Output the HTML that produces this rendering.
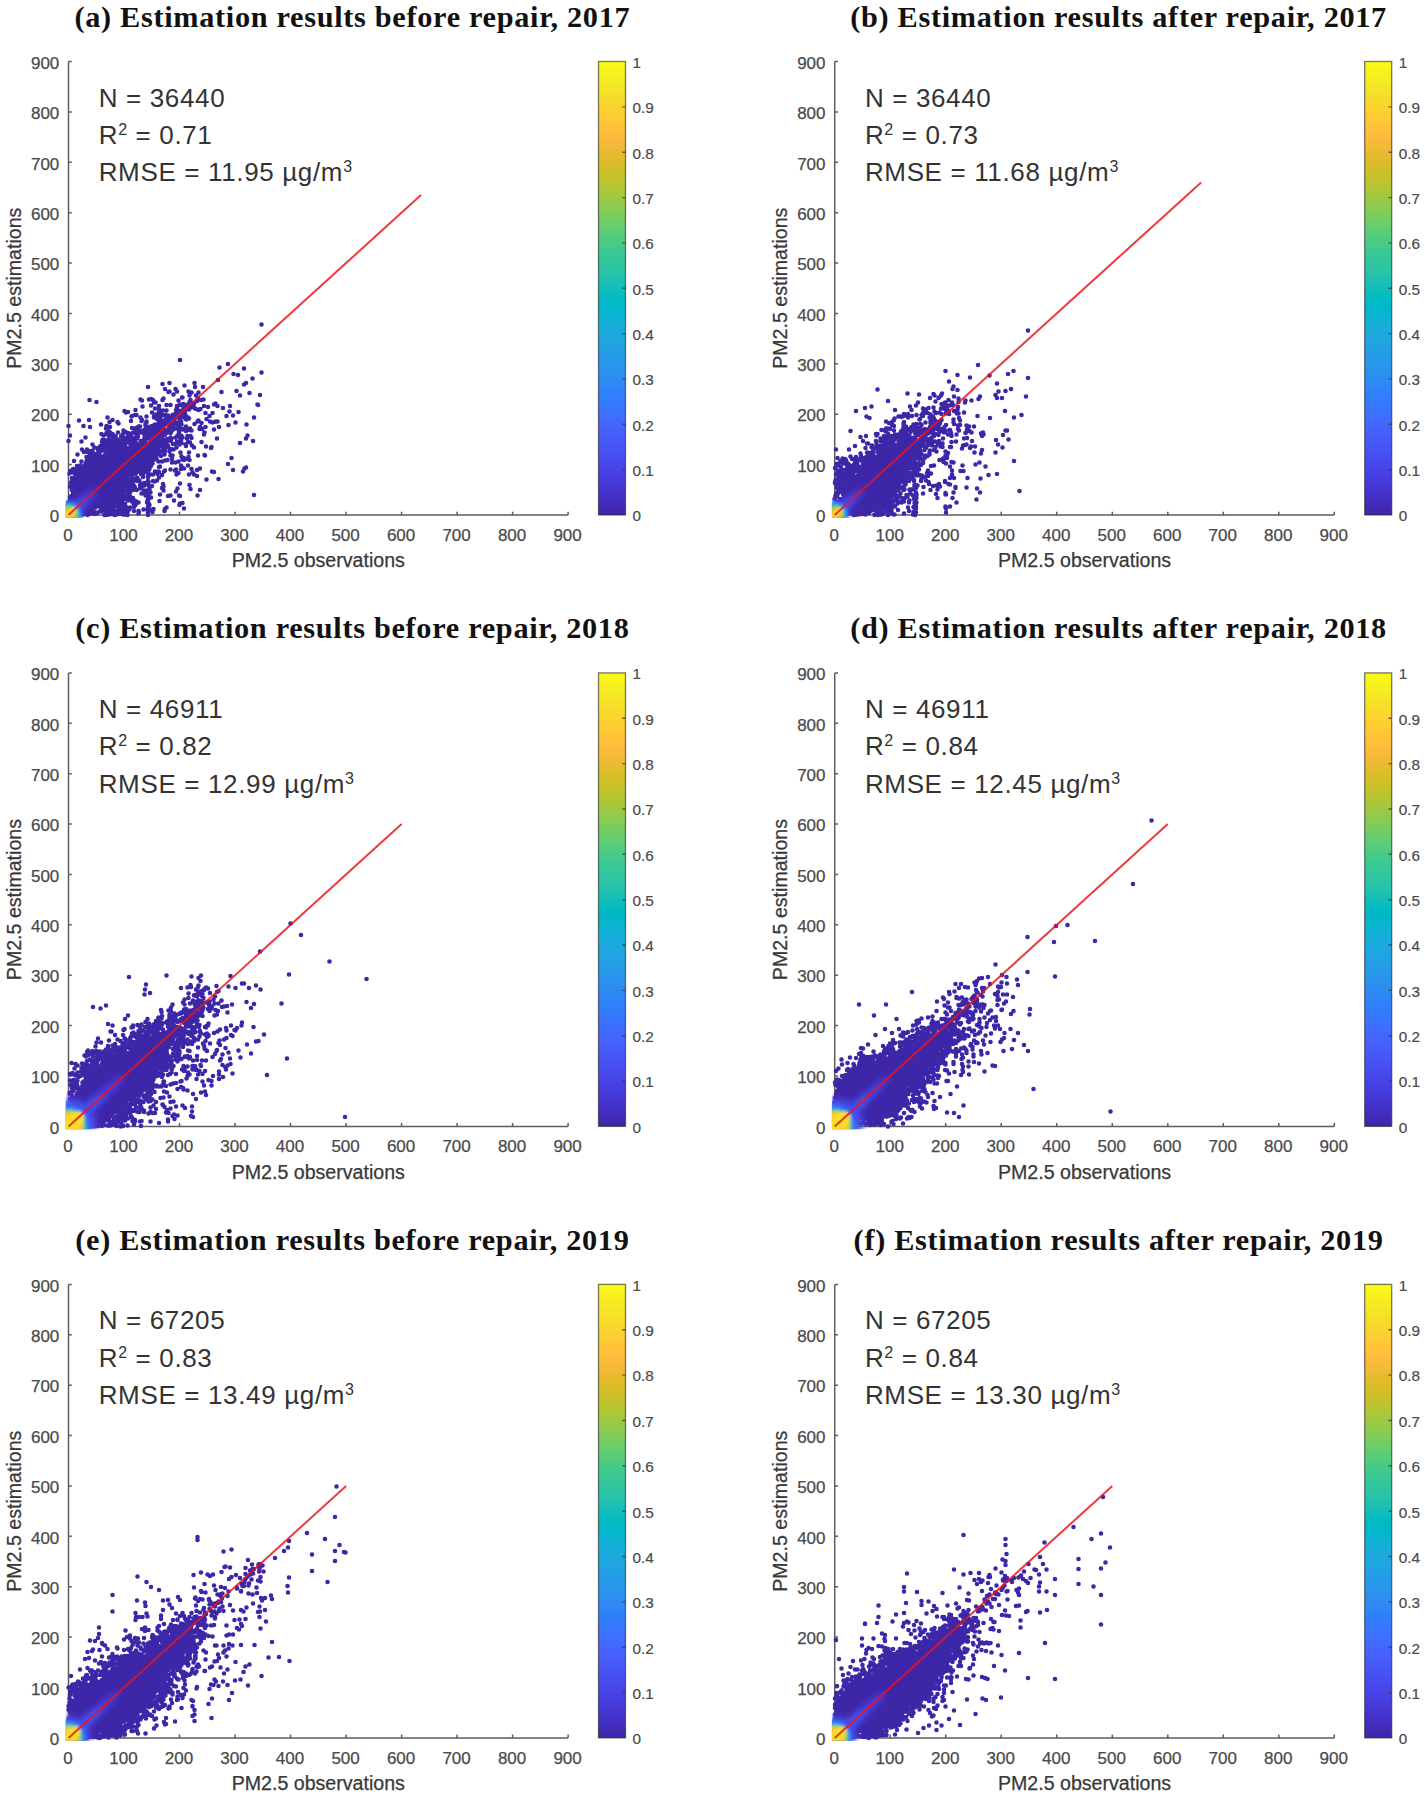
<!DOCTYPE html>
<html lang="en"><head><meta charset="utf-8"><title>PM2.5 estimation results before and after repair</title>
<style>
html,body{margin:0;padding:0;background:#fff}
svg{display:block}
.t{font-family:"Liberation Serif",serif;font-weight:bold;font-size:30.3px;letter-spacing:0.68px;fill:#111}
.tk{font-family:"Liberation Sans",sans-serif;font-size:17px;fill:#4a4a4a;stroke:#4a4a4a;stroke-width:0.25px}
.cb{font-family:"Liberation Sans",sans-serif;font-size:15.3px;fill:#4a4a4a;stroke:#4a4a4a;stroke-width:0.2px}
.lb{font-family:"Liberation Sans",sans-serif;font-size:19.6px;fill:#383838;stroke:#383838;stroke-width:0.25px}
.an{font-family:"Liberation Sans",sans-serif;font-size:26px;letter-spacing:0.65px;fill:#333}
.ax{stroke:#5c5c5c;stroke-width:1.5;fill:none}
.d{stroke:#3e26a8;stroke-width:4.6;stroke-linecap:round;fill:none}
</style></head>
<body>
<svg width="1425" height="1797" viewBox="0 0 1425 1797">
<defs>
<linearGradient id="par" x1="0" y1="1" x2="0" y2="0">
<stop offset="0.0000" stop-color="#3e26a8"/><stop offset="0.0159" stop-color="#402ab4"/><stop offset="0.0317" stop-color="#422ec0"/><stop offset="0.0476" stop-color="#4332cb"/><stop offset="0.0635" stop-color="#4537d5"/><stop offset="0.0794" stop-color="#463cde"/><stop offset="0.0952" stop-color="#4741e5"/><stop offset="0.1111" stop-color="#4747eb"/><stop offset="0.1270" stop-color="#484df0"/><stop offset="0.1429" stop-color="#4852f4"/><stop offset="0.1587" stop-color="#4758f8"/><stop offset="0.1746" stop-color="#465efb"/><stop offset="0.1905" stop-color="#4563fd"/><stop offset="0.2063" stop-color="#4269fe"/><stop offset="0.2222" stop-color="#3e6fff"/><stop offset="0.2381" stop-color="#3875fe"/><stop offset="0.2540" stop-color="#327cfc"/><stop offset="0.2698" stop-color="#2f81fa"/><stop offset="0.2857" stop-color="#2e87f7"/><stop offset="0.3016" stop-color="#2d8cf3"/><stop offset="0.3175" stop-color="#2b91ef"/><stop offset="0.3333" stop-color="#2797eb"/><stop offset="0.3492" stop-color="#259be8"/><stop offset="0.3651" stop-color="#23a0e5"/><stop offset="0.3810" stop-color="#20a5e3"/><stop offset="0.3968" stop-color="#1ca9df"/><stop offset="0.4127" stop-color="#18addb"/><stop offset="0.4286" stop-color="#12b1d6"/><stop offset="0.4444" stop-color="#08b5d0"/><stop offset="0.4603" stop-color="#01b8ca"/><stop offset="0.4762" stop-color="#02bac3"/><stop offset="0.4921" stop-color="#0bbdbd"/><stop offset="0.5079" stop-color="#19bfb6"/><stop offset="0.5238" stop-color="#24c1ae"/><stop offset="0.5397" stop-color="#2cc4a7"/><stop offset="0.5556" stop-color="#31c69f"/><stop offset="0.5714" stop-color="#37c897"/><stop offset="0.5873" stop-color="#3fca8e"/><stop offset="0.6032" stop-color="#4acb84"/><stop offset="0.6190" stop-color="#57cc7a"/><stop offset="0.6349" stop-color="#64cd6f"/><stop offset="0.6508" stop-color="#72cd64"/><stop offset="0.6667" stop-color="#81cc59"/><stop offset="0.6825" stop-color="#8fcb4e"/><stop offset="0.6984" stop-color="#9dc943"/><stop offset="0.7143" stop-color="#abc739"/><stop offset="0.7302" stop-color="#b9c431"/><stop offset="0.7460" stop-color="#c5c22a"/><stop offset="0.7619" stop-color="#d1bf27"/><stop offset="0.7778" stop-color="#dcbd29"/><stop offset="0.7937" stop-color="#e6bb2d"/><stop offset="0.8095" stop-color="#f0ba36"/><stop offset="0.8254" stop-color="#f8ba3d"/><stop offset="0.8413" stop-color="#febe3c"/><stop offset="0.8571" stop-color="#fec338"/><stop offset="0.8730" stop-color="#fec934"/><stop offset="0.8889" stop-color="#fccf30"/><stop offset="0.9048" stop-color="#fad62d"/><stop offset="0.9206" stop-color="#f7dc2a"/><stop offset="0.9365" stop-color="#f5e327"/><stop offset="0.9524" stop-color="#f5e924"/><stop offset="0.9683" stop-color="#f6ef20"/><stop offset="0.9841" stop-color="#f7f51b"/><stop offset="1.0000" stop-color="#f9fb15"/>
</linearGradient>
<filter id="bl" x="-50%" y="-50%" width="200%" height="200%"><feGaussianBlur stdDeviation="1.6"/></filter>
<filter id="bl2" x="-50%" y="-50%" width="200%" height="200%"><feGaussianBlur stdDeviation="3"/></filter>
</defs>
<rect width="1425" height="1797" fill="#fff"/>
<g id="panel-a">
<text class="t" x="352.4" y="27" text-anchor="middle">(a) Estimation results before repair, 2017</text>
<path class="ax" d="M68.5 61.5V515H568.1M124 515v-3.3M68.5 464.6h3.3M179.5 515v-3.3M68.5 414.2h3.3M235 515v-3.3M68.5 363.8h3.3M290.5 515v-3.3M68.5 313.4h3.3M346.1 515v-3.3M68.5 263.1h3.3M401.6 515v-3.3M68.5 212.7h3.3M457.1 515v-3.3M68.5 162.3h3.3M512.6 515v-3.3M68.5 111.9h3.3M568.1 515v-3.3M68.5 61.5h3.3"/>
<polygon points="77.5,506 77.5,478.4 83.7,477.5 84.5,477.4 85.4,477.1 86.2,476.8 86.9,476.4 87.6,475.9 88.3,475.4 88.9,474.8 98.4,464.7 99,464 99.5,463.3 105.8,453.1 113.2,447.4 126.2,447.4 127.2,447.4 145,445.3 145.8,445.2 146.6,445 147.3,444.7 148.1,444.4 148.8,444 157.3,438.7 156.5,445.6 145.7,455.4 145.2,456 144.7,456.5 144.3,457.1 136.7,468.5 125.1,477.7 124.5,478.3 123.9,478.9 123.3,479.5 122.9,480.3 122.5,481 122.2,481.8 121.9,482.6 121.8,483.5 118.5,506" fill="#3e26a8" stroke="#3e26a8" stroke-width="3" stroke-linejoin="round"/>
<path class="d" d="M70 513h0m1-1.5h0m-2-2h0m1.5-1h0m1-0.5h0m0-2.5h0m-1 0h0m-1.5-2.5h0m0 0h0m0.5 0h0m-1-0.5h0m2 0h0m0-2h0m-0.5-3.5h0m0-10.5h0m1-4h0m-1.5-9h0m1-2.5h0m-2-30h0m1.5-5.5h0m-1.5-9.5h0m6 89h0m1-1h0m-2.5 0h0m1 0h0m0-2h0m0-1h0m0.5 0h0m0 0h0m0.5-1h0m-2.5-1h0m2.5 0h0m-1-1h0m1-5h0m-0.5-0.5h0m-1.5-1h0m-1.5 0h0m1 0h0m1.5 0h0m0.5 0h0m0.5-0.5h0m-1.5 0h0m-1-1h0m0.5 0h0m2.5 0h0m-2.5 0h0m4.5-3h0m-1.5 0h0m-4-0.5h0m2.5 0h0m1 0h0m-4-0.5h0m6-0.5h0m-3-0.5h0m2 0h0m0-0.5h0m-1.5-0.5h0m-1.5 0h0m0.5 0h0m-1-1h0m2-0.5h0m1.5-1h0m-2-1.5h0m-2.5 0h0m0-1h0m0.5-1h0m0.5-1h0m-0.5 0h0m2.5-0.5h0m-2 0h0m-1.5-0.5h0m1.5-0.5h0m2-1h0m0 0h0m-1-0.5h0m0-0.5h0m1.5-0.5h0m-2 0h0m-1-0.5h0m2.5-0.5h0m2.5 0h0m0-1h0m-2 0h0m-0.5 0h0m-1 0h0m-2 0h0m3-1h0m-1.5 0h0m1.5-0.5h0m-1 0h0m2-0.5h0m-3 0h0m-1-1h0m0 0h0m3.5-1.5h0m1.5-0.5h0m-0.5-1h0m-2-1.5h0m0-1.5h0m-1 0h0m-1.5 0h0m5.5-1.5h0m-5-1h0m1-0.5h0m3.5-3h0m-3-5h0m3.5 54h0m5.5-0.5h0m-3-1h0m-1.5 0h0m3 0h0m0 0h0m-2-2.5h0m0-1h0m4-0.5h0m-2.5-0.5h0m2-0.5h0m0-0.5h0m-1.5 0h0m0.5-1.5h0m0-0.5h0m-1-1h0m-0.5-0.5h0m1 0h0m-2-2h0m-1-1.5h0m1.5-2.5h0m-2.5-0.5h0m1 0h0m-0.5-0.5h0m0.5-0.5h0m0-0.5h0m0.5-1h0m0-0.5h0m-1-0.5h0m1.5-1.5h0m-2-0.5h0m1 0h0m1-1.5h0m-1-0.5h0m0.5-1.5h0m-1.5-1.5h0m1.5-1.5h0m0-0.5h0m0.5 0h0m0.5-1.5h0m0-1h0m-1.5 0h0m4.5-3.5h0m0-0.5h0m-2.5-0.5h0m2.5-0.5h0m-4.5 0h0m1.5-2.5h0m2-1.5h0m1-1.5h0m0-0.5h0m-1.5 0h0m0 0h0m-4 0h0m4-0.5h0m0 0h0m-1.5 0h0m2-0.5h0m0-1h0m-4-0.5h0m-0.5-1h0m3.5 0h0m0-2h0m-3 0h0m2-1h0m1.5-4h0m-4-7h0m4.5-5h0m-0.5-8h0m2-15.5h0m-4.5-5.5h0m8.5 94.5h0m-3-2h0m3.5 0h0m-2.5-0.5h0m-2-1h0m2-0.5h0m1.5-0.5h0m-0.5-0.5h0m2 0h0m0.5-0.5h0m-2 0h0m-3 0h0m4 0h0m-1-0.5h0m-3.5 0h0m1 0h0m4.5-2h0m0-0.5h0m-4 0h0m2.5-0.5h0m-2-0.5h0m2-0.5h0m-2-1h0m4-0.5h0m-5.5-24h0m1-0.5h0m1.5-1h0m0 0h0m-2-2h0m5-0.5h0m-1.5-0.5h0m-1.5 0h0m-3-1h0m1.5-1h0m1-1h0m-2 0h0m4.5-0.5h0m-1.5-2h0m-3 0h0m-0.5 0h0m4-0.5h0m-0.5-2.5h0m0-0.5h0m0.5 0h0m-3.5 0h0m2.5-0.5h0m-1.5 0h0m0.5-1h0m0.5-1h0m3.5-1h0m-1.5 0h0m-1.5-1h0m2.5-0.5h0m-2-0.5h0m1.5-1.5h0m-1.5 0h0m2-1h0m-2.5-1h0m1-5h0m-3.5 0h0m3-2.5h0m-1.5-12h0m3.5-17.5h0m5.5 94h0m-4-0.5h0m1.5-1.5h0m2.5 0h0m-3.5-1.5h0m-0.5-0.5h0m2-0.5h0m-0.5-0.5h0m-1.5-2h0m-0.5-0.5h0m3-1.5h0m-1.5-1h0m1 0h0m-2-29.5h0m2.5-0.5h0m-1.5 0h0m2-0.5h0m-1-0.5h0m-3-0.5h0m4 0h0m-2-1h0m2.5 0h0m0.5-0.5h0m-1-0.5h0m2 0h0m-3.5-1.5h0m1.5 0h0m-3.5-0.5h0m1-1.5h0m3.5-1.5h0m-4.5-0.5h0m4.5-1.5h0m-1-1h0m-1 0h0m-2-2h0m0.5-1h0m1.5-1h0m2-1h0m-2 0h0m1-1h0m1.5 0h0m-3.5-0.5h0m1.5-0.5h0m-3-1h0m5-0.5h0m-4.5-0.5h0m0.5-2.5h0m1.5 0h0m-0.5 0h0m2.5-3.5h0m-2-3h0m-2.5-17.5h0m-0.5-27h0m7.5 113.5h0m-1-1h0m3.5-1h0m1-0.5h0m0 0h0m0.5-1h0m-5.5-2.5h0m4-1h0m-2-1h0m1.5-1h0m0.5 0h0m-1.5-1h0m-1.5-35h0m1.5-0.5h0m-0.5-1h0m0.5 0h0m2.5-1h0m-1 0h0m-2-1h0m2.5-0.5h0m-3-0.5h0m4.5 0h0m-2-0.5h0m-1.5-1.5h0m0.5 0h0m3-0.5h0m-6-1.5h0m4.5-0.5h0m-1.5-1h0m-0.5-0.5h0m-2-0.5h0m0-1h0m5.5 0h0m-2.5-0.5h0m0-2h0m1.5-2.5h0m-2 0h0m0-1h0m-0.5-0.5h0m0-2h0m3-1.5h0m-0.5-0.5h0m1-12h0m-0.5-9.5h0m-4.5-22.5h0m10 113h0m-2 0h0m1.5-2h0m-4.5-1.5h0m5.5-1h0m-2 0h0m1.5 0h0m-3-2.5h0m-1.5-0.5h0m1-0.5h0m1 0h0m1.5 0h0m-2.5-2.5h0m4 0h0m-0.5-0.5h0m-3-43.5h0m0-0.5h0m0.5 0h0m0.5-2h0m1 0h0m-2-0.5h0m-1 0h0m1.5-0.5h0m0 0h0m1-2h0m2 0h0m0-1h0m0-2h0m-3.5-1.5h0m0-0.5h0m-1 0h0m0-1.5h0m-0.5 0h0m5.5-0.5h0m-1.5-0.5h0m-2-0.5h0m1.5 0h0m0-1h0m-2-0.5h0m2.5 0h0m-0.5-2.5h0m-3.5-1h0m0.5-2h0m2.5 0h0m-1.5-4.5h0m3.5-1.5h0m-0.5-1h0m-0.5-4.5h0m0.5-2.5h0m2.5 88.5h0m2.5-0.5h0m-0.5-0.5h0m-1.5-0.5h0m2-0.5h0m1-2h0m0.5-0.5h0m0-0.5h0m-1.5-0.5h0m-4 0h0m1.5 0h0m1.5-1h0m1.5-1.5h0m-2-0.5h0m1.5-1.5h0m-3.5-0.5h0m0-51h0m1.5-0.5h0m-1 0h0m-0.5 0h0m1.5 0h0m-1-1h0m0-1h0m3 0h0m0-0.5h0m-3-0.5h0m2.5 0h0m1.5 0h0m-1.5-1.5h0m-3.5-0.5h0m4 0h0m-1-0.5h0m-1 0h0m0.5 0h0m1.5-0.5h0m-3-0.5h0m3-0.5h0m-0.5-0.5h0m2.5-0.5h0m-2 0h0m-1 0h0m0-2h0m-1.5-0.5h0m-0.5 0h0m1-0.5h0m-1.5 0h0m0-0.5h0m5-0.5h0m-4-1h0m4 0h0m0-0.5h0m-0.5-2.5h0m-4-1h0m4-1.5h0m-2.5-0.5h0m0-1h0m-1-1h0m-0.5-4.5h0m1.5 0h0m-0.5-5h0m3-2h0m-5-2.5h0m7 97.5h0m2-0.5h0m1-1h0m0.5 0h0m-1.5-0.5h0m2 0h0m-0.5-1h0m-4.5-0.5h0m1-0.5h0m3.5 0h0m0.5-1h0m-0.5-2.5h0m-4.5 0h0m4-1.5h0m-4-1.5h0m4.5 0h0m0.5-0.5h0m0-1h0m-1.5-1.5h0m2 0h0m-1.5-2h0m1-1h0m0-4.5h0m-0.5-1.5h0m0.5-2.5h0m1-6h0m-2-35h0m-2 0h0m-1-1h0m1.5 0h0m0-0.5h0m-1 0h0m1 0h0m3-1h0m-4.5-0.5h0m3 0h0m1.5-0.5h0m-2.5 0h0m0.5 0h0m0.5-0.5h0m2-1.5h0m-3-0.5h0m-1-0.5h0m-0.5-0.5h0m2.5-0.5h0m0 0h0m-2-1h0m2-1h0m-2.5-1h0m0.5-2.5h0m2.5-3.5h0m0.5-9h0m-1-1.5h0m5.5 92.5h0m-2.5-1h0m2.5-1.5h0m-3.5-0.5h0m4-0.5h0m-1 0h0m-0.5-0.5h0m2.5 0h0m-2-0.5h0m-1.5 0h0m1.5-1h0m-3 0h0m4.5 0h0m-3-2h0m1 0h0m-1.5-0.5h0m3 0h0m-2.5-0.5h0m3-0.5h0m-1 0h0m2-1.5h0m-5-0.5h0m1.5 0h0m-1.5 0h0m-0.5-1.5h0m2.5-1h0m-1.5-0.5h0m2.5-1h0m0.5 0h0m-3-1h0m2 0h0m-1.5-0.5h0m-1 0h0m2-1h0m-1-0.5h0m-0.5-0.5h0m0 0h0m0 0h0m4-0.5h0m-5-0.5h0m3.5-0.5h0m0.5-0.5h0m-1-0.5h0m-2.5-1.5h0m3.5 0h0m-1-1h0m1-1.5h0m1.5 0h0m-4.5-0.5h0m2.5-1.5h0m-0.5-0.5h0m0-0.5h0m-1.5 0h0m-0.5-0.5h0m4.5 0h0m-1.5-0.5h0m1 0h0m-1-0.5h0m-0.5 0h0m-2-0.5h0m-0.5 0h0m3-2h0m-2.5-0.5h0m-1-0.5h0m1-0.5h0m1 0h0m1-0.5h0m1.5-1h0m-0.5-1h0m1-0.5h0m-1 0h0m-1.5-0.5h0m-3-28h0m6 0h0m-0.5-0.5h0m-2-1h0m2-0.5h0m-2 0h0m-1 0h0m3-1.5h0m-1-0.5h0m-4-0.5h0m1 0h0m3.5-1h0m-3.5-0.5h0m-0.5-0.5h0m3-1h0m-2.5-1.5h0m3 0h0m0-3h0m-3-1h0m1.5-2h0m3-2.5h0m-2-1.5h0m1-19.5h0m3 104h0m-1.5-0.5h0m1.5-2h0m-0.5-0.5h0m-1-0.5h0m1-0.5h0m1.5-1h0m-0.5 0h0m1.5-1h0m0-1h0m0.5-0.5h0m-4-0.5h0m2-6.5h0m-0.5-0.5h0m2.5-0.5h0m-2.5-0.5h0m-1.5-0.5h0m2 0h0m-2-0.5h0m4.5-1h0m-3-1.5h0m0.5 0h0m1-1h0m-1-0.5h0m0.5-1h0m1.5-0.5h0m-1-0.5h0m0.5-1h0m-3-0.5h0m0.5-1.5h0m2-1h0m2.5 0h0m-1.5-1h0m1-0.5h0m-3 0h0m0.5 0h0m0 0h0m-2-2.5h0m0-1h0m3 0h0m0-0.5h0m2 0h0m-5.5-1h0m2.5-0.5h0m1.5 0h0m-1.5 0h0m1.5-1h0m-3-1.5h0m4-2.5h0m0 0h0m-0.5-0.5h0m0 0h0m1-0.5h0m-3 0h0m3 0h0m-2.5-0.5h0m1-1.5h0m0.5-1h0m1-1h0m-3.5-22h0m0-0.5h0m2.5-0.5h0m0.5-3h0m0.5-0.5h0m-1.5-1h0m-4.5-0.5h0m0 0h0m5 0h0m-2.5-0.5h0m1.5-1h0m-3.5-2.5h0m2 0h0m0.5-0.5h0m-1-0.5h0m3.5-2.5h0m-3-1h0m1.5-0.5h0m-1.5-1h0m3-12h0m0.5-4.5h0m-5.5-4h0m2-0.5h0m6 99h0m0-4h0m1.5-2h0m-2-1.5h0m1.5-1h0m0.5-1h0m-3.5 0h0m2-0.5h0m1.5 0h0m-2.5-3h0m3.5-8h0m-4 0h0m2-0.5h0m0.5-2h0m-1-1.5h0m-1-2h0m-1.5-2h0m0 0h0m5.5-1h0m-2.5-1h0m-2 0h0m0-1h0m1.5 0h0m1.5-0.5h0m-3 0h0m3 0h0m2-0.5h0m-6-0.5h0m0.5 0h0m-0.5-3h0m4-0.5h0m-3-0.5h0m0.5 0h0m3.5-1h0m-1.5 0h0m-1 0h0m0-1h0m0-0.5h0m0-1.5h0m0.5-1h0m-1.5 0h0m3.5-1h0m1-3h0m-4-15.5h0m-2-1.5h0m5 0h0m-3.5-0.5h0m-0.5-0.5h0m2.5-1h0m0 0h0m-1-1.5h0m2 0h0m-3-0.5h0m0.5 0h0m3 0h0m-1-0.5h0m-1.5-2h0m1-0.5h0m0.5-0.5h0m-2.5 0h0m2.5-1h0m-1.5 0h0m-1.5-0.5h0m4.5-0.5h0m-2.5 0h0m1.5-0.5h0m-4.5 0h0m5-3h0m-4-1.5h0m3.5-0.5h0m-1.5-3.5h0m-2.5-1h0m4 0h0m-4-12h0m3-1h0m1.5 0h0m-1-5h0m3 103.5h0m0.5-1.5h0m-0.5-1h0m0-8.5h0m3-9h0m-1.5-5h0m1.5-1.5h0m-1.5-1.5h0m0.5-1h0m0-0.5h0m-1-3.5h0m3.5-3.5h0m0-0.5h0m0-1.5h0m-1-0.5h0m-1-0.5h0m1 0h0m1-0.5h0m0.5-0.5h0m-2.5 0h0m2 0h0m-0.5-2h0m-4-0.5h0m4-1.5h0m-1 0h0m-3-0.5h0m2.5 0h0m0.5 0h0m-3-1h0m2-0.5h0m-1 0h0m1-1h0m-2 0h0m2-2h0m0.5 0h0m-2-0.5h0m-0.5 0h0m5-0.5h0m-5 0h0m4-0.5h0m-0.5 0h0m-1 0h0m0.5-1h0m1.5-0.5h0m-3.5 0h0m2-2h0m1.5-1.5h0m-0.5 0h0m-0.5-1h0m1.5 0h0m-3.5-8.5h0m-1-0.5h0m-0.5 0h0m0.5-0.5h0m0-2h0m1.5 0h0m1-1.5h0m1.5-2h0m-2.5-0.5h0m-2.5-4.5h0m5.5-3.5h0m-3.5-0.5h0m2 0h0m1-1.5h0m0-0.5h0m-4 0h0m1-4h0m-1.5 0h0m1 0h0m2-5.5h0m0.5-1h0m-1.5-2.5h0m2-11h0m-0.5-6h0m-1.5-1h0m7.5 115.5h0m0-1.5h0m0-1h0m0-1h0m-4.5-2h0m4 0h0m1-1.5h0m-0.5-0.5h0m0 0h0m0-1h0m1.5-1.5h0m-0.5-0.5h0m0-0.5h0m-2-1.5h0m1 0h0m-0.5-1.5h0m0-0.5h0m0.5 0h0m0-0.5h0m1.5-3h0m-2-0.5h0m-2-1h0m2.5-1.5h0m0.5-2h0m-4-0.5h0m4 0h0m-0.5-0.5h0m-4-0.5h0m2.5 0h0m3-1h0m-0.5-3.5h0m-4.5-0.5h0m3-2h0m-3.5-0.5h0m4-0.5h0m0.5 0h0m-1-0.5h0m1 0h0m-0.5-1h0m0-3.5h0m0-1h0m0-3h0m0.5-0.5h0m-1-0.5h0m0.5-1h0m0.5-1h0m-3-0.5h0m2-0.5h0m1-0.5h0m-4.5-0.5h0m4-0.5h0m0 0h0m-4.5 0h0m1 0h0m1.5-1h0m0.5 0h0m-1.5-1.5h0m0.5 0h0m2.5-1h0m-1 0h0m-3.5-0.5h0m2 0h0m-1-1.5h0m3-1h0m-3 0h0m0-0.5h0m3.5 0h0m-4 0h0m0.5-0.5h0m2-0.5h0m-3 0h0m3-0.5h0m-1.5 0h0m-1 0h0m4.5-1h0m0 0h0m-2.5-2h0m2.5-0.5h0m-4 0h0m0-0.5h0m1-0.5h0m2 0h0m-1.5-2h0m2.5 0h0m1-1.5h0m-2.5-0.5h0m1.5-1.5h0m-5-2.5h0m2.5 0h0m-1-2h0m1.5-1.5h0m-0.5 0h0m-0.5-1.5h0m-2 0h0m1 0h0m-1-1h0m0.5-1.5h0m2-0.5h0m-1.5-1h0m4 0h0m0.5-0.5h0m-4-0.5h0m3.5-0.5h0m-4-1.5h0m4.5-0.5h0m-1-0.5h0m-3.5-1h0m0 0h0m0.5 0h0m-1.5-1h0m5 0h0m-2.5-0.5h0m3 0h0m-3.5-0.5h0m-0.5-1.5h0m2-2.5h0m-1-1h0m-0.5-0.5h0m0-1.5h0m1-1.5h0m0-1h0m0-5h0m2.5-17h0m-1-12.5h0m4.5 125h0m-2.5-2.5h0m3.5-0.5h0m-2.5-11.5h0m-0.5-5h0m1.5-6.5h0m2.5-4.5h0m-1.5-0.5h0m-2.5-6.5h0m2.5 0h0m2-3h0m-5.5-2.5h0m1.5-3h0m1.5-2.5h0m-0.5-0.5h0m-1-2.5h0m3.5-1h0m-1-0.5h0m0.5-1.5h0m-3.5 0h0m1.5 0h0m2.5-1.5h0m-2.5-0.5h0m2-0.5h0m1-0.5h0m-3 0h0m3-1.5h0m-1.5-0.5h0m-0.5-1h0m0.5 0h0m-0.5-0.5h0m0.5 0h0m0.5-0.5h0m1-0.5h0m-3 0h0m0.5-1.5h0m1.5-3.5h0m-4 0h0m5-0.5h0m-4.5-3h0m0-0.5h0m2.5-1h0m1.5-1.5h0m-3-0.5h0m0-0.5h0m1.5-0.5h0m-0.5-0.5h0m-2.5-1h0m1.5-0.5h0m3-0.5h0m0.5-0.5h0m-0.5-0.5h0m-3.5-1h0m4-0.5h0m-2.5 0h0m-1 0h0m0.5-0.5h0m-2-1.5h0m-0.5 0h0m2-1h0m-2 0h0m3.5-1h0m-2.5-1.5h0m2-0.5h0m2-1h0m0.5-0.5h0m-1-7h0m0-1h0m-2-4h0m3-4h0m-4-3h0m3-3h0m-1-2.5h0m-2-1h0m8.5 102h0m0.5-6.5h0m-3-14h0m2-3h0m-1.5-3.5h0m1.5-2h0m-1-0.5h0m1-4.5h0m0.5 0h0m0.5-0.5h0m-1.5-5h0m-2-3h0m4.5-2.5h0m-4.5-1.5h0m3 0h0m-2.5-1.5h0m4-1.5h0m-0.5 0h0m-0.5-0.5h0m-2-2h0m1.5-3h0m-2 0h0m2-1h0m0.5-0.5h0m0.5 0h0m-1 0h0m-1.5 0h0m1-0.5h0m-1.5-0.5h0m3-1h0m-2.5-0.5h0m-2-2h0m2-1h0m1.5-2h0m-2.5 0h0m2.5-0.5h0m-1-0.5h0m0.5 0h0m2.5-1.5h0m-5.5-0.5h0m5-0.5h0m0 0h0m-4 0h0m3-0.5h0m-4.5-1.5h0m2 0h0m-0.5-1h0m4.5 0h0m-5.5 0h0m2.5 0h0m-3 0h0m3-0.5h0m1-1.5h0m-3-0.5h0m2-0.5h0m2.5 0h0m-3-3.5h0m2-1.5h0m-1-1h0m2.5-1h0m-3-1.5h0m-1.5 0h0m1.5-0.5h0m2-1.5h0m-1.5-0.5h0m-2-1h0m-1-1h0m3-2.5h0m1 0h0m-1 0h0m0-3h0m0-3h0m-3.5-3.5h0m9 108.5h0m0.5-2h0m1.5-1.5h0m-3-17h0m-0.5-1.5h0m-1-1h0m1.5-1.5h0m-0.5-2.5h0m-1-9h0m2-3.5h0m1-1h0m-3-9h0m3-1h0m2.5-0.5h0m-3-5.5h0m0-0.5h0m0.5-3h0m-2-0.5h0m-0.5-1h0m3-2h0m1.5-0.5h0m-2-0.5h0m-3-1h0m2.5-0.5h0m0.5-1h0m1.5 0h0m0 0h0m-3-1h0m0-0.5h0m-1.5-1.5h0m1-0.5h0m2.5-0.5h0m0.5 0h0m-3.5-0.5h0m5-0.5h0m-4-3.5h0m1.5-0.5h0m-1-1.5h0m3.5-3h0m-1 0h0m-4.5-1h0m-0.5-0.5h0m2.5 0h0m-2-1.5h0m2.5-3h0m-3-0.5h0m0.5 0h0m3.5-1.5h0m-3-1h0m0.5-0.5h0m3.5-0.5h0m0-1h0m-1-0.5h0m1-0.5h0m0.5-1h0m-4-2.5h0m2.5 0h0m-4-0.5h0m5-4h0m-3.5 0h0m3.5-5.5h0m-4-5h0m1-1.5h0m1.5-9.5h0m-2.5-5h0m5.5 112h0m2.5-0.5h0m0-26h0m1.5-7h0m0-3.5h0m0.5-3.5h0m-2 0h0m-1-4h0m4-2h0m-2.5-0.5h0m-1.5-0.5h0m-1.5-3h0m5-1.5h0m-2-3h0m-2-0.5h0m2.5-2h0m-1-1h0m0 0h0m0-4.5h0m-3-0.5h0m3.5 0h0m-0.5-0.5h0m2-2h0m-3-0.5h0m2-0.5h0m-1.5-0.5h0m-1 0h0m3.5 0h0m0.5-1.5h0m-3.5-1.5h0m-1-1h0m3.5-1h0m0.5-0.5h0m-3-0.5h0m4-0.5h0m-4.5-2.5h0m4-1h0m-4.5 0h0m4-1h0m-4.5-0.5h0m0.5 0h0m3-0.5h0m-3.5-1h0m4.5-0.5h0m0 0h0m-2-10h0m-2-13h0m1-0.5h0m0-8.5h0m4.5 117.5h0m5-5h0m-3-4h0m1.5-3h0m-1-14h0m2-1.5h0m-3.5-2.5h0m1-1h0m-0.5-7h0m3-1h0m-2-14h0m3-3h0m-4.5-0.5h0m2-2h0m0-0.5h0m-1.5-4h0m3.5-1h0m-1.5-1h0m1.5-3h0m0-1.5h0m0-1.5h0m0.5-0.5h0m-4-0.5h0m3.5-0.5h0m0-3h0m-1.5-0.5h0m-3.5-0.5h0m4-1.5h0m-4-0.5h0m0.5-0.5h0m-1-1.5h0m0-0.5h0m3-2h0m-2-0.5h0m4-0.5h0m-0.5 0h0m-1.5-0.5h0m-1.5 0h0m2-0.5h0m-3-1h0m2.5-2h0m3-1.5h0m-1-0.5h0m-2.5-0.5h0m1-2.5h0m0-1.5h0m1.5-5.5h0m-5-6h0m3.5-3h0m-1.5-2.5h0m8.5 119.5h0m-4.5-3.5h0m0.5-1.5h0m2.5-0.5h0m-2.5-7h0m0-12.5h0m1-14.5h0m3-0.5h0m-2.5-2h0m-0.5-1h0m3-5.5h0m-1.5-0.5h0m1-1.5h0m-2-1.5h0m-1-4h0m1-9.5h0m-0.5 0h0m0-2.5h0m-0.5-1.5h0m2-1.5h0m-1-1.5h0m-0.5-0.5h0m1.5-6h0m-1.5-0.5h0m2.5 0h0m-2-4.5h0m-0.5-3h0m-1-2.5h0m5.5 0h0m-2.5-2h0m-2-0.5h0m0 0h0m1-0.5h0m-1-0.5h0m4.5-0.5h0m-5-2h0m3.5-1h0m-3.5-0.5h0m4.5 0h0m-5-0.5h0m2 0h0m-0.5 0h0m-0.5 0h0m1.5-0.5h0m2 0h0m0-0.5h0m-1-2h0m-3.5-3h0m4.5 0h0m-4.5-0.5h0m3.5-0.5h0m-1-6.5h0m-0.5 0h0m2.5-12h0m-4.5-25.5h0m10.5 129h0m-1-4h0m-0.5-10.5h0m-1-9h0m1.5-5.5h0m-4-1h0m3-2h0m0.5-4.5h0m0 0h0m-3-6.5h0m-0.5-1.5h0m4.5-2h0m-2-0.5h0m-1-3.5h0m4.5-0.5h0m-4-2h0m3 0h0m-4.5-5h0m3.5-1h0m-3-0.5h0m1.5-0.5h0m0 0h0m2-0.5h0m-4-2h0m0.5-7h0m2.5-1h0m-3-1h0m2 0h0m1-8h0m2-2h0m0 0h0m-4.5-0.5h0m0.5-1h0m4.5-0.5h0m-4 0h0m1.5 0h0m-3-0.5h0m2.5 0h0m0.5-1h0m1.5-0.5h0m0.5-0.5h0m-1.5-1h0m1-2h0m-1-4.5h0m2-3h0m-3-1h0m9 104h0m-0.5-19.5h0m-3-1.5h0m-1.5-2h0m4.5-2.5h0m-5.5-1h0m2.5-21.5h0m-2-2h0m-0.5-15h0m3-6.5h0m1.5-15h0m-1-0.5h0m-1.5-2.5h0m0.5-2.5h0m3-2.5h0m-1-5.5h0m-1-8.5h0m-0.5-4h0m5.5 107h0m0-21.5h0m-2-13h0m3.5-13.5h0m-2-13h0m2 0h0m0.5 0h0m-2-0.5h0m1.5 0h0m-1.5-1.5h0m1.5-4h0m-4-1.5h0m1-1h0m0-10.5h0m2-1h0m0.5-9h0m-3-2h0m0.5-5.5h0m4.5-5.5h0m3.5 92.5h0m-1.5-24h0m-0.5-0.5h0m1.5-8.5h0m-2-12h0m0.5-2h0m1-5.5h0m1-8h0m-1-6h0m2.5-6h0m-4-1h0m-0.5-6.5h0m10.5 72.5h0m-2-0.5h0m-1-23.5h0m0.5-1h0m2.5-17.5h0m-1.5-7h0m1.5-0.5h0m-4-0.5h0m-0.5-5.5h0m3-3h0m1.5-8.5h0m1.5-1h0m3 75.5h0m-1.5-40.5h0m2-11.5h0m-1.5-5.5h0m-1.5 0h0m1.5-15.5h0m4-14h0m-3.5-12h0m1.5-12.5h0m7 48.5h0m-3.5-8h0m10 62h0m-5-6h0m3.5-6h0m-3-33h0m4.5-9.5h0m-3.5-4h0m0.5-5.5h0m-2-42h0m7.5 58.5h0m3-10.5h0m-2-21h0m1.5-16h0m-4.5-1h0m9.5 97.5h0m1.5-3h0m-4.5-25.5h0m0-47.5h0m4-11h0m0-16h0m2 99h0m0-29h0m1.5-3h0m-1-11h0m3-31.5h0m-3.5-10h0m8 112h0m-1-54h0m1-23.5h0m3.5-13h0m-5-26h0m5.5 26.5h0m2-10h0m1.5-22.5h0m0-48h0"/>
<clipPath id="clip-a"><rect x="65.7" y="315" width="200" height="202.8"/></clipPath>
<g clip-path="url(#clip-a)"><g filter="url(#bl2)"><ellipse cx="82.4" cy="502.4" rx="18.8" ry="5" fill="#473fe3" opacity="1" transform="rotate(-42.2 82.4 502.4)"/><ellipse cx="76.8" cy="507.4" rx="12" ry="5.5" fill="#4755f6" opacity="0.95" transform="rotate(-42.2 76.8 507.4)"/><circle cx="68.5" cy="515" r="13" fill="#484aee" opacity="0.85"/><circle cx="68.5" cy="515" r="10.9" fill="#475cfa" opacity="0.9"/></g><g filter="url(#bl)"><circle cx="68.5" cy="515" r="13.5" fill="#3876fe" opacity="1"/><circle cx="68.5" cy="515" r="11.3" fill="#15afd9" opacity="1"/><circle cx="68.5" cy="515" r="9.7" fill="#48cb86" opacity="1"/><circle cx="68.5" cy="515" r="8.3" fill="#c1c32d" opacity="1"/><circle cx="68.5" cy="515" r="4.5" fill="#fec437" opacity="1"/><ellipse cx="71.6" cy="512.2" rx="6" ry="3.4" fill="#f6e028" opacity="1" transform="rotate(-42.2 71.6 512.2)"/></g></g>
<line x1="68.5" y1="515" x2="421" y2="195" stroke="#e8141c" stroke-opacity="0.84" stroke-width="2"/>
<text class="tk" x="68" y="540.9" text-anchor="middle">0</text><text class="tk" x="59.3" y="522.2" text-anchor="end">0</text>
<text class="tk" x="123.5" y="540.9" text-anchor="middle">100</text><text class="tk" x="59.3" y="471.8" text-anchor="end">100</text>
<text class="tk" x="179" y="540.9" text-anchor="middle">200</text><text class="tk" x="59.3" y="421.4" text-anchor="end">200</text>
<text class="tk" x="234.5" y="540.9" text-anchor="middle">300</text><text class="tk" x="59.3" y="371" text-anchor="end">300</text>
<text class="tk" x="290" y="540.9" text-anchor="middle">400</text><text class="tk" x="59.3" y="320.6" text-anchor="end">400</text>
<text class="tk" x="345.6" y="540.9" text-anchor="middle">500</text><text class="tk" x="59.3" y="270.3" text-anchor="end">500</text>
<text class="tk" x="401.1" y="540.9" text-anchor="middle">600</text><text class="tk" x="59.3" y="219.9" text-anchor="end">600</text>
<text class="tk" x="456.6" y="540.9" text-anchor="middle">700</text><text class="tk" x="59.3" y="169.5" text-anchor="end">700</text>
<text class="tk" x="512.1" y="540.9" text-anchor="middle">800</text><text class="tk" x="59.3" y="119.1" text-anchor="end">800</text>
<text class="tk" x="567.6" y="540.9" text-anchor="middle">900</text><text class="tk" x="59.3" y="68.7" text-anchor="end">900</text>
<text class="lb" x="318.3" y="567.2" text-anchor="middle">PM2.5 observations</text>
<text class="lb" transform="translate(20.8 288.2) rotate(-90)" text-anchor="middle">PM2.5 estimations</text>
<text class="an" x="98.7" y="106.5">N = 36440</text>
<text class="an" x="98.7" y="143.8">R<tspan dy="-9" font-size="16">2</tspan><tspan dy="9"> = 0.71</tspan></text>
<text class="an" x="98.7" y="181.1">RMSE = 11.95 µg/m<tspan dy="-9" font-size="16">3</tspan></text>
<rect x="598.5" y="61.5" width="27" height="453.5" fill="url(#par)" stroke="#222" stroke-opacity="0.6" stroke-width="1.3"/>
<path d="M625.5 469.6h-3.3M625.5 424.3h-3.3M625.5 378.9h-3.3M625.5 333.6h-3.3M625.5 288.2h-3.3M625.5 242.9h-3.3M625.5 197.6h-3.3M625.5 152.2h-3.3M625.5 106.9h-3.3" stroke="#333" stroke-opacity="0.7" stroke-width="1.4" fill="none"/>
<text class="cb" x="632.5" y="521.3">0</text><text class="cb" x="632.5" y="475.9">0.1</text><text class="cb" x="632.5" y="430.6">0.2</text><text class="cb" x="632.5" y="385.2">0.3</text><text class="cb" x="632.5" y="339.9">0.4</text><text class="cb" x="632.5" y="294.6">0.5</text><text class="cb" x="632.5" y="249.2">0.6</text><text class="cb" x="632.5" y="203.9">0.7</text><text class="cb" x="632.5" y="158.5">0.8</text><text class="cb" x="632.5" y="113.2">0.9</text><text class="cb" x="632.5" y="67.8">1</text>
</g>
<g id="panel-b">
<text class="t" x="1118.6" y="27" text-anchor="middle">(b) Estimation results after repair, 2017</text>
<path class="ax" d="M834.7 61.5V515H1334.3M890.2 515v-3.3M834.7 464.6h3.3M945.7 515v-3.3M834.7 414.2h3.3M1001.2 515v-3.3M834.7 363.8h3.3M1056.7 515v-3.3M834.7 313.4h3.3M1112.3 515v-3.3M834.7 263.1h3.3M1167.8 515v-3.3M834.7 212.7h3.3M1223.3 515v-3.3M834.7 162.3h3.3M1278.8 515v-3.3M834.7 111.9h3.3M1334.3 515v-3.3M834.7 61.5h3.3"/>
<polygon points="843.7,506 843.7,479.5 853.2,477.4 854,477.2 854.8,477 855.5,476.6 856.2,476.2 856.9,475.7 857.5,475.2 858.1,474.6 868.2,463.1 882.5,454.7 882.9,454.5 897.9,444.7 908,441.8 909.7,443.2 912,455.4 908.2,466.4 890.7,478.3 890,478.9 889.3,479.5 888.8,480.1 888.2,480.8 887.8,481.6 887.4,482.4 887.1,483.2 886.9,484.1 882.8,506" fill="#3e26a8" stroke="#3e26a8" stroke-width="3" stroke-linejoin="round"/>
<path class="d" d="M835 514.5h0m-0.5-7h0m2.5-0.5h0m0-1.5h0m-0.5-3.5h0m0-0.5h0m-2-2.5h0m2-2.5h0m0.5-0.5h0m-1.5 0h0m1-2h0m0-1h0m0.5-5h0m0-1.5h0m0-2h0m-2-1.5h0m0-0.5h0m0.5-2h0m0.5-1h0m1.5-5h0m-1.5 0h0m0-0.5h0m1.5-3.5h0m-2.5-2.5h0m1.5-4h0m1-6h0m-1.5-8.5h0m3 64.5h0m4.5 0h0m-1.5-0.5h0m-1.5-0.5h0m1.5-0.5h0m-3-0.5h0m3 0h0m-4-2h0m1.5-1.5h0m-1.5-0.5h0m4-3.5h0m-3.5-1.5h0m0-0.5h0m-0.5 0h0m5.5-0.5h0m-5.5-0.5h0m1-0.5h0m1.5 0h0m0.5 0h0m2-1.5h0m-3-0.5h0m3-5h0m-5-0.5h0m4-1.5h0m-4-0.5h0m3-0.5h0m0-1h0m0.5-0.5h0m-3.5-0.5h0m4.5 0h0m-1-2h0m-2.5-0.5h0m4.5-0.5h0m-6-1h0m2.5-1.5h0m-0.5-1h0m1.5-1.5h0m-0.5 0h0m2.5-1h0m-3.5-0.5h0m1-0.5h0m-1-1h0m2.5 0h0m-3-0.5h0m4-0.5h0m-1-2h0m-2.5-1h0m0.5-1h0m2-0.5h0m-1-2.5h0m0-3h0m-2.5-1.5h0m0-2h0m4-0.5h0m-0.5-1h0m1.5-0.5h0m-3-0.5h0m3-1h0m-1-1.5h0m2 56h0m3-1h0m-1.5 0h0m3 0h0m-3-0.5h0m-2-2h0m1 0h0m4 0h0m-5 0h0m0-0.5h0m5.5-1.5h0m-1 0h0m-3-0.5h0m3-0.5h0m-2.5-0.5h0m0 0h0m1.5-1h0m0-0.5h0m-1 0h0m-1.5-2h0m2.5 0h0m-2.5-2h0m0.5-1h0m0-1.5h0m0.5-1h0m0-1.5h0m-2 0h0m1.5-0.5h0m0-1.5h0m-0.5-3h0m0-0.5h0m-1-5h0m1.5-0.5h0m0.5-2h0m-0.5-2h0m2.5-1h0m-3-1h0m1-0.5h0m2.5 0h0m1 0h0m-4-0.5h0m-2-1h0m6 0h0m-1-0.5h0m-4 0h0m2-0.5h0m-2.5-1h0m1-1h0m1.5-0.5h0m1-1h0m-1.5 0h0m1.5-1h0m-1-0.5h0m-1.5-0.5h0m0.5-0.5h0m-1-1h0m3 0h0m-0.5-1.5h0m1-2.5h0m1-1h0m-1.5 0h0m-2-1h0m2.5-0.5h0m0 0h0m-1.5-1.5h0m-0.5-2h0m-1-1h0m4-9.5h0m4.5 65.5h0m1 0h0m-0.5-0.5h0m-3-2h0m4.5 0h0m-1.5-0.5h0m-1.5-0.5h0m0-0.5h0m1-1h0m-0.5-0.5h0m2-0.5h0m-1-1h0m-3.5 0h0m4.5 0h0m-4.5-1.5h0m3-0.5h0m1-1.5h0m-2.5-24.5h0m1-0.5h0m0-2h0m2.5-0.5h0m-2.5-0.5h0m-3-0.5h0m3-1h0m-3.5-1h0m2-1.5h0m2.5-0.5h0m0.5-0.5h0m-4-1.5h0m3.5-0.5h0m-2.5-0.5h0m0.5 0h0m-1-1h0m-0.5 0h0m1-0.5h0m-0.5-0.5h0m3-0.5h0m1.5-0.5h0m-5.5-0.5h0m4-0.5h0m0-0.5h0m1-1.5h0m-1-3.5h0m-2-0.5h0m-1.5-2.5h0m4.5-10.5h0m-4.5-15h0m7.5 83.5h0m-1.5-0.5h0m4 0h0m1-0.5h0m-4.5-1.5h0m1-0.5h0m0.5-2.5h0m1 0h0m-3.5-0.5h0m0-2.5h0m2.5-0.5h0m-2.5-0.5h0m0 0h0m5-0.5h0m-0.5 0h0m-4-28h0m2 0h0m-0.5-1h0m2-3.5h0m-0.5-0.5h0m-1.5 0h0m2-0.5h0m-3-0.5h0m1 0h0m3.5-0.5h0m-1.5-2.5h0m-4 0h0m3.5-0.5h0m-3-0.5h0m0.5-1h0m0.5-1h0m0-3.5h0m4-0.5h0m-4-0.5h0m2.5-1h0m-4-2h0m5-1.5h0m-0.5-2h0m0-16.5h0m-4.5-26h0m9.5 103.5h0m-3.5-0.5h0m4 0h0m0 0h0m-1.5-0.5h0m-0.5-0.5h0m2-1h0m-3-0.5h0m3-1h0m0-0.5h0m-4 0h0m4-1.5h0m-1 0h0m1-0.5h0m1.5-1h0m-1.5-1h0m-4-0.5h0m1.5-0.5h0m1.5-1h0m0-0.5h0m-2.5-32h0m1.5 0h0m1-1.5h0m-2.5-1.5h0m2.5 0h0m2.5-1h0m-4-1h0m0-0.5h0m0.5 0h0m3-1h0m-4-0.5h0m4.5-0.5h0m-4.5-0.5h0m3.5 0h0m-4-2h0m1.5 0h0m3.5-1h0m-4-2h0m3.5-0.5h0m-4.5 0h0m2 0h0m0.5 0h0m1.5-1h0m0.5-4.5h0m-1.5-4.5h0m1.5-4.5h0m-4-2.5h0m3-5h0m0.5-19.5h0m-1.5-8.5h0m4 105h0m1-1.5h0m-2-1.5h0m5 0h0m-5 0h0m4 0h0m-0.5 0h0m-2.5-2.5h0m2.5-0.5h0m2-0.5h0m-1.5 0h0m-1-1h0m0 0h0m-3-0.5h0m5-0.5h0m0-0.5h0m-3.5 0h0m2.5 0h0m-3 0h0m-1-37h0m3.5-3.5h0m-2-1.5h0m-0.5 0h0m0 0h0m4.5-2h0m-1 0h0m-4.5 0h0m2-1h0m3.5-1.5h0m-5 0h0m0.5-1h0m-1 0h0m0 0h0m5 0h0m-3 0h0m-2-1h0m2-1h0m2.5-1h0m-0.5 0h0m-2 0h0m3.5-1h0m-5.5 0h0m4 0h0m1-2.5h0m-1.5-3h0m0.5-1h0m0-0.5h0m-4-2h0m1.5-25.5h0m2-11.5h0m6.5 108.5h0m-3.5 0h0m0-0.5h0m4.5 0h0m-2-3.5h0m1-0.5h0m1.5-0.5h0m-5-0.5h0m-0.5-0.5h0m4.5 0h0m-1-0.5h0m1.5-0.5h0m-2-1.5h0m-1 0h0m-2-0.5h0m3 0h0m-1-0.5h0m1.5 0h0m0-0.5h0m-2.5-0.5h0m-1.5 0h0m4-1h0m1-44h0m-2.5-0.5h0m1 0h0m2.5-2h0m-0.5-0.5h0m-4 0h0m3.5-1h0m1-2h0m-1.5-1.5h0m0.5-0.5h0m1-0.5h0m-0.5-1.5h0m-5-0.5h0m3.5-0.5h0m-3-0.5h0m4-1.5h0m1-0.5h0m-2-0.5h0m-1-1.5h0m-0.5-3h0m0.5-5.5h0m-0.5-1.5h0m1.5 0h0m0-44.5h0m4 125h0m2-1h0m-2.5-0.5h0m1-1h0m-0.5-2h0m0.5-0.5h0m1 0h0m-0.5-0.5h0m1.5 0h0m-2.5-3.5h0m2.5 0h0m-1.5-0.5h0m-0.5 0h0m3-0.5h0m-2 0h0m-0.5 0h0m1.5-1.5h0m0.5-3.5h0m-0.5-0.5h0m0.5 0h0m-1-0.5h0m0.5-4h0m0.5-0.5h0m-0.5-1h0m0-0.5h0m1-1.5h0m-1-0.5h0m1-1.5h0m-1-32.5h0m0-0.5h0m-2.5-3h0m-1.5-2h0m4.5-1h0m-3.5 0h0m2.5-0.5h0m-2 0h0m2-1.5h0m2-0.5h0m-3.5-0.5h0m0.5-0.5h0m2.5-0.5h0m-3.5-0.5h0m4-1h0m-1.5-0.5h0m1.5 0h0m-1.5-2h0m0-1h0m-3.5 0h0m0.5-1.5h0m-0.5-1h0m4.5 0h0m-0.5-1.5h0m-0.5-1h0m0.5-5.5h0m-3-0.5h0m6.5 85h0m1-2h0m2.5-0.5h0m-3-1h0m-1.5 0h0m4.5-0.5h0m-0.5-0.5h0m-4-0.5h0m0 0h0m4.5-0.5h0m-4.5 0h0m-0.5 0h0m1 0h0m2-0.5h0m-3.5 0h0m0.5 0h0m1-1h0m2-0.5h0m-1.5 0h0m-0.5-0.5h0m0-1h0m3-2h0m-1-0.5h0m-2 0h0m2.5-1h0m-3.5-0.5h0m2.5-0.5h0m-0.5-1h0m-1-1h0m2.5 0h0m0.5-1h0m1-2h0m-3 0h0m0.5-0.5h0m-2.5 0h0m4.5-1h0m-1.5-0.5h0m-2.5-0.5h0m1.5 0h0m0.5-1.5h0m-1-0.5h0m3-1h0m-3 0h0m-0.5-1h0m2.5 0h0m1-0.5h0m-5-0.5h0m2.5-0.5h0m0.5 0h0m2.5-1h0m-1-0.5h0m0.5 0h0m-3-1.5h0m2.5-0.5h0m-4.5-0.5h0m1-1.5h0m4.5 0h0m-4-1.5h0m4-0.5h0m-5.5-1h0m4-0.5h0m1.5-0.5h0m-3-0.5h0m0-0.5h0m2.5-1h0m-4-22h0m1-1h0m-1-0.5h0m-1-1.5h0m3 0h0m-1.5-0.5h0m3.5-0.5h0m-1 0h0m1.5-1.5h0m-2.5-0.5h0m-1-2h0m3.5-1.5h0m-4.5 0h0m1-0.5h0m2-0.5h0m1.5-0.5h0m-4-0.5h0m-0.5 0h0m4 0h0m-4.5-0.5h0m-0.5-0.5h0m0-1h0m3.5-2h0m-3-0.5h0m4.5-0.5h0m-5.5-0.5h0m3-0.5h0m-0.5 0h0m-1.5-1h0m5-0.5h0m-3.5-2.5h0m-2-2h0m4-2.5h0m-4-0.5h0m2 0h0m1-5.5h0m-3-1.5h0m2-20.5h0m6.5 113.5h0m-1 0h0m-1-0.5h0m2.5-7.5h0m-2.5-0.5h0m-0.5-0.5h0m0.5-1h0m-1-0.5h0m6-0.5h0m-5-1.5h0m0.5 0h0m4.5-0.5h0m-3.5-1h0m2-0.5h0m1 0h0m0-1.5h0m-1-0.5h0m-3.5-2.5h0m2.5-1h0m0 0h0m0-1h0m-1.5-1h0m0-0.5h0m1 0h0m-2-0.5h0m4.5-1h0m-4-2h0m4-0.5h0m-1.5-1.5h0m-1-0.5h0m-1-0.5h0m4-0.5h0m-2.5-0.5h0m0.5-2h0m1.5 0h0m0.5-2h0m-1-0.5h0m-0.5-0.5h0m0.5 0h0m-4.5-1h0m4.5 0h0m-1.5 0h0m-3-0.5h0m1.5-2h0m1-1h0m0.5 0h0m2.5-1.5h0m-2.5-1h0m1 0h0m1-1h0m-4.5-21.5h0m2-0.5h0m-1.5-1h0m0.5 0h0m2-0.5h0m-1.5 0h0m2-0.5h0m0.5-1h0m-2 0h0m0.5-1h0m-1.5-2h0m-1-2.5h0m-0.5-0.5h0m2-0.5h0m-1 0h0m1.5-0.5h0m-0.5-1.5h0m-1-0.5h0m3 0h0m-0.5-1.5h0m-0.5-1.5h0m-1-4h0m0-4.5h0m-2-1h0m0.5-3.5h0m1.5-1.5h0m0.5-1.5h0m0.5-8.5h0m3 100h0m3.5-7.5h0m-0.5-0.5h0m0.5-4h0m-2.5-2.5h0m1.5-2h0m-2-3.5h0m5 0h0m-5.5-1h0m0 0h0m0-0.5h0m2.5-1h0m-1.5-0.5h0m0-1.5h0m-0.5-2h0m1.5-1h0m2.5-1h0m0.5 0h0m-5 0h0m2.5-0.5h0m-1 0h0m-1-0.5h0m3 0h0m-2-1.5h0m-1.5-0.5h0m4-0.5h0m-3 0h0m3.5-1h0m-3.5-2h0m-0.5 0h0m3 0h0m-2.5-0.5h0m0 0h0m4-2.5h0m-1.5-0.5h0m1.5-1h0m0.5-0.5h0m-2-1h0m-0.5-0.5h0m1.5-24.5h0m-1.5-0.5h0m-2.5-0.5h0m0-0.5h0m4.5-1.5h0m-3-1h0m-1.5-0.5h0m1 0h0m3-0.5h0m-2.5-1h0m3.5-1.5h0m-4.5 0h0m1-1h0m1-0.5h0m2 0h0m-0.5-0.5h0m-2.5 0h0m1.5 0h0m-3 0h0m2-0.5h0m2 0h0m1-0.5h0m-1.5 0h0m1.5-0.5h0m-2.5-1h0m0-0.5h0m1.5-1.5h0m1-3h0m0-3h0m-2-7h0m-1-0.5h0m-2 0h0m5-0.5h0m0.5 97.5h0m5-2.5h0m-1-3.5h0m1-5h0m-5-1h0m5.5-1h0m-4.5-2.5h0m2.5-1.5h0m-1-1.5h0m3-5.5h0m-5 0h0m-0.5-3.5h0m1.5-1.5h0m0-0.5h0m-0.5 0h0m-1-2h0m5-1h0m-2.5-1h0m0 0h0m-2 0h0m3.5-2h0m0-1h0m-2.5-0.5h0m1.5 0h0m-3 0h0m0.5-0.5h0m2.5-1h0m-2-0.5h0m2.5-0.5h0m-1-2h0m-2-0.5h0m0.5-1h0m1.5-0.5h0m-1-0.5h0m0-1h0m4-0.5h0m-3.5-1.5h0m0.5 0h0m-2 0h0m5-0.5h0m-3 0h0m3-1h0m-0.5-5.5h0m-0.5-0.5h0m0-8.5h0m-3-5.5h0m3-3h0m-0.5-0.5h0m-0.5 0h0m-0.5-1h0m-3 0h0m3.5 0h0m1.5-0.5h0m-2-1h0m-2-0.5h0m2.5-1h0m2-1.5h0m-3.5-1h0m-1-0.5h0m1-1h0m-2 0h0m2.5-2.5h0m2-1h0m-1-1h0m-3.5-0.5h0m2-2h0m-2-1.5h0m0-3h0m4-4.5h0m-2-2h0m2-1.5h0m-4 0h0m3.5-20.5h0m7.5 121.5h0m-2-0.5h0m0.5 0h0m1-0.5h0m-1-2h0m2-2.5h0m0-1h0m-1-0.5h0m-0.5-0.5h0m0-0.5h0m-0.5 0h0m0 0h0m1.5-2h0m-0.5-2h0m1-2.5h0m-1-1h0m-0.5-0.5h0m1-1h0m0.5-0.5h0m-0.5-1h0m-2-1h0m-2.5-2h0m-0.5-2.5h0m4-1.5h0m-2.5 0h0m3-1.5h0m0-1.5h0m0.5-1h0m-0.5-0.5h0m-0.5-4h0m0-1h0m-4-1h0m1.5-0.5h0m-1.5 0h0m3-2.5h0m-1-1h0m1.5-1h0m2-1h0m-3.5 0h0m2 0h0m-4-0.5h0m4.5 0h0m0.5-0.5h0m-0.5-1.5h0m-1.5-2h0m1.5-0.5h0m0.5-0.5h0m-1-0.5h0m-3-0.5h0m3 0h0m-3-0.5h0m4-0.5h0m-3-1.5h0m3 0h0m-3.5-0.5h0m1-0.5h0m-1 0h0m3.5-0.5h0m-0.5-0.5h0m-1-1h0m-2.5-1.5h0m3.5 0h0m-2.5-3h0m-2 0h0m5.5 0h0m-0.5-1h0m0-2h0m-1-1h0m-1-1.5h0m-3 0h0m2-0.5h0m1.5-0.5h0m2 0h0m-3-0.5h0m-2-1h0m1-1h0m-2-0.5h0m2.5-0.5h0m2 0h0m-3.5-0.5h0m4.5-0.5h0m-3.5 0h0m3.5-0.5h0m-4-0.5h0m1-2h0m-1-0.5h0m-1-0.5h0m4 0h0m-0.5-0.5h0m0-0.5h0m2-1.5h0m-3-0.5h0m2.5-1h0m-1 0h0m-4.5-2h0m5.5-2.5h0m-4.5-1h0m5-1.5h0m-5 0h0m0.5-0.5h0m1 0h0m-2-1h0m3-0.5h0m1.5-1h0m-3-0.5h0m2-2.5h0m-1.5-8.5h0m-0.5-6h0m-1.5-3.5h0m6 106h0m-0.5-3h0m0.5-1h0m0-2.5h0m0.5-3.5h0m0-4.5h0m-0.5-2.5h0m0-0.5h0m0.5-0.5h0m-0.5-2h0m0-4.5h0m1.5-2.5h0m-1.5-0.5h0m5-4h0m0.5-2h0m-0.5-3h0m-4-0.5h0m2.5-0.5h0m0 0h0m-1 0h0m-1.5-0.5h0m0-2h0m2-3h0m-2.5-0.5h0m1.5-1.5h0m-2-0.5h0m0.5-1h0m4.5-1h0m-1.5-1h0m-1-0.5h0m1-4h0m0 0h0m-1.5-1h0m-2-0.5h0m4.5-1.5h0m-2 0h0m-2-1.5h0m3-0.5h0m2-0.5h0m-2 0h0m-1.5-1h0m-0.5 0h0m0.5-0.5h0m0.5 0h0m2-0.5h0m-2.5-1h0m1 0h0m1-0.5h0m-1-1.5h0m-1.5-0.5h0m2.5-1h0m-3 0h0m-0.5-2h0m2.5-0.5h0m2.5-1h0m-5 0h0m3 0h0m-3.5-0.5h0m-0.5 0h0m3.5-0.5h0m-0.5-0.5h0m-2 0h0m0-1.5h0m3.5 0h0m0.5-1h0m-4.5 0h0m5.5-2h0m-3.5-3h0m-1-1.5h0m3.5 0h0m-2-0.5h0m2.5 0h0m-2-1.5h0m2.5-2h0m-2.5-0.5h0m0-1h0m-1.5 0h0m4-3h0m-1-1h0m-4 0h0m3-4.5h0m0.5-0.5h0m1.5-4h0m-5 0h0m-0.5-9.5h0m2-3h0m1-8h0m4 99h0m0.5-6.5h0m2.5-6.5h0m-1-3.5h0m-3-1.5h0m5-2.5h0m-4-10h0m0-2.5h0m0.5-1h0m1.5-2h0m2.5-1.5h0m-2-0.5h0m0 0h0m-1-5.5h0m1.5-2h0m-2-2h0m-2-0.5h0m5.5 0h0m-5-1h0m1-2h0m2.5-3h0m1.5-0.5h0m-5 0h0m4-0.5h0m-2.5-1.5h0m2.5-3h0m-0.5-0.5h0m-2.5 0h0m1.5-1h0m2.5-0.5h0m-5 0h0m2.5-1h0m0-2h0m0.5-6.5h0m-2.5-6.5h0m0.5-2h0m-0.5-1h0m4.5 0h0m-2-0.5h0m-1.5-3h0m2 0h0m-3-1h0m7.5 81.5h0m2.5-4h0m-4-2h0m-0.5-2h0m-0.5-6h0m3-2.5h0m-3-3h0m3-4.5h0m-1.5-11.5h0m0-2h0m0.5-2h0m2-5h0m-0.5-0.5h0m0.5-1.5h0m-4-0.5h0m0-1.5h0m2.5-0.5h0m-2-0.5h0m3.5 0h0m-0.5-3h0m-3.5-4h0m4.5-0.5h0m-1-0.5h0m-2.5-1.5h0m4 0h0m-4.5 0h0m0.5-2h0m1-1.5h0m2 0h0m-2 0h0m0-0.5h0m0.5-4h0m1.5 0h0m0 0h0m1-0.5h0m-1-0.5h0m-1.5-1h0m2-0.5h0m-3-3h0m3.5-1h0m-2.5-2h0m-2-6.5h0m5-0.5h0m-3.5-9.5h0m3.5-4h0m4 104h0m-1.5-4h0m1.5-4.5h0m-1-4h0m2.5-1.5h0m-5-18.5h0m5.5-5.5h0m-3-8.5h0m-2.5-1.5h0m1.5-3h0m2.5-3h0m-3-2.5h0m4-0.5h0m-5-5h0m4.5-1h0m-3-1h0m4-2h0m-2.5-3h0m-1.5-1.5h0m1.5-2h0m-1 0h0m2.5 0h0m-4.5-0.5h0m4.5-3h0m-4-0.5h0m1.5 0h0m-0.5-0.5h0m-1.5-2.5h0m2-5.5h0m3.5-0.5h0m-5-1h0m1-10h0m3-3.5h0m0.5-0.5h0m-4.5-2h0m11 112h0m0-13h0m0-1.5h0m-5.5-6.5h0m5-4.5h0m0-1h0m-1.5-19h0m0-2h0m-0.5-1.5h0m2.5-3h0m0-4h0m-3-4.5h0m-2-0.5h0m0.5-2.5h0m1.5-0.5h0m0.5-5h0m1-6h0m1.5-1.5h0m-2.5 0h0m1 0h0m-0.5-1h0m-3-1h0m1 0h0m3-2h0m-4.5-3.5h0m1.5-3.5h0m0-6h0m3.5-5h0m-3-0.5h0m-1 0h0m2.5-2.5h0m-2-2h0m4 0h0m-0.5-1.5h0m-4-7h0m1-2h0m4 119h0m0-4h0m-0.5-2h0m4.5 0h0m-4-12h0m4-10h0m-1.5-0.5h0m1.5-6h0m0-11.5h0m-4-3h0m5.5-1.5h0m-4.5-4h0m0-2.5h0m1-2.5h0m2-6h0m1 0h0m0.5-5h0m0-6h0m-3.5-1.5h0m3-1.5h0m0-0.5h0m-1-2.5h0m-0.5 0h0m-3.5-5h0m3-11h0m-3-0.5h0m0-0.5h0m2 0h0m-1-0.5h0m2-1.5h0m-2-3h0m2.5-2.5h0m-3.5 0h0m-0.5-2.5h0m3-3h0m0.5-18.5h0m-3.5-10.5h0m11 131.5h0m-4-4.5h0m1-5.5h0m2-4.5h0m0-1h0m-1.5-9h0m-2-3.5h0m0-4h0m1.5-8h0m2.5-21h0m0.5-7h0m-2.5-10.5h0m-0.5-1.5h0m0-3h0m3.5-6h0m0-1.5h0m-3-1h0m3.5-1.5h0m-4.5-4.5h0m-1-2.5h0m2-6h0m3.5-6.5h0m-5-1h0m1-2.5h0m4-11.5h0m3 96h0m3 0h0m-1-5.5h0m-0.5-17h0m1-3h0m-4-15h0m-1-1.5h0m0-3.5h0m2-0.5h0m0-4.5h0m-1-2.5h0m-0.5-4.5h0m-0.5-6.5h0m0.5-5h0m0-3.5h0m8 89h0m1-9.5h0m-2.5-33h0m1.5-0.5h0m-2.5-6h0m3-0.5h0m-1.5-5h0m0.5-0.5h0m3.5-1.5h0m-2.5-1.5h0m2-3h0m-2.5-1h0m-2.5-13h0m1-10h0m0.5-2h0m10 64h0m-1-12h0m-4.5-4.5h0m1-1.5h0m4 0h0m-3-5.5h0m-0.5-8.5h0m2.5-6h0m-2.5-26h0m-1.5-23h0m6.5 122h0m3.5-7h0m-3-4h0m3.5-10h0m-1-16h0m1.5-9h0m0-20h0m-3.5-17.5h0m1-17h0m1.5-2.5h0m-2-31.5h0m7.5 101.5h0m-3.5-16.5h0m0-14h0m1.5-1.5h0m-0.5-2h0m5.5 42.5h0m1.5-57h0m-0.5-42.5h0m7.5 98.5h0m-1.5-21.5h0m2.5-8h0m-2-4.5h0m1-42h0m-1.5-3h0m3-3.5h0m-1.5-8h0m5.5 64h0m0.5-12.5h0m2.5-4.5h0m-0.5-19.5h0m-3-13h0m3.5-7h0m3 48.5h0m-1.5-9h0m4-41.5h0m-3-15h0m6 87h0m0-43.5h0m-0.5-46.5h0m6 120h0m2-76h0m4.5-18.5h0m2-18.5h0m0-47.5h0"/>
<clipPath id="clip-b"><rect x="831.9" y="315" width="200" height="202.8"/></clipPath>
<g clip-path="url(#clip-b)"><g filter="url(#bl2)"><ellipse cx="848.6" cy="502.4" rx="18.8" ry="5" fill="#473fe3" opacity="1" transform="rotate(-42.2 848.6 502.4)"/><ellipse cx="843" cy="507.4" rx="12" ry="5.5" fill="#4755f6" opacity="0.95" transform="rotate(-42.2 843 507.4)"/><circle cx="834.7" cy="515" r="13" fill="#484aee" opacity="0.85"/><circle cx="834.7" cy="515" r="10.9" fill="#475cfa" opacity="0.9"/></g><g filter="url(#bl)"><circle cx="834.7" cy="515" r="13.5" fill="#3876fe" opacity="1"/><circle cx="834.7" cy="515" r="11.3" fill="#15afd9" opacity="1"/><circle cx="834.7" cy="515" r="9.7" fill="#48cb86" opacity="1"/><circle cx="834.7" cy="515" r="8.3" fill="#c1c32d" opacity="1"/><circle cx="834.7" cy="515" r="4.5" fill="#fec437" opacity="1"/><ellipse cx="837.8" cy="512.2" rx="6" ry="3.4" fill="#f6e028" opacity="1" transform="rotate(-42.2 837.8 512.2)"/></g></g>
<line x1="834.7" y1="515" x2="1201.1" y2="182.4" stroke="#e8141c" stroke-opacity="0.84" stroke-width="2"/>
<text class="tk" x="834.2" y="540.9" text-anchor="middle">0</text><text class="tk" x="825.5" y="522.2" text-anchor="end">0</text>
<text class="tk" x="889.7" y="540.9" text-anchor="middle">100</text><text class="tk" x="825.5" y="471.8" text-anchor="end">100</text>
<text class="tk" x="945.2" y="540.9" text-anchor="middle">200</text><text class="tk" x="825.5" y="421.4" text-anchor="end">200</text>
<text class="tk" x="1000.7" y="540.9" text-anchor="middle">300</text><text class="tk" x="825.5" y="371" text-anchor="end">300</text>
<text class="tk" x="1056.2" y="540.9" text-anchor="middle">400</text><text class="tk" x="825.5" y="320.6" text-anchor="end">400</text>
<text class="tk" x="1111.8" y="540.9" text-anchor="middle">500</text><text class="tk" x="825.5" y="270.3" text-anchor="end">500</text>
<text class="tk" x="1167.3" y="540.9" text-anchor="middle">600</text><text class="tk" x="825.5" y="219.9" text-anchor="end">600</text>
<text class="tk" x="1222.8" y="540.9" text-anchor="middle">700</text><text class="tk" x="825.5" y="169.5" text-anchor="end">700</text>
<text class="tk" x="1278.3" y="540.9" text-anchor="middle">800</text><text class="tk" x="825.5" y="119.1" text-anchor="end">800</text>
<text class="tk" x="1333.8" y="540.9" text-anchor="middle">900</text><text class="tk" x="825.5" y="68.7" text-anchor="end">900</text>
<text class="lb" x="1084.5" y="567.2" text-anchor="middle">PM2.5 observations</text>
<text class="lb" transform="translate(787 288.2) rotate(-90)" text-anchor="middle">PM2.5 estimations</text>
<text class="an" x="864.9" y="106.5">N = 36440</text>
<text class="an" x="864.9" y="143.8">R<tspan dy="-9" font-size="16">2</tspan><tspan dy="9"> = 0.73</tspan></text>
<text class="an" x="864.9" y="181.1">RMSE = 11.68 µg/m<tspan dy="-9" font-size="16">3</tspan></text>
<rect x="1364.7" y="61.5" width="27" height="453.5" fill="url(#par)" stroke="#222" stroke-opacity="0.6" stroke-width="1.3"/>
<path d="M1391.7 469.6h-3.3M1391.7 424.3h-3.3M1391.7 378.9h-3.3M1391.7 333.6h-3.3M1391.7 288.2h-3.3M1391.7 242.9h-3.3M1391.7 197.6h-3.3M1391.7 152.2h-3.3M1391.7 106.9h-3.3" stroke="#333" stroke-opacity="0.7" stroke-width="1.4" fill="none"/>
<text class="cb" x="1398.7" y="521.3">0</text><text class="cb" x="1398.7" y="475.9">0.1</text><text class="cb" x="1398.7" y="430.6">0.2</text><text class="cb" x="1398.7" y="385.2">0.3</text><text class="cb" x="1398.7" y="339.9">0.4</text><text class="cb" x="1398.7" y="294.6">0.5</text><text class="cb" x="1398.7" y="249.2">0.6</text><text class="cb" x="1398.7" y="203.9">0.7</text><text class="cb" x="1398.7" y="158.5">0.8</text><text class="cb" x="1398.7" y="113.2">0.9</text><text class="cb" x="1398.7" y="67.8">1</text>
</g>
<g id="panel-c">
<text class="t" x="352.4" y="638.4" text-anchor="middle">(c) Estimation results before repair, 2018</text>
<path class="ax" d="M68.5 672.9V1126.4H568.1M124 1126.4v-3.3M68.5 1076h3.3M179.5 1126.4v-3.3M68.5 1025.6h3.3M235 1126.4v-3.3M68.5 975.2h3.3M290.5 1126.4v-3.3M68.5 924.8h3.3M346.1 1126.4v-3.3M68.5 874.5h3.3M401.6 1126.4v-3.3M68.5 824.1h3.3M457.1 1126.4v-3.3M68.5 773.7h3.3M512.6 1126.4v-3.3M68.5 723.3h3.3M568.1 1126.4v-3.3M68.5 672.9h3.3"/>
<polygon points="77.5,1117.4 77.5,1093.7 87.2,1077.7 100.7,1065 122.3,1059.5 123.2,1059.3 124,1058.9 124.8,1058.5 125.6,1058 126.3,1057.4 141.4,1043.2 159.6,1034 174.4,1029.2 178.6,1028 172.7,1041.4 160.1,1059.5 148.1,1074.4 147.4,1075.3 137,1092.4 122,1106 108.5,1117.4" fill="#3e26a8" stroke="#3e26a8" stroke-width="3" stroke-linejoin="round"/>
<path class="d" d="M70.5 1125h0m0-0.5h0m-2-0.5h0m1.5-2h0m0 0h0m0-1.5h0m0-2h0m0 0h0m-1-0.5h0m0 0h0m2-2.5h0m-0.5-2h0m0.5-1h0m-0.5-2h0m0.5-0.5h0m-1.5-0.5h0m0.5-1.5h0m0-0.5h0m1-0.5h0m-2-1h0m2.5-5h0m-1-2h0m-1-5.5h0m1-1h0m0-7.5h0m-0.5-4.5h0m0-6.5h0m1.5-11h0m5 63h0m-1.5-0.5h0m-1.5-2.5h0m1 0h0m0.5-1.5h0m1.5-0.5h0m-3-0.5h0m-1.5-1h0m0-0.5h0m5.5 0h0m-3.5-0.5h0m3 0h0m-1.5 0h0m1-0.5h0m-3-0.5h0m3-1h0m-5 0h0m3.5-1.5h0m-3.5-0.5h0m2.5-0.5h0m1.5-1h0m-0.5 0h0m-0.5-0.5h0m1-0.5h0m0.5-2h0m-2 0h0m1.5-0.5h0m-1-1.5h0m-2-0.5h0m4.5 0h0m-5-0.5h0m4 0h0m-2-1h0m-0.5-2.5h0m1.5-1h0m1.5 0h0m-2.5-0.5h0m0.5-1.5h0m-3-0.5h0m2 0h0m2-2h0m-3.5-2h0m5 0h0m0-0.5h0m-0.5-1h0m1-1.5h0m-6 0h0m0-1h0m1.5-1h0m0.5-0.5h0m-1-1h0m0.5-0.5h0m-1-1h0m3.5 0h0m-2-0.5h0m4-1h0m-1.5 0h0m1-0.5h0m-0.5-1h0m-3.5-0.5h0m1-0.5h0m3 0h0m-4-0.5h0m2.5-1.5h0m-2-2h0m1 0h0m1.5-4.5h0m-2.5-1h0m3.5-1h0m-4.5-0.5h0m5-0.5h0m-3-4h0m3-3h0m-2-1.5h0m4 61.5h0m2.5-1h0m-3.5 0h0m4.5-3.5h0m-4 0h0m3-1.5h0m-1-0.5h0m-3 0h0m0-1h0m1.5-0.5h0m3.5-0.5h0m-2.5-1.5h0m-0.5-2h0m-2-0.5h0m1 0h0m1-2h0m-0.5-1h0m-0.5-2.5h0m-1.5-0.5h0m0.5-3.5h0m0.5-0.5h0m-0.5 0h0m1-0.5h0m-1-1.5h0m0.5-0.5h0m1.5-1h0m-1-1.5h0m2-6h0m-2.5-0.5h0m1-0.5h0m2-0.5h0m-1.5-0.5h0m0-0.5h0m0-1h0m-1.5 0h0m0.5-0.5h0m-1.5-1.5h0m5-1h0m0.5-1h0m-0.5-2h0m1-1h0m-6-1h0m1-3.5h0m2-1h0m2-1.5h0m-1.5-3h0m0.5-3.5h0m1-3h0m1 0h0m-1.5-1.5h0m7 60h0m-4-1h0m-1.5-1h0m3.5 0h0m-0.5-0.5h0m-1.5 0h0m0.5 0h0m0.5-1h0m-2.5-2.5h0m3.5-0.5h0m1 0h0m1-1.5h0m-4.5-31h0m0-0.5h0m3.5-3h0m-3 0h0m1.5 0h0m1.5-1h0m-0.5-2h0m-2-1h0m3.5-0.5h0m-2.5-0.5h0m1.5 0h0m0.5-0.5h0m0 0h0m0 0h0m-4-0.5h0m0 0h0m3-1.5h0m0-1h0m-1.5 0h0m-0.5-0.5h0m4-0.5h0m-0.5 0h0m-5 0h0m2.5-0.5h0m-0.5 0h0m0-1h0m-0.5-0.5h0m0.5 0h0m-1 0h0m-1-0.5h0m0-0.5h0m5.5-0.5h0m-3 0h0m1-1h0m-1-0.5h0m2-1h0m-1.5 0h0m-1-2h0m1-2.5h0m-1-4.5h0m-1.5-1h0m4-0.5h0m1-2.5h0m-2.5-0.5h0m1-1.5h0m5.5 75.5h0m2 0h0m-2.5-0.5h0m-2.5-0.5h0m3-0.5h0m-4-1h0m5 0h0m-3.5-1.5h0m1 0h0m-1.5 0h0m2.5-0.5h0m-2-1.5h0m0-3.5h0m1.5-1h0m-1-39h0m-1-1h0m0 0h0m0-0.5h0m0.5 0h0m-0.5-0.5h0m2.5 0h0m-3.5 0h0m0-1h0m0-1h0m4.5 0h0m0-1h0m-0.5-1.5h0m2-0.5h0m-3-0.5h0m0.5-1h0m-3-0.5h0m0-0.5h0m0.5 0h0m-1-1.5h0m3-1.5h0m2-1h0m-0.5-2h0m-2.5 0h0m3-0.5h0m-4.5-1h0m3-3h0m-1-2.5h0m-1-0.5h0m1.5-2.5h0m3-4.5h0m-2.5-39.5h0m4.5 119h0m2.5-0.5h0m-0.5-0.5h0m-2-0.5h0m3-1h0m-2.5-1h0m-1 0h0m0 0h0m3-0.5h0m-2.5-1h0m2 0h0m-4-0.5h0m2-0.5h0m-1.5-1h0m5-0.5h0m-3-1h0m-1.5 0h0m3-0.5h0m-1-0.5h0m-1.5-1.5h0m-1-45h0m3-0.5h0m-2 0h0m0-1h0m3.5-1.5h0m1 0h0m-5 0h0m0-1h0m0-1.5h0m0-1h0m0.5 0h0m-1-1.5h0m1.5-0.5h0m-2 0h0m2-1h0m0.5-1h0m3.5-0.5h0m-1.5-1.5h0m-3 0h0m0 0h0m2.5-3.5h0m-3.5-0.5h0m4-2h0m-3.5-0.5h0m4.5-8.5h0m-4.5 0h0m1.5-4h0m2.5-30h0m1.5 117.5h0m1-0.5h0m4.5 0h0m-4-1.5h0m-1.5 0h0m1-2h0m-1.5 0h0m4-1.5h0m-1.5-0.5h0m-0.5-0.5h0m-1-1.5h0m3.5-0.5h0m-1-1.5h0m0-0.5h0m-3-49h0m5-2h0m-5-0.5h0m0-0.5h0m0 0h0m5-0.5h0m-0.5-0.5h0m-3.5-0.5h0m2-1.5h0m1-0.5h0m-2.5-0.5h0m-2-0.5h0m4.5 0h0m-1.5 0h0m-1.5 0h0m1.5-0.5h0m0-1h0m-2.5-1h0m2-0.5h0m-1.5-0.5h0m1.5-0.5h0m3.5 0h0m-3.5-2h0m0-0.5h0m3 0h0m-2.5-1.5h0m1.5-1.5h0m0-44h0m4.5 120h0m2.5-1h0m-2-1h0m0.5 0h0m-2 0h0m1-0.5h0m2-0.5h0m0-0.5h0m0.5-0.5h0m-3.5-0.5h0m-0.5-2.5h0m2-2.5h0m1-1.5h0m-2-1.5h0m1.5-1.5h0m2-47.5h0m-5-0.5h0m3-0.5h0m-2-0.5h0m4-0.5h0m-2-0.5h0m0-1.5h0m-3-0.5h0m3.5-2h0m-1.5-0.5h0m2 0h0m1 0h0m-0.5-1h0m-2-0.5h0m-2 0h0m3.5 0h0m-1.5-1h0m-1-1.5h0m-0.5-0.5h0m0.5-0.5h0m2.5-1h0m0-1h0m-4-1.5h0m-0.5-2.5h0m4.5-0.5h0m-3.5-5h0m2.5-9h0m-1 0h0m2-6h0m-4.5-1.5h0m8.5 102h0m-2.5-1.5h0m0-0.5h0m0.5-0.5h0m2 0h0m-2-2h0m3-0.5h0m-2.5 0h0m3-0.5h0m-2-0.5h0m3.5-1h0m-5.5-0.5h0m2.5-1h0m-0.5-1h0m2-0.5h0m0.5-3h0m0.5 0h0m-4.5-1h0m4 0h0m0-1h0m-3 0h0m0.5-0.5h0m2.5-1.5h0m-5-46h0m2-2.5h0m1.5-0.5h0m-2-1.5h0m2-0.5h0m-3-0.5h0m4.5 0h0m0-0.5h0m-1-2.5h0m-2-0.5h0m2.5-0.5h0m1.5-0.5h0m0 0h0m-4-0.5h0m1-0.5h0m-1.5-1h0m4-1h0m-5-1h0m5-1h0m-5.5-0.5h0m4 0h0m-2.5-3.5h0m2.5-4.5h0m-2.5-4.5h0m5.5 91.5h0m2.5-0.5h0m-2-2.5h0m4-3h0m-2.5 0h0m-2-3h0m2 0h0m-2-0.5h0m5-0.5h0m-3.5-0.5h0m-2-0.5h0m-0.5-0.5h0m2.5-1h0m2 0h0m-4.5 0h0m4.5 0h0m-4-0.5h0m0.5 0h0m-0.5-2h0m1 0h0m-0.5-1h0m3 0h0m-3-0.5h0m-0.5-1h0m3.5-0.5h0m0-1h0m-0.5-2h0m-3-0.5h0m0.5 0h0m5-2h0m-2.5 0h0m1.5-1.5h0m-3-40h0m2 0h0m1-0.5h0m-4.5-0.5h0m4-0.5h0m-4-1h0m3.5 0h0m-4-3h0m3-0.5h0m-1-1h0m2 0h0m-2 0h0m2.5-1h0m-1.5-1.5h0m2.5-0.5h0m-4 0h0m1.5 0h0m-2-2h0m2.5-1h0m1-0.5h0m1.5 0h0m-5.5-0.5h0m0.5 0h0m5-2h0m-3-1h0m3-1h0m-1.5-0.5h0m-3.5-2h0m4-2.5h0m0.5 0h0m-2-3.5h0m0.5-5h0m1-1h0m0.5-10h0m2.5 106.5h0m0.5-7h0m-2.5 0h0m5.5-2.5h0m-4.5-2h0m0-0.5h0m-0.5-0.5h0m4 0h0m-1-0.5h0m-2-1h0m4.5-1h0m-3.5-1h0m-0.5-1.5h0m0-1.5h0m1.5 0h0m1 0h0m0.5-1.5h0m-2 0h0m1 0h0m0-0.5h0m1-1h0m-1.5-4.5h0m1.5-0.5h0m0-0.5h0m0-2h0m-3-38h0m0 0h0m1.5 0h0m-3-0.5h0m1.5-0.5h0m1.5-0.5h0m-2.5-0.5h0m4-0.5h0m-2-2.5h0m2.5-1h0m0.5-1h0m-1.5-2.5h0m-0.5-0.5h0m-1.5-0.5h0m-1-3h0m0 0h0m2-0.5h0m-2.5 0h0m4-2h0m-0.5 0h0m-4-2h0m4-1h0m0.5-1.5h0m-2.5-22h0m1-38.5h0m5 147.5h0m1-3h0m-2.5-0.5h0m0.5-0.5h0m2-0.5h0m-1-0.5h0m-2-2h0m5-6h0m-4-0.5h0m1.5-0.5h0m-2-0.5h0m3.5-3h0m-3-3h0m2 0h0m-1-1h0m-1-0.5h0m-1.5-0.5h0m5.5 0h0m0-1h0m-3.5-0.5h0m3.5-0.5h0m-2.5-1.5h0m0 0h0m0-1.5h0m0-0.5h0m0 0h0m-0.5 0h0m-0.5-1.5h0m1-0.5h0m2-3h0m0-1h0m0-1.5h0m0-0.5h0m1 0h0m-1.5-37h0m-4.5 0h0m1-1.5h0m2-1.5h0m-0.5 0h0m-0.5-0.5h0m0.5 0h0m3-1h0m0.5-1h0m-3 0h0m0.5 0h0m2.5-0.5h0m-2-0.5h0m1.5 0h0m-4.5-0.5h0m1.5-1h0m-1 0h0m3.5-0.5h0m-1.5-0.5h0m-2-0.5h0m-1-0.5h0m5.5-1h0m-1-3h0m-1.5-1h0m-3.5-0.5h0m4.5 0h0m-2.5-0.5h0m1.5 0h0m0-1.5h0m-3-0.5h0m1.5-1h0m-2-5h0m1.5-0.5h0m0-1.5h0m8 100.5h0m-1-4.5h0m1.5-0.5h0m-2-9h0m-1 0h0m2.5-3h0m0.5-1h0m-2.5-0.5h0m1.5-2h0m-0.5-2h0m0-1.5h0m-0.5-1.5h0m0.5 0h0m-1-4.5h0m-0.5-0.5h0m0.5 0h0m0-0.5h0m0-0.5h0m2.5-1.5h0m-3.5-0.5h0m3.5-0.5h0m-3.5-0.5h0m3-1h0m-0.5-0.5h0m3 0h0m-0.5-0.5h0m-4 0h0m3 0h0m1 0h0m-5-1h0m5-1.5h0m-2-1h0m1-0.5h0m0.5-0.5h0m-1-3h0m0.5-2h0m0-0.5h0m-4-31.5h0m-0.5-1h0m3.5-0.5h0m-3.5-0.5h0m3-0.5h0m1-0.5h0m-2 0h0m-0.5-2h0m-0.5-0.5h0m-1 0h0m1 0h0m-0.5 0h0m4-2h0m-0.5-1h0m0.5 0h0m0.5-1.5h0m-4 0h0m0.5-1h0m2.5-1.5h0m-2-2h0m0.5-0.5h0m-1.5-2h0m0 0h0m4.5-0.5h0m-2-0.5h0m-1.5-3.5h0m1-0.5h0m-3-1h0m4-0.5h0m7 89h0m-4.5-1.5h0m0-1.5h0m-0.5-8.5h0m5-0.5h0m-2.5-2.5h0m0 0h0m-2-1.5h0m1.5 0h0m2.5 0h0m0-0.5h0m-2.5 0h0m-1.5-1h0m3 0h0m-3.5 0h0m3-1.5h0m1.5-1h0m-0.5-2.5h0m0-1h0m-0.5-1.5h0m2 0h0m-4.5-0.5h0m4-1h0m-5-1h0m1.5-1h0m1.5-0.5h0m2.5-0.5h0m-1.5-1h0m-1-1h0m-2.5-0.5h0m5 0h0m-5-1h0m2.5 0h0m-1.5-1.5h0m1.5 0h0m-1.5-0.5h0m4.5 0h0m-1.5-0.5h0m0 0h0m-4-1h0m1.5-1h0m3.5 0h0m-1 0h0m0-0.5h0m1.5-3.5h0m-4.5-28.5h0m1-0.5h0m-2-3.5h0m4-0.5h0m-4-1.5h0m0.5-0.5h0m-0.5 0h0m3-0.5h0m-0.5-0.5h0m0 0h0m2-0.5h0m-3 0h0m0 0h0m1.5-1.5h0m1.5-1h0m-3.5-1h0m3.5-2h0m-0.5-0.5h0m1.5-2.5h0m-4.5 0h0m1.5-0.5h0m2.5-3h0m-3.5-1.5h0m2-3h0m-3-24.5h0m0.5-5h0m1-5h0m4.5 137h0m4.5-8.5h0m-2.5 0h0m-2-1h0m0-4.5h0m3-2h0m-3-4.5h0m2-1.5h0m-2.5-1.5h0m1-4h0m3.5-2h0m-5-0.5h0m0.5-0.5h0m2.5-2h0m-2-1.5h0m0-0.5h0m5-1h0m-2-0.5h0m-0.5-1h0m-1-2h0m0.5-0.5h0m-2-0.5h0m1 0h0m-0.5-1.5h0m2.5-0.5h0m-3-0.5h0m1.5 0h0m-2-1h0m4 0h0m-4.5 0h0m3.5-0.5h0m0.5-1.5h0m-0.5-0.5h0m-1 0h0m-2-2h0m2.5-0.5h0m2.5 0h0m-2-1h0m-2-1h0m-1-0.5h0m3-0.5h0m2-1.5h0m-3.5-0.5h0m1-0.5h0m0 0h0m0.5-2h0m-0.5-0.5h0m-2-26h0m1.5-0.5h0m1-0.5h0m1.5-0.5h0m-1.5-1h0m1-0.5h0m-1-3.5h0m-1 0h0m-1-0.5h0m1-0.5h0m3 0h0m-1.5-2h0m-2.5-2h0m4-0.5h0m-2.5-0.5h0m1-2h0m2-1h0m-5.5-30.5h0m9 130h0m-3-14h0m0-7h0m4.5-4h0m-4-11.5h0m2.5 0h0m2.5 0h0m-5-1h0m0.5-9.5h0m3.5-0.5h0m-0.5 0h0m0-1.5h0m-3-2h0m0-1h0m-1.5 0h0m0.5-1.5h0m3 0h0m-2.5 0h0m0.5 0h0m0-1.5h0m-0.5 0h0m3.5-0.5h0m-3.5-0.5h0m1.5-1h0m3-0.5h0m-3.5-1h0m1-0.5h0m-2-1h0m2 0h0m-0.5-1h0m0.5 0h0m-0.5-0.5h0m1 0h0m-1 0h0m0.5-1.5h0m-3-23.5h0m2.5 0h0m0-0.5h0m-2.5-0.5h0m2-3.5h0m0-1h0m0-2.5h0m3.5 0h0m-3.5 0h0m-1.5-1h0m3-0.5h0m0.5-0.5h0m0-0.5h0m0.5 0h0m-2 0h0m2.5-1.5h0m-4-0.5h0m0.5-2h0m-1-1h0m2.5 0h0m-0.5-1.5h0m3.5-1h0m-3-1h0m3-5.5h0m-0.5-2h0m5 102.5h0m1-2.5h0m-2.5-3h0m-1.5-2h0m-0.5-0.5h0m1-7h0m3.5-5h0m-3-1h0m2-5.5h0m-3.5-1h0m1-1h0m0-2.5h0m0.5 0h0m-2-4.5h0m1-2.5h0m-1-4h0m1-0.5h0m3.5 0h0m-1-1.5h0m-2-0.5h0m0 0h0m2-0.5h0m-2.5-0.5h0m3-3.5h0m-3.5-0.5h0m2.5-1.5h0m-3.5-0.5h0m2.5 0h0m3.5-0.5h0m-4.5-0.5h0m-1 0h0m1 0h0m3.5-1h0m-2-1h0m-2.5 0h0m5.5-0.5h0m-2.5 0h0m-1.5-1.5h0m-1.5-0.5h0m3.5-0.5h0m-0.5 0h0m-3-0.5h0m5-1h0m-4-0.5h0m1-2h0m2.5 0h0m-2-0.5h0m1.5-2.5h0m1-1h0m-2-12.5h0m-2.5-1h0m2-0.5h0m-1.5-3.5h0m0 0h0m-1.5-4.5h0m0.5-0.5h0m0-1.5h0m4-0.5h0m1-1h0m-5-5.5h0m4.5-40.5h0m1.5 146h0m0-2h0m4.5-3.5h0m-4-3h0m2-4.5h0m0-6.5h0m3-0.5h0m-4-5h0m1-12h0m2.5-1h0m-5-8.5h0m2-1h0m1.5-1.5h0m0.5-3.5h0m-0.5 0h0m-4-2h0m6-1h0m-5.5-1h0m2.5 0h0m1-2.5h0m-0.5 0h0m0.5 0h0m0-2h0m-3 0h0m1.5-1h0m0.5-0.5h0m0-1.5h0m-2-0.5h0m1-0.5h0m3.5-3h0m0.5-4.5h0m-0.5 0h0m-4-2h0m4.5-2.5h0m-4.5-0.5h0m2-1.5h0m1.5-3.5h0m-0.5-0.5h0m0.5-2.5h0m-1.5-3.5h0m-2-2h0m1-0.5h0m1.5-0.5h0m-0.5 0h0m0.5-1.5h0m-3-1h0m-0.5-0.5h0m3 0h0m0 0h0m2-1h0m-2-0.5h0m-2-0.5h0m4.5 0h0m-5.5-0.5h0m3.5-1.5h0m-3 0h0m1.5-1h0m-1.5-1h0m4-1.5h0m-1.5 0h0m-1.5-1.5h0m3-1h0m-1-0.5h0m-2 0h0m0-1h0m1.5-3.5h0m-2.5-1h0m2.5-3h0m1.5-3h0m2 114.5h0m3-3.5h0m-3.5-1h0m2-8h0m1.5-17.5h0m-1.5-6h0m0-9h0m1.5-12.5h0m1.5-2h0m-1 0h0m-2.5 0h0m2-1.5h0m-1-1.5h0m-2.5-0.5h0m5-1h0m-2.5 0h0m1-0.5h0m2-1.5h0m-3-1h0m2.5 0h0m0.5-1h0m-4.5-1.5h0m0-1h0m-0.5-0.5h0m4 0h0m-1 0h0m-0.5 0h0m1.5-0.5h0m0-2h0m-2.5-1h0m-2-1h0m0.5-0.5h0m4.5-0.5h0m-1.5-1.5h0m0.5-1.5h0m-4-3h0m3.5-1h0m1-1h0m-1 0h0m1-1.5h0m-0.5-1h0m-0.5-0.5h0m-2-1h0m2.5 0h0m-2-2h0m1.5-1.5h0m-3-1h0m3-4h0m1.5-0.5h0m-4.5-0.5h0m2-1h0m-1.5-0.5h0m-1.5 0h0m0.5 0h0m1-1.5h0m1.5-3h0m2.5-1h0m-4.5-0.5h0m10.5 94.5h0m-2.5-2.5h0m1-16h0m-0.5-1.5h0m-2-1h0m-0.5-5.5h0m1-0.5h0m2.5-10h0m-2-1.5h0m2.5 0h0m-1-3.5h0m-2-7h0m-1.5-0.5h0m4.5-1.5h0m0.5-0.5h0m-2-9.5h0m0.5-2.5h0m-1-0.5h0m-2.5-0.5h0m1-1h0m3-0.5h0m0.5 0h0m-1-1h0m-1-0.5h0m-0.5-0.5h0m1 0h0m0.5 0h0m-0.5 0h0m-1.5-0.5h0m0.5 0h0m-1-1h0m0-1.5h0m2.5-0.5h0m-2 0h0m-0.5-1h0m-0.5 0h0m0.5-1h0m3.5-0.5h0m-3.5-0.5h0m2-0.5h0m-3.5-1h0m3 0h0m-3-1h0m3.5-0.5h0m-2 0h0m3-1.5h0m-2-0.5h0m-1.5-0.5h0m4-5h0m-1.5-1.5h0m0.5-1.5h0m0 0h0m-1-0.5h0m-1 0h0m2.5-0.5h0m-3 0h0m2-1h0m-2.5-4.5h0m0.5 0h0m-0.5-0.5h0m0.5 0h0m0.5-0.5h0m2.5 0h0m0-3h0m0.5-5h0m-1.5-2h0m1.5-3h0m-3.5-11.5h0m10 128h0m-3.5-25.5h0m-1-12h0m1-2.5h0m2-1.5h0m-1.5-2h0m-0.5-6h0m1.5-8h0m1-1.5h0m-3 0h0m0.5-1h0m2-5h0m-1.5-0.5h0m0-6.5h0m3-2h0m0-0.5h0m-5.5-0.5h0m2-1.5h0m4-3.5h0m-2.5-2h0m0-1.5h0m0.5 0h0m0.5-0.5h0m-3.5-0.5h0m1-5h0m3 0h0m-4.5-0.5h0m0.5-1h0m2-0.5h0m-1-0.5h0m0-0.5h0m0 0h0m3-0.5h0m0.5 0h0m-2.5 0h0m-1-2.5h0m1.5-0.5h0m2-0.5h0m-5 0h0m2.5 0h0m0.5 0h0m1-2h0m0.5-0.5h0m-1.5-1h0m-3-0.5h0m5-1h0m-2.5-0.5h0m1.5-1h0m1 0h0m-2.5-1h0m-1.5-0.5h0m1.5 0h0m-0.5-1h0m1.5 0h0m-3.5-1.5h0m4-5.5h0m-1.5-5.5h0m0-4.5h0m-1-6h0m3.5-0.5h0m-0.5-2h0m2.5 132h0m-1-5.5h0m0-5h0m4-7.5h0m-3-5h0m3.5-15h0m-0.5-9h0m-3.5-0.5h0m4 0h0m-4-0.5h0m2 0h0m0.5-3h0m-2.5 0h0m0.5-5.5h0m4-0.5h0m0-4h0m-5-12h0m2-3h0m0.5-2h0m-0.5-1h0m-1.5-3.5h0m3-2.5h0m-4-0.5h0m3-1h0m-2.5-2.5h0m1-0.5h0m-0.5-0.5h0m4-0.5h0m0-0.5h0m0.5-1h0m-0.5-2.5h0m-4.5-0.5h0m1.5-2h0m0.5-0.5h0m1-0.5h0m1.5-1h0m-3.5-1.5h0m4.5 0h0m-1.5-1h0m-4.5 0h0m0.5-1h0m0-0.5h0m0.5-0.5h0m3.5-0.5h0m1-1.5h0m-3.5-1h0m2-0.5h0m-2.5 0h0m2.5-3h0m-1-3h0m-0.5-1.5h0m2.5-1h0m-3.5-1h0m4-4h0m-3-1h0m0.5-0.5h0m1.5-5.5h0m-4.5-13h0m9.5 116h0m1.5-11h0m-4.5-7h0m4.5-0.5h0m-3-3h0m1.5-5h0m-0.5-1h0m1.5-4.5h0m-4-13h0m5-4h0m-5-4h0m1.5-3h0m1.5-3h0m-0.5-0.5h0m-0.5-1h0m0-1h0m-1-4h0m-1-2h0m1.5 0h0m-2-4.5h0m5-4.5h0m-3.5-0.5h0m3-0.5h0m-3.5-2h0m2.5-0.5h0m0.5-1.5h0m0.5 0h0m0.5-0.5h0m-1.5-1.5h0m0.5 0h0m2-1.5h0m-6 0h0m0-1h0m4 0h0m-3.5-1h0m4.5-1h0m-1-2h0m-0.5 0h0m-3.5 0h0m1.5-0.5h0m3-1h0m-1.5 0h0m-1.5-0.5h0m3-4.5h0m-1.5-1.5h0m2-0.5h0m-4-0.5h0m-0.5-1h0m1-1h0m3-0.5h0m-4-4h0m0.5-1.5h0m2-4.5h0m-2-3h0m2.5-2.5h0m5 119.5h0m-1-3.5h0m-1-6h0m4.5-5.5h0m-3.5-9h0m1-10.5h0m1-9.5h0m-1.5-1.5h0m-1-1h0m-0.5-3h0m1.5-4.5h0m1.5-4h0m1.5-1h0m0-1h0m-3.5-0.5h0m1.5 0h0m0.5-1h0m-1-6h0m-1-0.5h0m1.5-1h0m1.5-0.5h0m0.5-2h0m-0.5-14.5h0m1.5-1h0m-0.5-3h0m-3-2.5h0m3.5-1h0m-1 0h0m-5-3.5h0m0.5-8h0m0.5-1h0m3.5-0.5h0m-2-1h0m5.5 98h0m0-4.5h0m1.5-5h0m-0.5-19h0m2.5-3h0m-5-10.5h0m4-10.5h0m0.5-17.5h0m-5-4.5h0m6-1h0m-4-1.5h0m0.5-2h0m-0.5 0h0m-2-1.5h0m5-1.5h0m-1-4h0m1.5-3h0m-5-3.5h0m9 86h0m0-4.5h0m0-3h0m1-11h0m1-1.5h0m-4.5-8h0m0.5-1h0m3-5h0m-1.5-2h0m1-2.5h0m-2-9h0m2.5-2h0m-3-15h0m1-3.5h0m0.5-7.5h0m-1.5-11.5h0m1.5-1h0m-2-5h0m6.5 91h0m3-7.5h0m-0.5-2h0m2-2h0m-5-0.5h0m0-10.5h0m3-6.5h0m-1.5-8.5h0m2.5-1.5h0m0-7.5h0m-0.5-2.5h0m1.5-15.5h0m-5.5-5.5h0m2-0.5h0m3-0.5h0m-5.5-5.5h0m11 73h0m-2-9.5h0m-0.5-5.5h0m-1.5-6h0m4-16.5h0m-1.5-1h0m0-9.5h0m1-21h0m-3.5-18h0m2-10.5h0m8 74.5h0m-3-20h0m-1-0.5h0m2.5-2h0m-1.5-40h0m5 69.5h0m1-32h0m0.5-3h0m2-39h0m-2 0h0m9 70h0m-4-9h0m4-36.5h0m-4.5-6h0m2.5-14h0m7 53.5h0m-2.5-14.5h0m0.5-23h0m2-18.5h0m2.5 55.5h0m2-51.5h0m-0.5-38h0m7 123.5h0m-3-40.5h0m23 24h0m-5.5-55h0m7.5-29h0m1.5-51h0m10.5 11.5h0m28.5 26.5h0m15.5 155.5h0m21.5-138h0"/>
<clipPath id="clip-c"><rect x="65.7" y="926.4" width="200" height="202.8"/></clipPath>
<g clip-path="url(#clip-c)"><g filter="url(#bl2)"><ellipse cx="96.3" cy="1101.2" rx="37.5" ry="5" fill="#473fe3" opacity="1" transform="rotate(-42.2 96.3 1101.2)"/><ellipse cx="85.2" cy="1111.3" rx="24" ry="5.5" fill="#4755f6" opacity="0.95" transform="rotate(-42.2 85.2 1111.3)"/><circle cx="68.5" cy="1126.4" r="28.5" fill="#484aee" opacity="0.85"/><circle cx="68.5" cy="1126.4" r="23.2" fill="#475cfa" opacity="0.9"/></g><g filter="url(#bl)"><circle cx="68.5" cy="1126.4" r="20.5" fill="#3876fe" opacity="1"/><circle cx="68.5" cy="1126.4" r="18.3" fill="#15afd9" opacity="1"/><circle cx="68.5" cy="1126.4" r="16.7" fill="#48cb86" opacity="1"/><circle cx="68.5" cy="1126.4" r="15.3" fill="#c1c32d" opacity="1"/><circle cx="68.5" cy="1126.4" r="14.5" fill="#fec437" opacity="1"/><ellipse cx="74.4" cy="1121" rx="11.6" ry="7.6" fill="#f6e028" opacity="1" transform="rotate(-42.2 74.4 1121)"/></g></g>
<line x1="68.5" y1="1126.4" x2="401.6" y2="824.1" stroke="#e8141c" stroke-opacity="0.84" stroke-width="2"/>
<text class="tk" x="68" y="1152.3" text-anchor="middle">0</text><text class="tk" x="59.3" y="1133.6" text-anchor="end">0</text>
<text class="tk" x="123.5" y="1152.3" text-anchor="middle">100</text><text class="tk" x="59.3" y="1083.2" text-anchor="end">100</text>
<text class="tk" x="179" y="1152.3" text-anchor="middle">200</text><text class="tk" x="59.3" y="1032.8" text-anchor="end">200</text>
<text class="tk" x="234.5" y="1152.3" text-anchor="middle">300</text><text class="tk" x="59.3" y="982.4" text-anchor="end">300</text>
<text class="tk" x="290" y="1152.3" text-anchor="middle">400</text><text class="tk" x="59.3" y="932" text-anchor="end">400</text>
<text class="tk" x="345.6" y="1152.3" text-anchor="middle">500</text><text class="tk" x="59.3" y="881.7" text-anchor="end">500</text>
<text class="tk" x="401.1" y="1152.3" text-anchor="middle">600</text><text class="tk" x="59.3" y="831.3" text-anchor="end">600</text>
<text class="tk" x="456.6" y="1152.3" text-anchor="middle">700</text><text class="tk" x="59.3" y="780.9" text-anchor="end">700</text>
<text class="tk" x="512.1" y="1152.3" text-anchor="middle">800</text><text class="tk" x="59.3" y="730.5" text-anchor="end">800</text>
<text class="tk" x="567.6" y="1152.3" text-anchor="middle">900</text><text class="tk" x="59.3" y="680.1" text-anchor="end">900</text>
<text class="lb" x="318.3" y="1178.6" text-anchor="middle">PM2.5 observations</text>
<text class="lb" transform="translate(20.8 899.6) rotate(-90)" text-anchor="middle">PM2.5 estimations</text>
<text class="an" x="98.7" y="717.9">N = 46911</text>
<text class="an" x="98.7" y="755.2">R<tspan dy="-9" font-size="16">2</tspan><tspan dy="9"> = 0.82</tspan></text>
<text class="an" x="98.7" y="792.5">RMSE = 12.99 µg/m<tspan dy="-9" font-size="16">3</tspan></text>
<rect x="598.5" y="672.9" width="27" height="453.5" fill="url(#par)" stroke="#222" stroke-opacity="0.6" stroke-width="1.3"/>
<path d="M625.5 1081.1h-3.3M625.5 1035.7h-3.3M625.5 990.4h-3.3M625.5 945h-3.3M625.5 899.7h-3.3M625.5 854.3h-3.3M625.5 809h-3.3M625.5 763.6h-3.3M625.5 718.3h-3.3" stroke="#333" stroke-opacity="0.7" stroke-width="1.4" fill="none"/>
<text class="cb" x="632.5" y="1132.7">0</text><text class="cb" x="632.5" y="1087.4">0.1</text><text class="cb" x="632.5" y="1042">0.2</text><text class="cb" x="632.5" y="996.7">0.3</text><text class="cb" x="632.5" y="951.3">0.4</text><text class="cb" x="632.5" y="906">0.5</text><text class="cb" x="632.5" y="860.6">0.6</text><text class="cb" x="632.5" y="815.2">0.7</text><text class="cb" x="632.5" y="769.9">0.8</text><text class="cb" x="632.5" y="724.6">0.9</text><text class="cb" x="632.5" y="679.2">1</text>
</g>
<g id="panel-d">
<text class="t" x="1118.6" y="638.4" text-anchor="middle">(d) Estimation results after repair, 2018</text>
<path class="ax" d="M834.7 672.9V1126.4H1334.3M890.2 1126.4v-3.3M834.7 1076h3.3M945.7 1126.4v-3.3M834.7 1025.6h3.3M1001.2 1126.4v-3.3M834.7 975.2h3.3M1056.7 1126.4v-3.3M834.7 924.8h3.3M1112.3 1126.4v-3.3M834.7 874.5h3.3M1167.8 1126.4v-3.3M834.7 824.1h3.3M1223.3 1126.4v-3.3M834.7 773.7h3.3M1278.8 1126.4v-3.3M834.7 723.3h3.3M1334.3 1126.4v-3.3M834.7 672.9h3.3"/>
<polygon points="842.7,1118.4 842.7,1087.2 854.9,1078.5 855.8,1077.8 866.5,1067.5 881.1,1060.2 908.4,1050.8 909,1050.6 909.6,1050.3 910.2,1049.9 910.8,1049.5 923.4,1039.4 937.3,1037.8 945,1039.9 945.2,1042.1 933.1,1055.6 932.6,1056.2 932.2,1056.8 931.8,1057.5 923.9,1074.6 907.5,1085.5 906.8,1085.9 906.2,1086.5 905.7,1087.1 905.2,1087.7 895.8,1101.9 880.6,1114.7 880.1,1115.2 876.9,1118.4" fill="#3e26a8" stroke="#3e26a8" stroke-width="3" stroke-linejoin="round"/>
<path class="d" d="M837 1126h0m0-3h0m0-2h0m-0.5-5h0m-2-2.5h0m0.5-1.5h0m0.5-3h0m2-2h0m-1-4h0m-2-0.5h0m1.5-0.5h0m0-0.5h0m-0.5-1.5h0m-0.5-2.5h0m1.5-0.5h0m-0.5-2.5h0m1.5-2.5h0m-0.5-1h0m-1.5-6h0m-0.5-2.5h0m2-3h0m-1-8.5h0m6 55h0m0.5-1h0m-4-0.5h0m4-1.5h0m-3.5-0.5h0m0 0h0m0.5-1.5h0m2-0.5h0m1.5-1h0m-4 0h0m3.5-1h0m0.5-0.5h0m-3.5-2h0m1.5-1.5h0m-3 0h0m3-1h0m-1.5-0.5h0m4-1h0m-5.5-1.5h0m1-0.5h0m2.5-1.5h0m-0.5-0.5h0m1.5-1.5h0m-4-1h0m1.5-0.5h0m-0.5-1h0m1.5 0h0m2.5-0.5h0m-2.5 0h0m2-2h0m0-1h0m-3.5-0.5h0m0.5-0.5h0m3.5 0h0m-1-0.5h0m-1-1h0m-3.5-0.5h0m4.5-0.5h0m-0.5-1h0m-1-1h0m-2.5-1h0m2.5-0.5h0m0.5-0.5h0m-1-0.5h0m2-1h0m-3.5-1.5h0m-0.5 0h0m2.5-2.5h0m0.5-0.5h0m0 0h0m-3.5-0.5h0m0.5-0.5h0m5 0h0m0-0.5h0m-3-0.5h0m2.5-0.5h0m0-0.5h0m-1-1h0m-3.5-0.5h0m-0.5-0.5h0m2.5-1h0m1.5 0h0m-3-1h0m3-4h0m-3.5-7.5h0m3.5-4h0m-0.5-5h0m3 66.5h0m3.5 0h0m-0.5 0h0m1.5-0.5h0m-3-0.5h0m-1.5-2h0m0 0h0m4-0.5h0m-1.5 0h0m0.5-2h0m-1-0.5h0m1.5-1h0m0-1h0m-1 0h0m-2-2.5h0m-0.5-2h0m0-0.5h0m-0.5-5.5h0m1-6h0m-1.5-1.5h0m1.5-3h0m0-2.5h0m0-2.5h0m-1-0.5h0m0.5-4h0m1.5-1h0m1-0.5h0m-1.5-0.5h0m-1 0h0m-1-0.5h0m3.5 0h0m-2.5 0h0m1-0.5h0m3-0.5h0m-2-2.5h0m-1 0h0m1.5-1h0m-3 0h0m1.5-1.5h0m0-0.5h0m0-0.5h0m-1.5-0.5h0m4.5 0h0m-3.5-0.5h0m3.5 0h0m-4.5-0.5h0m0.5-0.5h0m3.5-0.5h0m-2.5-0.5h0m3-0.5h0m0.5-1h0m0.5-1h0m-2.5-2.5h0m1-1h0m-0.5-6h0m4.5 62.5h0m3.5-2h0m-1.5-1.5h0m1 0h0m-2.5-1h0m1-1h0m-1.5-1h0m0-0.5h0m2.5-0.5h0m-1 0h0m1.5-1h0m-2 0h0m0-0.5h0m2.5 0h0m-3.5-0.5h0m-2-33h0m0.5 0h0m-0.5-0.5h0m0 0h0m2-1h0m2-1h0m-2 0h0m2-0.5h0m0.5 0h0m-5-1h0m2.5-1h0m2.5-0.5h0m0.5-0.5h0m-3.5-1h0m-0.5-1h0m-0.5 0h0m2 0h0m1.5-0.5h0m-1-1.5h0m1.5 0h0m-2.5-1.5h0m-0.5 0h0m2-1.5h0m0-0.5h0m0 0h0m-1-0.5h0m2.5 0h0m0.5 0h0m-1.5-1h0m0.5-1h0m-0.5-2h0m-0.5-1h0m-3.5-6.5h0m11 66.5h0m-1-0.5h0m1-1h0m-3.5-2.5h0m-2-1.5h0m1-1.5h0m2.5-0.5h0m-0.5-38h0m-2.5-0.5h0m4.5-1.5h0m-1.5 0h0m-2-0.5h0m0-0.5h0m1.5-1h0m3-1.5h0m-5.5-0.5h0m4-1.5h0m-4-1h0m0.5-0.5h0m0.5 0h0m3.5-2h0m-1-1.5h0m-0.5 0h0m0-0.5h0m1.5-0.5h0m0.5-1h0m-1.5-1h0m0.5-1h0m0.5-2.5h0m-4.5-1.5h0m5.5-1h0m-2.5-3h0m2-1h0m0-5h0m-2-43.5h0m6.5 119.5h0m-1.5-1h0m-0.5-3.5h0m3-0.5h0m-3.5-0.5h0m2.5-2h0m-0.5-44.5h0m0-1h0m-1.5-1h0m0.5-0.5h0m-1-0.5h0m1.5-0.5h0m0 0h0m-0.5-0.5h0m-1-0.5h0m0.5-2.5h0m3 0h0m0.5 0h0m-3-1h0m-1.5-0.5h0m3.5-0.5h0m1.5 0h0m-1-1h0m-3.5-1h0m1 0h0m2.5-2.5h0m-3-1h0m0.5-0.5h0m3.5 0h0m0 0h0m-4-1h0m-0.5-7.5h0m7 76.5h0m-0.5-0.5h0m0-0.5h0m1 0h0m3 0h0m-4.5-1.5h0m1 0h0m-1.5 0h0m-0.5-2.5h0m5-0.5h0m-1.5 0h0m-1 0h0m-1.5-0.5h0m4.5 0h0m-5-1h0m1-0.5h0m2-50.5h0m1.5 0h0m0 0h0m-3 0h0m3-1.5h0m-4-0.5h0m1.5-1.5h0m0.5 0h0m0.5 0h0m0.5-1h0m0.5 0h0m-3.5-0.5h0m-0.5-1.5h0m4.5 0h0m-0.5 0h0m-2.5-1h0m-1-0.5h0m1.5-1h0m2.5-0.5h0m-3-0.5h0m2.5-0.5h0m1-5h0m-5.5-7h0m6.5 80h0m0.5-1h0m1 0h0m1.5 0h0m1.5-0.5h0m-0.5 0h0m1-0.5h0m-5-1.5h0m1.5-0.5h0m3-0.5h0m-4-1h0m3.5 0h0m-4.5 0h0m0.5-0.5h0m1-0.5h0m-0.5-0.5h0m1.5-0.5h0m0.5-1.5h0m-1.5-51h0m-0.5 0h0m1.5-0.5h0m-2.5-0.5h0m4.5-0.5h0m-4.5-1h0m5.5-0.5h0m-1-1h0m-1-2h0m2 0h0m-4.5-2.5h0m4 0h0m-4-0.5h0m0.5-20.5h0m-1.5-19.5h0m6.5 109.5h0m3.5-1h0m-1.5-0.5h0m-1-1h0m0-0.5h0m0.5 0h0m-1.5-2.5h0m1.5-1h0m3-2.5h0m-3.5-1h0m-1 0h0m2-0.5h0m-1 0h0m0-0.5h0m0-1.5h0m0.5-1h0m1.5-0.5h0m0-1h0m1.5 0h0m0-0.5h0m0.5-1h0m-4.5-46h0m0.5 0h0m-1-0.5h0m3.5-1h0m0.5-0.5h0m-1.5-0.5h0m0-0.5h0m-1-0.5h0m1-1h0m0.5 0h0m0.5 0h0m0-0.5h0m0.5-0.5h0m-4.5-1h0m4-0.5h0m-0.5-0.5h0m-3-0.5h0m3.5-3h0m0.5-1h0m0.5-2h0m-2-2.5h0m2-17h0m3 97.5h0m3.5-5h0m-4.5-5h0m-1 0h0m3-0.5h0m2.5-1h0m-3 0h0m-2-1.5h0m3.5-0.5h0m-0.5 0h0m2-0.5h0m-2.5 0h0m1-1.5h0m0.5-0.5h0m-1 0h0m-2.5-2h0m4.5-2.5h0m-1.5-2.5h0m1.5-0.5h0m-3-44h0m3-2.5h0m-1.5-2h0m-4-1h0m3-1.5h0m-0.5-1h0m-1-1.5h0m1.5-3h0m-0.5-0.5h0m1.5-2.5h0m-4-39h0m7.5 119.5h0m-1-3h0m3.5-2h0m0-2.5h0m-2.5-1h0m3-0.5h0m-2.5-2.5h0m3.5-1.5h0m-1-0.5h0m-4-0.5h0m0.5-0.5h0m-0.5-1h0m5 0h0m-5-1h0m2 0h0m-0.5-0.5h0m-0.5-0.5h0m3-0.5h0m-1.5 0h0m0 0h0m-3-0.5h0m4.5 0h0m-1-0.5h0m-0.5-3h0m-2.5 0h0m4-1.5h0m0-2.5h0m0.5-2h0m-2.5-38h0m2.5-1.5h0m-3.5-1h0m-1-0.5h0m0 0h0m2 0h0m1-0.5h0m-3.5-1h0m5-0.5h0m-4.5 0h0m2.5-0.5h0m-2-3.5h0m-1 0h0m0-1.5h0m1.5-4h0m1.5-0.5h0m-2-3h0m-1-7h0m4.5-14h0m6.5 104.5h0m-3-5h0m0.5-1h0m0.5 0h0m-2.5-7.5h0m0 0h0m0-1.5h0m2-0.5h0m0-0.5h0m0-1h0m0.5-0.5h0m-0.5-0.5h0m1.5-1h0m-4-0.5h0m5.5-0.5h0m-3.5-1.5h0m0.5-0.5h0m1.5-1h0m-2-1.5h0m-2.5 0h0m5.5-0.5h0m0 0h0m-4 0h0m0-0.5h0m3-1h0m1.5 0h0m-4.5-1h0m2 0h0m2.5 0h0m-2-0.5h0m2-1h0m-4 0h0m3-0.5h0m0-0.5h0m-2-0.5h0m1-1h0m-2 0h0m2-0.5h0m0 0h0m0.5-2h0m-3-33.5h0m0.5 0h0m0.5-1h0m3.5-0.5h0m-3-0.5h0m0-1h0m2-1.5h0m-3-0.5h0m3-0.5h0m-1-1h0m-1.5-3h0m1-1h0m2.5-0.5h0m-1-0.5h0m0.5-0.5h0m-1-1h0m-0.5-0.5h0m-2 0h0m3.5-6h0m-2.5-1h0m2.5-3h0m-4-3.5h0m8 89.5h0m1.5-1.5h0m-4.5-4h0m4-5h0m-3.5-2.5h0m1.5-1h0m-1-1h0m4 0h0m-2.5-1h0m-0.5-0.5h0m-0.5-0.5h0m1.5-1h0m-0.5-0.5h0m-1-1.5h0m-0.5 0h0m0.5-1h0m0.5-3h0m-1.5-0.5h0m4 0h0m-2.5-1.5h0m-2 0h0m4.5-0.5h0m-3 0h0m4-1.5h0m-5 0h0m1-0.5h0m-1 0h0m1.5-0.5h0m0-3.5h0m-1-1h0m0-0.5h0m1-0.5h0m-0.5-30h0m-1.5-0.5h0m3-0.5h0m1.5-1.5h0m-3.5-2.5h0m2.5-1.5h0m-1.5 0h0m2.5 0h0m-0.5-0.5h0m-0.5 0h0m0.5-2.5h0m1 0h0m-4 0h0m3-0.5h0m0 0h0m-0.5-0.5h0m0-1h0m-2.5-1h0m4.5-1.5h0m-1.5 0h0m-1.5-0.5h0m-1.5-6.5h0m1.5 0h0m1.5-1h0m1.5 86h0m2-1h0m3-5h0m-3-1h0m-1-1h0m2 0h0m-0.5 0h0m2-8h0m-2-2h0m2-1h0m-1-3.5h0m2.5-2h0m-3-2.5h0m-2.5-0.5h0m3.5-0.5h0m-3.5-1.5h0m5-0.5h0m-1-1h0m1-1h0m-2-1h0m-2 0h0m4.5 0h0m-1-2.5h0m0-0.5h0m1-0.5h0m0 0h0m-5-0.5h0m3-1h0m-1-1h0m3-1h0m0-0.5h0m-1-28h0m-3.5-0.5h0m-1.5-2h0m3 0h0m0.5 0h0m-2-0.5h0m3.5-0.5h0m-3.5-1.5h0m2-2h0m1 0h0m0.5 0h0m-3.5-1h0m3.5-0.5h0m0-0.5h0m0-2h0m0.5-1h0m-1 0h0m-4-0.5h0m3 0h0m-0.5-1h0m2.5-0.5h0m-2.5-5h0m0.5-5h0m-1-33.5h0m8 114.5h0m-0.5-3.5h0m2-0.5h0m-3.5-1h0m-1-2.5h0m4-0.5h0m-1-0.5h0m-1.5-4h0m-0.5-2h0m-1-1h0m-1-1.5h0m3.5-2.5h0m2 0h0m-2-0.5h0m-1-0.5h0m3 0h0m-2 0h0m-3.5-0.5h0m4-1h0m0-0.5h0m-1.5-1h0m-1 0h0m3-0.5h0m-4.5 0h0m3.5-0.5h0m1.5-0.5h0m-1.5 0h0m-1-3h0m0-0.5h0m1 0h0m0.5-1h0m-3 0h0m2-1.5h0m-2-30.5h0m1 0h0m2-0.5h0m-3-2.5h0m0.5-2h0m3-2h0m-4 0h0m3.5-0.5h0m-3.5-0.5h0m0.5 0h0m0-3h0m1-0.5h0m1-0.5h0m-0.5-1h0m-0.5-0.5h0m-1-2.5h0m-0.5-4.5h0m2.5-2h0m-0.5-0.5h0m-2-1h0m2-0.5h0m3-2h0m0.5 90h0m4.5-6h0m-2.5-1h0m3.5-6.5h0m-2-3h0m0 0h0m-3.5-1h0m2-0.5h0m0.5-1.5h0m-1-2.5h0m0.5-1.5h0m-1.5 0h0m0.5-1h0m2.5-1.5h0m-0.5-1h0m1 0h0m1.5 0h0m-4.5-3.5h0m0 0h0m4.5-2h0m-0.5-1.5h0m-3-0.5h0m3.5-0.5h0m-2.5-1.5h0m2-0.5h0m-1-0.5h0m1-0.5h0m-2-3h0m2.5-5h0m-4.5-20h0m0-2h0m3.5-0.5h0m-0.5-1h0m-0.5-1h0m-1-1.5h0m2-1h0m-4-1h0m4-0.5h0m-3-0.5h0m-1.5-1.5h0m3.5-2.5h0m1.5-0.5h0m-3-1h0m-2.5-0.5h0m12 78.5h0m-5.5-9h0m4.5-4h0m-2.5-11h0m-2-3.5h0m4.5-0.5h0m-3-1h0m4-3h0m0-0.5h0m-3-1.5h0m-1-0.5h0m2.5-0.5h0m-2.5-1h0m2 0h0m-3 0h0m5-1h0m-2 0h0m-0.5-0.5h0m2-1h0m-3-2.5h0m1.5 0h0m1-1h0m-4.5-2h0m4.5 0h0m0-1h0m-1 0h0m-1.5-0.5h0m0-1h0m2-1.5h0m0-1h0m1.5 0h0m-3.5-0.5h0m0.5-0.5h0m1.5-16.5h0m-4 0h0m2-1h0m0.5 0h0m-2-1.5h0m5-0.5h0m-3-1h0m1.5 0h0m1-1h0m-4.5-0.5h0m0-0.5h0m-0.5-2h0m4.5-1h0m-4.5-1h0m5.5-1h0m-5-0.5h0m1.5 0h0m-1-0.5h0m3-1.5h0m-0.5-2.5h0m2-1.5h0m-1-1h0m-4.5-3.5h0m4.5-1h0m1.5 92.5h0m2-1h0m-1.5-7h0m2.5-17.5h0m-2.5 0h0m-1-4h0m4.5-1.5h0m1-2h0m-1-0.5h0m-3.5-0.5h0m-0.5 0h0m3.5-5h0m-3.5 0h0m0.5-0.5h0m0.5 0h0m3-2h0m-3.5-3h0m4 0h0m-0.5-0.5h0m-2-1h0m0-2.5h0m-1.5 0h0m1 0h0m1-0.5h0m1.5-0.5h0m-2-3.5h0m0-0.5h0m-0.5-0.5h0m1.5 0h0m1-0.5h0m-2.5-2h0m1.5 0h0m-2.5 0h0m3-1h0m-2.5-0.5h0m1-0.5h0m-0.5-0.5h0m2-0.5h0m1.5-1h0m-2-8.5h0m-1-1h0m0 0h0m-0.5-0.5h0m0-0.5h0m2-0.5h0m-3.5 0h0m0.5-1.5h0m3-1h0m2 0h0m-2 0h0m0.5-0.5h0m-4-1.5h0m0-0.5h0m0.5-0.5h0m1-1.5h0m-1.5-0.5h0m0-2h0m0.5 0h0m1 0h0m4-0.5h0m-1.5-0.5h0m-2.5 0h0m2-0.5h0m-2.5-0.5h0m0.5-0.5h0m-1.5 0h0m2.5-1.5h0m-0.5-0.5h0m2-1h0m0 0h0m-1.5-11.5h0m0.5-9.5h0m3 95.5h0m5-27h0m0.5-5.5h0m-0.5-0.5h0m-4-1h0m4.5 0h0m-5-1.5h0m2-0.5h0m0.5-0.5h0m-2.5-1.5h0m0.5-1h0m2.5-0.5h0m-1-1h0m-2-0.5h0m3.5 0h0m-3-0.5h0m0.5 0h0m0.5-0.5h0m0-0.5h0m-1.5 0h0m1-0.5h0m4-0.5h0m-2.5-2h0m-1-1h0m-0.5-3.5h0m0.5-0.5h0m0.5 0h0m-2-0.5h0m1.5 0h0m2.5-0.5h0m1-1h0m-0.5-2h0m-2 0h0m0-0.5h0m-2.5-2h0m5-0.5h0m-3.5 0h0m-1.5 0h0m1.5-0.5h0m1.5-1h0m-0.5-0.5h0m-0.5 0h0m2 0h0m-1-2h0m-1 0h0m3 0h0m-2-0.5h0m-2.5 0h0m3.5-0.5h0m0.5 0h0m-3-0.5h0m-2 0h0m3-1h0m-0.5-2h0m0-1.5h0m-2.5 0h0m0.5-0.5h0m1.5-0.5h0m3.5-1h0m-2.5-0.5h0m-3.5-1h0m4.5-0.5h0m-2 0h0m3.5-1.5h0m0-4h0m-1.5-1h0m1.5 0h0m-4 0h0m4-6.5h0m-1-7h0m-0.5-6.5h0m-1-1.5h0m4 115h0m3.5-18.5h0m-2.5-13h0m-1.5 0h0m2.5-7.5h0m-2-3h0m-1-15h0m0-2.5h0m2-0.5h0m0.5-1h0m-2.5-1.5h0m4 0h0m-1.5-1.5h0m-2-0.5h0m3-1h0m-0.5 0h0m-2-0.5h0m2.5-0.5h0m-3-2.5h0m2 0h0m-1.5-0.5h0m4.5-1.5h0m-4.5-0.5h0m4 0h0m0-0.5h0m-1.5 0h0m1-1.5h0m0.5-0.5h0m-3-1h0m0-1.5h0m-0.5-1.5h0m3.5 0h0m-0.5 0h0m-4-0.5h0m3.5-0.5h0m-1 0h0m0.5 0h0m0-0.5h0m-2 0h0m-1.5-0.5h0m4.5-0.5h0m-0.5 0h0m1-1h0m-5 0h0m3.5-3h0m2-1.5h0m-4.5-0.5h0m-1-1.5h0m3 0h0m-0.5-0.5h0m2.5 0h0m-1.5-0.5h0m-2.5 0h0m4-0.5h0m-3-2.5h0m1.5-1h0m-2.5-5h0m4-3.5h0m-1.5-3.5h0m-1.5 0h0m0-5h0m1.5-8.5h0m-0.5-2h0m5 121h0m3-26.5h0m-2.5-14.5h0m-1-8h0m0-2h0m2.5-5.5h0m0-2.5h0m-3.5-2.5h0m3-0.5h0m0 0h0m0.5-2h0m-3-5h0m3-1h0m-1-2h0m-0.5-0.5h0m-2.5 0h0m1-6h0m1.5 0h0m-1-1h0m3.5-0.5h0m-1-1h0m-3.5 0h0m1.5-1.5h0m1.5-1h0m-0.5-1.5h0m-3-0.5h0m2-1h0m-0.5 0h0m1-0.5h0m-2-1h0m1-0.5h0m3.5-2h0m-5-2.5h0m4.5-0.5h0m-1-1h0m-1-0.5h0m3-0.5h0m-4.5-0.5h0m2.5-2.5h0m0-1.5h0m2-0.5h0m-1-14.5h0m0-1h0m-2-5.5h0m1-7.5h0m3.5 133h0m4.5-11.5h0m-2.5-30.5h0m2-3h0m-0.5-2h0m0.5-3.5h0m-1-2.5h0m-0.5-5h0m1.5-1.5h0m-1-3h0m-3-3.5h0m2-2.5h0m2.5-0.5h0m-5-7.5h0m3-2h0m-3-1.5h0m3.5 0h0m-1.5-3h0m-0.5-1h0m-2-1h0m5-0.5h0m-4.5-1h0m1.5-6h0m1-1.5h0m-3-0.5h0m0.5-4.5h0m0-1.5h0m1.5-1h0m-0.5-1.5h0m-2 0h0m4.5-2h0m-1-0.5h0m-0.5-1h0m-1.5-1h0m1.5-4.5h0m1 0h0m-3 0h0m3.5-0.5h0m1.5-0.5h0m-1-1.5h0m0.5-0.5h0m-4-3.5h0m3-1h0m-3-9.5h0m2-4h0m8 90.5h0m-0.5-8h0m0-5h0m-2-8.5h0m0-2.5h0m-1-1.5h0m-1.5-1.5h0m0.5-9h0m4-2.5h0m-1.5-0.5h0m-2-0.5h0m-1-6h0m4.5 0h0m1-0.5h0m-0.5-6.5h0m-1-0.5h0m1.5-2.5h0m-2-2h0m-3.5-1.5h0m1.5-0.5h0m-0.5 0h0m-0.5-0.5h0m-0.5-0.5h0m3-1h0m2.5-0.5h0m-3.5-0.5h0m-1-0.5h0m2-1.5h0m-1 0h0m0.5-2.5h0m3-1h0m-1.5-3h0m-1.5-0.5h0m-1.5-3h0m1.5-0.5h0m1.5-12h0m-3-0.5h0m9 75h0m-0.5-5.5h0m0-2h0m-1-5h0m0-2.5h0m-2-1.5h0m0.5-1.5h0m3-3.5h0m1-5.5h0m-3-3.5h0m2-1h0m-1.5-11h0m1-1h0m-1-2.5h0m0.5-1h0m0-0.5h0m-0.5-1h0m-1.5-1h0m-1-0.5h0m5.5-5.5h0m-2-3.5h0m2-1.5h0m-1-0.5h0m-3-2h0m3.5-1h0m-2-1h0m1.5-0.5h0m0-1h0m1-10.5h0m-1-2.5h0m4.5 81h0m2.5-9h0m-0.5-3.5h0m-5-8h0m1.5 0h0m-1.5-1h0m2.5-8.5h0m1.5-1.5h0m-0.5-5.5h0m-2.5-1.5h0m2.5-2.5h0m0-3.5h0m1.5-7.5h0m-5.5-0.5h0m3.5-3.5h0m0-1h0m-1.5-1.5h0m3.5-0.5h0m-4-3h0m0-2h0m4-4.5h0m-4-2.5h0m0.5 0h0m-1.5-2.5h0m0-6.5h0m1-2.5h0m2-2.5h0m5.5 93h0m3-18.5h0m-3.5-8.5h0m-1-4h0m2.5-5h0m-4-7.5h0m5-1h0m0.5-4h0m-2.5-5.5h0m-1-9.5h0m1-3h0m-1.5-0.5h0m-0.5-8h0m0 0h0m0.5-5h0m0-2.5h0m1-1h0m-2 0h0m0-10h0m10.5 87.5h0m-2-23.5h0m0.5-8.5h0m-1-13.5h0m2.5-2.5h0m-4.5-4h0m2-2.5h0m1-0.5h0m-1-26.5h0m-2-7h0m7 89h0m0-37.5h0m-1-3h0m4 0h0m-2-4.5h0m0-4h0m1.5-12h0m0-5h0m1.5-0.5h0m-1.5-3.5h0m-2.5-2h0m3-2h0m1-4.5h0m-1-1h0m-2.5-22h0m8 86.5h0m-3-9h0m1.5-2.5h0m2-1.5h0m0.5-5h0m-4.5-4h0m1.5-19h0m0.5-0.5h0m2-6h0m-1-9h0m-2-7.5h0m0.5-4.5h0m0.5-7.5h0m8.5 54h0m0.5-15h0m-5-12.5h0m1-7h0m0-11h0m-0.5-6.5h0m5.5 72h0m2-9h0m-0.5-29h0m-0.5-14h0m4-17.5h0m1 53.5h0m0-48h0m10 66h0m-4-6h0m5.5-30.5h0m-2-42.5h0m0-35h0m6 152h0m-3.5-80h0m25-32.5h0m-1-34.5h0m2-16h0m11.5-1h0m27.5 16h0m15.5 170.5h0m22.5-227.5h0m18.5-63.5h0"/>
<clipPath id="clip-d"><rect x="831.9" y="926.4" width="200" height="202.8"/></clipPath>
<g clip-path="url(#clip-d)"><g filter="url(#bl2)"><ellipse cx="862.5" cy="1101.2" rx="37.5" ry="5" fill="#473fe3" opacity="1" transform="rotate(-42.2 862.5 1101.2)"/><ellipse cx="851.4" cy="1111.3" rx="24" ry="5.5" fill="#4755f6" opacity="0.95" transform="rotate(-42.2 851.4 1111.3)"/><circle cx="834.7" cy="1126.4" r="28.5" fill="#484aee" opacity="0.85"/><circle cx="834.7" cy="1126.4" r="23.2" fill="#475cfa" opacity="0.9"/></g><g filter="url(#bl)"><circle cx="834.7" cy="1126.4" r="20.5" fill="#3876fe" opacity="1"/><circle cx="834.7" cy="1126.4" r="18.3" fill="#15afd9" opacity="1"/><circle cx="834.7" cy="1126.4" r="16.7" fill="#48cb86" opacity="1"/><circle cx="834.7" cy="1126.4" r="15.3" fill="#c1c32d" opacity="1"/><circle cx="834.7" cy="1126.4" r="14.5" fill="#fec437" opacity="1"/><ellipse cx="840.6" cy="1121" rx="11.6" ry="7.6" fill="#f6e028" opacity="1" transform="rotate(-42.2 840.6 1121)"/></g></g>
<line x1="834.7" y1="1126.4" x2="1167.8" y2="824.1" stroke="#e8141c" stroke-opacity="0.84" stroke-width="2"/>
<text class="tk" x="834.2" y="1152.3" text-anchor="middle">0</text><text class="tk" x="825.5" y="1133.6" text-anchor="end">0</text>
<text class="tk" x="889.7" y="1152.3" text-anchor="middle">100</text><text class="tk" x="825.5" y="1083.2" text-anchor="end">100</text>
<text class="tk" x="945.2" y="1152.3" text-anchor="middle">200</text><text class="tk" x="825.5" y="1032.8" text-anchor="end">200</text>
<text class="tk" x="1000.7" y="1152.3" text-anchor="middle">300</text><text class="tk" x="825.5" y="982.4" text-anchor="end">300</text>
<text class="tk" x="1056.2" y="1152.3" text-anchor="middle">400</text><text class="tk" x="825.5" y="932" text-anchor="end">400</text>
<text class="tk" x="1111.8" y="1152.3" text-anchor="middle">500</text><text class="tk" x="825.5" y="881.7" text-anchor="end">500</text>
<text class="tk" x="1167.3" y="1152.3" text-anchor="middle">600</text><text class="tk" x="825.5" y="831.3" text-anchor="end">600</text>
<text class="tk" x="1222.8" y="1152.3" text-anchor="middle">700</text><text class="tk" x="825.5" y="780.9" text-anchor="end">700</text>
<text class="tk" x="1278.3" y="1152.3" text-anchor="middle">800</text><text class="tk" x="825.5" y="730.5" text-anchor="end">800</text>
<text class="tk" x="1333.8" y="1152.3" text-anchor="middle">900</text><text class="tk" x="825.5" y="680.1" text-anchor="end">900</text>
<text class="lb" x="1084.5" y="1178.6" text-anchor="middle">PM2.5 observations</text>
<text class="lb" transform="translate(787 899.6) rotate(-90)" text-anchor="middle">PM2.5 estimations</text>
<text class="an" x="864.9" y="717.9">N = 46911</text>
<text class="an" x="864.9" y="755.2">R<tspan dy="-9" font-size="16">2</tspan><tspan dy="9"> = 0.84</tspan></text>
<text class="an" x="864.9" y="792.5">RMSE = 12.45 µg/m<tspan dy="-9" font-size="16">3</tspan></text>
<rect x="1364.7" y="672.9" width="27" height="453.5" fill="url(#par)" stroke="#222" stroke-opacity="0.6" stroke-width="1.3"/>
<path d="M1391.7 1081.1h-3.3M1391.7 1035.7h-3.3M1391.7 990.4h-3.3M1391.7 945h-3.3M1391.7 899.7h-3.3M1391.7 854.3h-3.3M1391.7 809h-3.3M1391.7 763.6h-3.3M1391.7 718.3h-3.3" stroke="#333" stroke-opacity="0.7" stroke-width="1.4" fill="none"/>
<text class="cb" x="1398.7" y="1132.7">0</text><text class="cb" x="1398.7" y="1087.4">0.1</text><text class="cb" x="1398.7" y="1042">0.2</text><text class="cb" x="1398.7" y="996.7">0.3</text><text class="cb" x="1398.7" y="951.3">0.4</text><text class="cb" x="1398.7" y="906">0.5</text><text class="cb" x="1398.7" y="860.6">0.6</text><text class="cb" x="1398.7" y="815.2">0.7</text><text class="cb" x="1398.7" y="769.9">0.8</text><text class="cb" x="1398.7" y="724.6">0.9</text><text class="cb" x="1398.7" y="679.2">1</text>
</g>
<g id="panel-e">
<text class="t" x="352.4" y="1249.9" text-anchor="middle">(e) Estimation results before repair, 2019</text>
<path class="ax" d="M68.5 1284.4V1737.9H568.1M124 1737.9v-3.3M68.5 1687.5h3.3M179.5 1737.9v-3.3M68.5 1637.1h3.3M235 1737.9v-3.3M68.5 1586.7h3.3M290.5 1737.9v-3.3M68.5 1536.3h3.3M346.1 1737.9v-3.3M68.5 1486h3.3M401.6 1737.9v-3.3M68.5 1435.6h3.3M457.1 1737.9v-3.3M68.5 1385.2h3.3M512.6 1737.9v-3.3M68.5 1334.8h3.3M568.1 1737.9v-3.3M68.5 1284.4h3.3"/>
<polygon points="75.5,1730.9 75.5,1691.5 89,1685.4 98.9,1681.4 99.5,1681.1 100,1680.8 100.6,1680.4 115.7,1668.7 129.1,1661.2 150.2,1653.8 150.9,1653.5 151.5,1653.2 152.1,1652.8 168.2,1640.7 182.4,1630 185.5,1630 186.8,1642.5 181.8,1658.6 167.5,1669.3 167,1669.8 166.5,1670.2 166.1,1670.8 165.7,1671.4 165.4,1672 165.1,1672.6 164.9,1673.3 161.6,1687.2 149.4,1697.9 148.9,1698.3 148.5,1698.8 148.1,1699.3 141.2,1710.1 124.2,1720.9 123.6,1721.3 123.1,1721.7 113.4,1730.9" fill="#3e26a8" stroke="#3e26a8" stroke-width="3" stroke-linejoin="round"/>
<path class="d" d="M70.5 1737.5h0m-2-2h0m1-0.5h0m1.5-3h0m-2-1h0m1.5-2h0m0.5-0.5h0m-0.5-1.5h0m-2-0.5h0m2-2.5h0m0 0h0m-1-1.5h0m-0.5 0h0m0.5-1h0m-0.5-2h0m0.5-2h0m1-4.5h0m0-1h0m-1.5-1.5h0m1.5-0.5h0m-1-0.5h0m-1 0h0m2 0h0m-1.5-1h0m1.5-0.5h0m-0.5 0h0m1 0h0m0.5-2h0m-3 0h0m1-0.5h0m0-3h0m1-0.5h0m1-0.5h0m-2-3h0m0.5-3.5h0m0.5-3h0m0-0.5h0m-2-4h0m2.5-11.5h0m4.5 62h0m-3.5 0h0m0.5-1.5h0m0-0.5h0m2-0.5h0m-2.5-1h0m0.5-0.5h0m1-0.5h0m3-1.5h0m-2.5-1h0m2.5 0h0m-3.5-1h0m4.5-1.5h0m-4.5-1.5h0m-1-1.5h0m0.5-0.5h0m4.5 0h0m-2.5-0.5h0m0.5 0h0m0.5-2h0m0.5-0.5h0m-3-0.5h0m1-2.5h0m-2.5-0.5h0m2-0.5h0m0 0h0m-1-1h0m0.5-0.5h0m-0.5-0.5h0m2-0.5h0m-2-0.5h0m2.5-0.5h0m2 0h0m-2 0h0m-3 0h0m3.5-2.5h0m1-1h0m-2.5-0.5h0m0-0.5h0m1-0.5h0m-3.5-1h0m2-0.5h0m3.5-0.5h0m-0.5 0h0m0 0h0m-0.5-0.5h0m0.5 0h0m-4.5-0.5h0m2-1h0m2.5-2.5h0m-4.5-1h0m4.5-1h0m-2 0h0m-2.5-0.5h0m3.5-4h0m-1-1h0m2.5-1h0m0.5-1h0m-3.5-0.5h0m-2.5-1h0m5-1.5h0m-2 0h0m2.5-0.5h0m-4.5-0.5h0m3.5 0h0m-1-0.5h0m1-1h0m-2-1h0m-0.5 0h0m-1 0h0m-1-0.5h0m0 0h0m1-2h0m3-0.5h0m6.5 54h0m-1-0.5h0m-2.5 0h0m4-1h0m-1 0h0m1 0h0m-5-1h0m3.5-0.5h0m0 0h0m1 0h0m-3.5-1h0m4 0h0m-1 0h0m-0.5-0.5h0m-2.5-0.5h0m2.5-0.5h0m0-0.5h0m2.5-0.5h0m-2-1.5h0m1-0.5h0m-1 0h0m-2.5-0.5h0m4 0h0m-4-0.5h0m0.5 0h0m-1.5-14h0m-0.5-6.5h0m0-3.5h0m0-3.5h0m3-10h0m1.5-1h0m-4 0h0m1.5-0.5h0m0.5 0h0m1.5-1.5h0m-1-1h0m1.5-1.5h0m-2.5-1h0m-0.5 0h0m4-1.5h0m-4-1h0m-1-0.5h0m5-3h0m-3-9h0m4.5 68.5h0m1.5 0h0m2-0.5h0m-1-0.5h0m-1.5 0h0m-1.5-0.5h0m-0.5-1.5h0m5 0h0m-3-2.5h0m-1.5-1h0m2.5 0h0m0-1h0m3-0.5h0m-5-0.5h0m4.5 0h0m-1 0h0m0-1h0m-3.5-39.5h0m-1-1h0m1-0.5h0m1-0.5h0m2.5 0h0m0.5-0.5h0m-2.5-1h0m3-0.5h0m-3.5 0h0m-2-0.5h0m2-2h0m0.5-3h0m-2 0h0m5-1h0m-3.5 0h0m0.5-3h0m1-0.5h0m0.5-7h0m-2.5-9h0m4-1h0m-1.5-6h0m6 85h0m0.5 0h0m-1.5-0.5h0m-2 0h0m-0.5-0.5h0m3 0h0m1-0.5h0m-2-2.5h0m-1-0.5h0m4-1h0m-0.5-1.5h0m-4-0.5h0m4.5 0h0m-3 0h0m0-42.5h0m0-1h0m-1-0.5h0m-0.5 0h0m4-1.5h0m-3.5-0.5h0m3-1.5h0m-2-0.5h0m0-0.5h0m3.5-1.5h0m-3-1.5h0m1.5 0h0m-4 0h0m5-1h0m0 0h0m-2.5-2h0m-1-2.5h0m-0.5-1h0m-1-1h0m2 0h0m3-10h0m-3-9.5h0m1-1.5h0m2-8.5h0m-5-0.5h0m10 97.5h0m-2.5-0.5h0m2.5-0.5h0m-3.5-0.5h0m2.5-1h0m-2-0.5h0m0.5-2h0m-1-1.5h0m4-0.5h0m0.5 0h0m-2-1.5h0m-2.5 0h0m1-0.5h0m0-44.5h0m1-1h0m-2-0.5h0m-1-2h0m1 0h0m-1-3.5h0m0.5-2h0m4-0.5h0m1-0.5h0m-5-0.5h0m5-2h0m-5 0h0m2-1.5h0m1-7h0m2-1.5h0m-1.5-12h0m-1.5-12h0m1-4h0m0-6.5h0m4.5 109h0m3-0.5h0m-5 0h0m5.5 0h0m0-3h0m-2.5 0h0m2 0h0m-1.5 0h0m2.5-0.5h0m-4.5 0h0m0.5-1.5h0m-1.5-1.5h0m1.5 0h0m2.5-0.5h0m-4 0h0m0-49h0m1 0h0m3.5-1.5h0m-2-1.5h0m0.5-1h0m-1-0.5h0m-1-0.5h0m3-0.5h0m1 0h0m-4.5 0h0m-0.5-0.5h0m3 0h0m1-0.5h0m1-2h0m-3.5-1h0m0.5-1.5h0m2-1h0m-2-1.5h0m3.5 0h0m-3.5 0h0m-0.5 0h0m-0.5-1.5h0m4 0h0m-2-2h0m-3-6.5h0m5.5-7.5h0m-2.5-3.5h0m-2.5-1.5h0m-0.5-1h0m6.5 94.5h0m-0.5-2h0m2 0h0m2.5 0h0m-2.5-0.5h0m2.5-0.5h0m-4-0.5h0m3.5-1.5h0m-2-1h0m1 0h0m1 0h0m-1.5 0h0m-1.5-2h0m3-0.5h0m1.5 0h0m-4-0.5h0m-1-52.5h0m-0.5-0.5h0m3-0.5h0m-3-0.5h0m1-1.5h0m4.5-0.5h0m-2-2h0m1.5-1.5h0m-0.5-3h0m-4 0h0m0 0h0m0 0h0m0-0.5h0m3.5-2h0m-2.5-1h0m3.5-2.5h0m-0.5-0.5h0m-3.5-2h0m1.5-0.5h0m2-3h0m0-42.5h0m0-16.5h0m4 142.5h0m0.5-0.5h0m-0.5-0.5h0m-1 0h0m-0.5-1h0m1.5 0h0m2.5-1h0m-2 0h0m-1-0.5h0m-1.5 0h0m2-0.5h0m-1.5-1h0m1.5-0.5h0m-0.5-1h0m2.5-0.5h0m-2.5-1.5h0m2-1h0m-4-0.5h0m1-0.5h0m0 0h0m2.5-0.5h0m-3.5-54h0m1-1h0m-0.5-0.5h0m2.5-0.5h0m-2-0.5h0m3.5-0.5h0m-4-1h0m2.5-0.5h0m2 0h0m-3-4h0m-1.5-0.5h0m5-1.5h0m-1-0.5h0m0.5-2h0m-3-0.5h0m2.5-0.5h0m-1 0h0m-3.5-1.5h0m3-0.5h0m0.5-8h0m-0.5-1h0m3.5 88h0m4.5-1h0m-3-2h0m0-0.5h0m-2.5 0h0m5-1.5h0m0-1.5h0m-3 0h0m-0.5-0.5h0m3.5-1h0m-4.5 0h0m5.5 0h0m-3.5-0.5h0m-0.5-0.5h0m-0.5-4.5h0m3-0.5h0m-1.5-54h0m2-2.5h0m-4.5 0h0m3.5-1.5h0m2-2h0m-2.5-1h0m-0.5 0h0m-3-0.5h0m3-0.5h0m-0.5-0.5h0m1-1.5h0m-0.5-0.5h0m-1-0.5h0m3-0.5h0m-0.5-6h0m0-10.5h0m1.5-9h0m0 98.5h0m0-0.5h0m1.5-1h0m3.5-0.5h0m-3-1.5h0m-2 0h0m4.5-1h0m-1-0.5h0m1.5-0.5h0m-2 0h0m1-0.5h0m1-1h0m0-0.5h0m-2-0.5h0m2.5-1h0m0-0.5h0m-4.5 0h0m0.5-0.5h0m3-0.5h0m-3-0.5h0m-0.5 0h0m3.5-1h0m0-0.5h0m1-0.5h0m-1.5-0.5h0m1-1h0m-3-50h0m-0.5-1h0m2-2.5h0m-2.5 0h0m2.5-0.5h0m-1-1.5h0m-1-1h0m2.5-0.5h0m0 0h0m0-0.5h0m-2.5-1h0m2.5 0h0m1-4h0m-1.5-2h0m-1-1h0m3-1h0m-1-9.5h0m-3-1.5h0m3-1.5h0m7 95.5h0m-4 0h0m-1.5 0h0m5-3.5h0m-3.5-1h0m4 0h0m-4-4.5h0m2.5-2.5h0m1.5-0.5h0m-5-0.5h0m1.5-0.5h0m0-0.5h0m1.5-0.5h0m0-0.5h0m0-1.5h0m2.5-0.5h0m-2 0h0m-0.5-0.5h0m-0.5-1.5h0m-2-51h0m0-0.5h0m0-0.5h0m-0.5-0.5h0m5-0.5h0m-2.5-0.5h0m-1.5-0.5h0m0.5-0.5h0m3.5 0h0m-2.5-1h0m-1-0.5h0m-2 0h0m0 0h0m0.5-0.5h0m0-0.5h0m4.5-0.5h0m-5 0h0m2-1.5h0m1.5-1h0m1-2h0m-3.5-5.5h0m0.5-1.5h0m0 0h0m2-1.5h0m-3.5-1h0m3.5-3h0m0.5-18h0m0.5-3h0m-0.5-4h0m1.5-12.5h0m0.5-24h0m0.5 157h0m0.5-8.5h0m-1-2.5h0m0.5-1.5h0m-0.5-1h0m3-0.5h0m0.5-1h0m-1-1h0m3-2h0m-5-3.5h0m2.5-1h0m0-1.5h0m2.5 0h0m-2-1.5h0m1-2.5h0m0.5-1.5h0m-2-44.5h0m-1 0h0m3-0.5h0m-1 0h0m0.5-0.5h0m-3-0.5h0m4 0h0m-5-1.5h0m1.5 0h0m2.5-0.5h0m0 0h0m-1.5-0.5h0m1.5 0h0m-1.5 0h0m-2.5-0.5h0m0.5 0h0m2.5-0.5h0m-2.5-1h0m2.5-4.5h0m-0.5-1.5h0m-3-2h0m6-2h0m-4.5-1h0m-1-4h0m-0.5 0h0m4.5-9.5h0m-3-12h0m3.5 0h0m3 116.5h0m0.5-15h0m-2-2h0m3-1.5h0m-2-3h0m2 0h0m-3 0h0m2.5 0h0m-1-0.5h0m-1.5-0.5h0m1.5-0.5h0m-2 0h0m1-1h0m4.5-2.5h0m0 0h0m-4-0.5h0m4-0.5h0m-0.5-1h0m0 0h0m-0.5-0.5h0m-4-0.5h0m0.5-1h0m1.5 0h0m1.5 0h0m-2 0h0m4-0.5h0m-1.5 0h0m-1.5-1h0m1-1h0m-2-1h0m2.5-2h0m1.5-2.5h0m-1-38.5h0m0.5-0.5h0m-1-0.5h0m-0.5-0.5h0m0.5-0.5h0m0-1h0m0.5-1h0m0.5 0h0m-5-1h0m0-0.5h0m5 0h0m-3 0h0m1-0.5h0m-2.5 0h0m1 0h0m-1-0.5h0m1.5-1h0m3.5-0.5h0m-1.5-0.5h0m-2.5-1.5h0m2.5-3h0m1.5-1h0m-5.5-4.5h0m1-7h0m3.5-1h0m-3.5-2.5h0m2.5-11h0m-1-3h0m-1-7.5h0m-0.5-3.5h0m1.5-20.5h0m7.5 146.5h0m0.5-9h0m-2.5-3.5h0m-2.5-1h0m0.5-0.5h0m4-3h0m-4.5-4.5h0m2-1h0m3-2h0m-0.5-0.5h0m0.5 0h0m-4-0.5h0m-1 0h0m0.5-0.5h0m0-0.5h0m2-2.5h0m0 0h0m-0.5-0.5h0m1-1h0m-0.5-1h0m2.5-0.5h0m-1-2h0m0.5-1.5h0m0.5-40h0m-2-0.5h0m2.5-2h0m0-0.5h0m-4-0.5h0m2-1h0m-3-0.5h0m4 0h0m-3-1h0m4-1h0m-5.5-1h0m3.5-0.5h0m-2-0.5h0m-1.5 0h0m2-1.5h0m-1 0h0m2-0.5h0m0.5-0.5h0m0.5-1.5h0m-0.5-1h0m2-1h0m0.5-0.5h0m-3.5 0h0m1-2h0m-0.5-0.5h0m-1.5-48h0m5.5 138.5h0m-0.5-7h0m3-9.5h0m-3-1.5h0m2-0.5h0m3.5 0h0m-4.5-2h0m-1.5-2.5h0m5-1.5h0m-4 0h0m0-0.5h0m1.5 0h0m3-0.5h0m-1.5-1h0m1.5 0h0m-2-1h0m0-1h0m1.5-0.5h0m-2.5 0h0m1 0h0m2-0.5h0m0-2h0m-0.5-0.5h0m0-1h0m-3-2.5h0m-0.5-1h0m4-1.5h0m-3.5-37h0m0-0.5h0m1 0h0m0.5-0.5h0m-3.5 0h0m3.5 0h0m-1.5-0.5h0m3.5-1.5h0m-1.5-1h0m-0.5-0.5h0m-2.5 0h0m0.5-3.5h0m0-1.5h0m3-1h0m-0.5 0h0m-0.5-2h0m-1-0.5h0m2.5-4h0m-1.5-2h0m-1.5-1h0m0-3h0m1.5-1.5h0m2-7h0m0-3h0m0-0.5h0m-2-25.5h0m6 134.5h0m1-0.5h0m-2-2h0m2-4h0m-2.5-12h0m1.5-1h0m-3.5-2.5h0m0.5-0.5h0m1.5-2.5h0m-1.5-2.5h0m3.5-1.5h0m-2.5-1h0m0-1.5h0m2-0.5h0m2-0.5h0m-4.5-1.5h0m5-2h0m-0.5-0.5h0m-1 0h0m-1.5 0h0m0.5-1h0m-1.5 0h0m3 0h0m-3-2h0m-2 0h0m3 0h0m-1-0.5h0m2.5-0.5h0m-2.5-0.5h0m1.5-0.5h0m0 0h0m-0.5-2.5h0m-1 0h0m-1-1h0m2.5-0.5h0m0.5 0h0m-3.5-4h0m5-0.5h0m-4-0.5h0m1.5-2h0m1.5-1h0m0.5-2.5h0m-5-21h0m2.5-2.5h0m-1 0h0m-1-3h0m4-1.5h0m-2.5-0.5h0m0.5 0h0m-2-2h0m0-0.5h0m2-1.5h0m3-0.5h0m-5.5-0.5h0m3 0h0m2-1.5h0m-4 0h0m4.5-0.5h0m-3-1h0m1-0.5h0m-1-7.5h0m-1-14h0m0-9.5h0m5.5 108h0m1-0.5h0m0-1.5h0m2.5-3.5h0m-1-3.5h0m1.5-5h0m-2-2h0m2 0h0m-3.5-0.5h0m-0.5-2.5h0m-0.5 0h0m2.5 0h0m-2-1h0m-0.5-1.5h0m1-2.5h0m2-0.5h0m0.5-0.5h0m-1-2h0m-1-1h0m2-0.5h0m-2.5-0.5h0m0-0.5h0m-0.5-2h0m-0.5-1.5h0m0-0.5h0m5.5-0.5h0m-1.5-1h0m-1 0h0m2.5-1h0m-0.5-0.5h0m-5-2h0m0.5 0h0m4.5 0h0m-4.5-0.5h0m4.5 0h0m0.5-1h0m0-0.5h0m-0.5-1.5h0m-5 0h0m0.5 0h0m0-0.5h0m3-2h0m2-2h0m-2-21h0m-1.5 0h0m1-1h0m-0.5 0h0m-2.5-0.5h0m3.5-0.5h0m-3.5-1h0m1.5 0h0m2-1h0m0.5-0.5h0m-0.5-1h0m0 0h0m1.5-1h0m-1.5-2.5h0m-3-1h0m4-1h0m-2.5-0.5h0m-0.5 0h0m0.5-0.5h0m-1-0.5h0m0.5-1h0m1.5 0h0m1.5-1h0m-1.5-2h0m2-4.5h0m-1-12h0m-2.5-3.5h0m-1.5-4.5h0m7 121.5h0m2-21.5h0m1-0.5h0m-0.5-3h0m0.5-4.5h0m-2-5.5h0m-2-0.5h0m4-6.5h0m0.5 0h0m-1.5-1h0m-2-2h0m-1-0.5h0m0.5-0.5h0m-0.5-1h0m0-1h0m0.5 0h0m3-3.5h0m-1-2h0m-2.5 0h0m5 0h0m-3.5-0.5h0m0-0.5h0m3-0.5h0m-1-1h0m-0.5-0.5h0m-3.5-1h0m5 0h0m-2-1h0m-1.5 0h0m1.5 0h0m-0.5-0.5h0m1.5-0.5h0m1-1h0m0.5-1h0m-1.5-0.5h0m-3-23h0m0-0.5h0m4-0.5h0m1-1.5h0m-5 0h0m3.5-2.5h0m1-0.5h0m0 0h0m-3-0.5h0m-0.5-0.5h0m0-1.5h0m1.5 0h0m0-2h0m-2-0.5h0m2.5-6h0m0-0.5h0m-1.5-6h0m2-16.5h0m3.5 111h0m1-10h0m-1.5-3h0m3-0.5h0m-0.5-6.5h0m1.5-3.5h0m-0.5-4h0m-1.5-2.5h0m-0.5-3.5h0m-1.5-2.5h0m2.5 0h0m-2.5-0.5h0m-1-3.5h0m1.5-3h0m0.5-1.5h0m1.5-1h0m2 0h0m-0.5-0.5h0m-5-1h0m4-0.5h0m-0.5 0h0m-3-1h0m4.5 0h0m-2.5-0.5h0m2.5-0.5h0m-5-0.5h0m1-0.5h0m2-0.5h0m-1-2h0m1.5-3.5h0m1-0.5h0m0-0.5h0m0.5 0h0m-1-1.5h0m0.5-0.5h0m1-11h0m-1.5-2.5h0m-0.5-0.5h0m1.5-0.5h0m-5.5 0h0m5.5-0.5h0m-1.5-1.5h0m1.5-1.5h0m-4.5-1.5h0m3-0.5h0m0-1h0m-1 0h0m-0.5-0.5h0m-1-0.5h0m4 0h0m-4.5-0.5h0m3-1h0m1 0h0m-1-1h0m-2.5-0.5h0m4-5h0m-1-2.5h0m-4 0h0m2.5-3h0m-2.5-13h0m11.5 100h0m-5.5-9.5h0m0-14.5h0m3-1h0m1.5-1h0m-4.5-0.5h0m2-8h0m0.5-1h0m-2-1h0m-0.5-0.5h0m-0.5-1h0m2 0h0m-2-0.5h0m0 0h0m4.5-3h0m-2 0h0m-0.5-1.5h0m1-0.5h0m1-0.5h0m-2-1.5h0m0 0h0m0-0.5h0m2.5-0.5h0m-0.5-1.5h0m-1.5-1h0m2.5-1.5h0m-4-1.5h0m2.5 0h0m-1.5-2h0m3-0.5h0m-3-0.5h0m0.5-1h0m0 0h0m2.5-1.5h0m-5-0.5h0m4.5-1.5h0m0-0.5h0m0.5-0.5h0m-2-1.5h0m3-0.5h0m-1 0h0m-4.5-0.5h0m3.5 0h0m-3.5-0.5h0m5-1.5h0m-4.5-0.5h0m4.5-1h0m-4.5-0.5h0m3.5-0.5h0m1.5-1h0m-5.5-1.5h0m4 0h0m0.5 0h0m-3-0.5h0m-2-0.5h0m1.5-0.5h0m0-1h0m4 0h0m-2.5-0.5h0m-2.5-1h0m2.5 0h0m-2.5-0.5h0m0.5-1h0m1.5 0h0m2-1h0m0-1.5h0m-0.5 0h0m2 0h0m-4.5-1.5h0m0.5 0h0m-1.5-0.5h0m2 0h0m1.5-3h0m2-4h0m3 108h0m-2-5h0m2-1.5h0m0-4.5h0m-2-3.5h0m0-0.5h0m0.5-5h0m3.5-12.5h0m0.5-1.5h0m-2-13.5h0m-3-1.5h0m4.5-0.5h0m-4-2.5h0m5-2h0m-1-0.5h0m-3-4h0m1-2.5h0m1-1.5h0m-0.5-2h0m0.5-0.5h0m0-2.5h0m0.5-1h0m-3.5-1.5h0m2.5 0h0m-3-0.5h0m0-1.5h0m5-1.5h0m-2.5-0.5h0m0-0.5h0m1-2h0m-1-0.5h0m-2.5-1.5h0m0.5-1h0m-0.5 0h0m1.5-0.5h0m-1 0h0m-1-3h0m3-0.5h0m-1.5-1h0m1.5 0h0m0-4.5h0m-0.5-0.5h0m2.5 0h0m-2.5 0h0m0.5-0.5h0m-2.5-0.5h0m4-0.5h0m1.5 0h0m-0.5-1.5h0m-5-4h0m2-1.5h0m-2 0h0m4-0.5h0m1-0.5h0m-2-2.5h0m-1.5-0.5h0m3.5-0.5h0m-2.5-1.5h0m2-0.5h0m0-5.5h0m-0.5-5.5h0m-1-7h0m0.5-1h0m-1.5-10h0m-0.5-12.5h0m4-38h0m1.5 129.5h0m-1-2h0m5.5-14h0m-4-7h0m1.5-2h0m-0.5-3.5h0m-2.5-1.5h0m4-0.5h0m-3.5 0h0m0-2h0m4.5-1h0m-2.5-1.5h0m-1.5-0.5h0m-1-5.5h0m1-0.5h0m3 0h0m1.5 0h0m-3-0.5h0m-3-2.5h0m2.5-1h0m-1-0.5h0m3.5-1.5h0m-1-0.5h0m-1-0.5h0m-0.5-5.5h0m3.5-3h0m-5.5-8.5h0m4.5-1.5h0m-2.5-0.5h0m1.5-7h0m-0.5-1h0m0-18.5h0m-3.5-32.5h0m11 164h0m-4-33h0m0.5 0h0m0.5-11.5h0m0.5-7h0m-2-14.5h0m4.5-2h0m-3-1.5h0m-0.5-6.5h0m1.5-2.5h0m-2-2h0m-0.5-2h0m1-2h0m-0.5-1.5h0m0-3h0m1.5-1h0m-1 0h0m0-0.5h0m0-1h0m-1-4.5h0m5-8h0m0-1h0m-3.5-6.5h0m-1-8.5h0m3-9.5h0m4 143.5h0m0.5-19.5h0m-2.5-9.5h0m4-4h0m-2.5-0.5h0m3.5-5h0m-4.5-12h0m2-1h0m2.5-5h0m0.5-16h0m-2.5-9h0m-1.5-11h0m3-0.5h0m1-6.5h0m0-1.5h0m-3.5-1.5h0m1-3h0m2-1h0m-3.5-0.5h0m-1.5-2h0m5.5-2.5h0m-1.5-1h0m-4-1h0m4 0h0m1.5-1h0m-4.5-1.5h0m3.5-16.5h0m-4-9.5h0m3-1.5h0m5.5 111.5h0m-2.5-4.5h0m4.5-14h0m-3.5-6.5h0m2-3h0m-1-3.5h0m-1.5-9h0m0-32h0m2.5-2.5h0m0.5-2.5h0m-3-5.5h0m1 0h0m2-1h0m1.5 0h0m-2.5-0.5h0m2-5.5h0m-3-1.5h0m3.5-0.5h0m-5.5-4h0m5.5-3h0m0.5-15h0m6 113h0m-4.5-3.5h0m1-8h0m3.5-4h0m-1-13h0m-3-4h0m1.5-2h0m-1.5-5h0m3-10h0m0-10h0m-3-14.5h0m-1-4.5h0m-0.5-8h0m0.5-5h0m2.5-5.5h0m-0.5-21h0m1-0.5h0m-2-15h0m5.5 148.5h0m3-7h0m-3.5-44.5h0m4-3h0m-3.5-1.5h0m0-9.5h0m4 0h0m0-24h0m-3-5.5h0m-2.5-9h0m1-4.5h0m0.5-12.5h0m2.5-2h0m-1.5-9.5h0m1.5-18h0m3.5 131h0m0.5-18.5h0m3.5-32.5h0m-2-1.5h0m-2.5-8h0m5-0.5h0m-2.5-31h0m0-1h0m-1-12.5h0m4.5 104.5h0m3-7.5h0m2-5.5h0m-4.5-21.5h0m1-19h0m-1-2h0m4.5-5h0m-2-7.5h0m-2.5-1.5h0m0-18.5h0m0-0.5h0m3-5h0m-1.5 0h0m-1-2h0m3-2h0m1-3h0m-5.5-1h0m5.5-4h0m2.5 111.5h0m1.5-21h0m-3-57h0m2-14h0m0-8h0m0.5-2h0m2.5-4h0m-4-3h0m3-2h0m0-3h0m-0.5-1h0m-4.5-2.5h0m2.5-8h0m6.5 85h0m-1.5-41.5h0m-0.5-9h0m4.5-1.5h0m-0.5-5.5h0m-3.5-14h0m-1-2h0m2-2.5h0m-1.5 0h0m-0.5-4.5h0m9.5 111.5h0m-1-47.5h0m-1-11.5h0m-1.5-5h0m2-0.5h0m-0.5-5h0m2.5-6h0m-1-2.5h0m-0.5-16.5h0m-2.5-1h0m2.5-3.5h0m3-5.5h0m-4.5 0h0m0.5-3h0m-1-2h0m4-1h0m-4-1h0m1-0.5h0m9 93.5h0m-2.5-36h0m-1-11.5h0m0-12h0m7 44h0m0-43h0m-1-3.5h0m4-37.5h0m4 99h0m8.5-71h0m-3.5-35h0m5.5 110h0m-1.5-68.5h0m1-15h0m-1-30h0m1-6.5h0m18-8h0m5 38h0m0-16.5h0m15.5 27.5h0m-2.5-43h0m10 22h0m0-10h0m0-34h0m4.5 28h0m-3-58.5h0m9 66h0m-1.5-0.5h0"/>
<clipPath id="clip-e"><rect x="65.7" y="1537.9" width="200" height="202.8"/></clipPath>
<g clip-path="url(#clip-e)"><g filter="url(#bl2)"><ellipse cx="93.5" cy="1715.2" rx="33.8" ry="5" fill="#473fe3" opacity="1" transform="rotate(-42.2 93.5 1715.2)"/><ellipse cx="83.5" cy="1724.3" rx="21.6" ry="5.5" fill="#4755f6" opacity="0.95" transform="rotate(-42.2 83.5 1724.3)"/><circle cx="68.5" cy="1737.9" r="22" fill="#484aee" opacity="0.85"/><circle cx="68.5" cy="1737.9" r="17.8" fill="#475cfa" opacity="0.9"/></g><g filter="url(#bl)"><circle cx="68.5" cy="1737.9" r="17" fill="#3876fe" opacity="1"/><circle cx="68.5" cy="1737.9" r="14.8" fill="#15afd9" opacity="1"/><circle cx="68.5" cy="1737.9" r="13.2" fill="#48cb86" opacity="1"/><circle cx="68.5" cy="1737.9" r="11.8" fill="#c1c32d" opacity="1"/><circle cx="68.5" cy="1737.9" r="10.4" fill="#fec437" opacity="1"/><ellipse cx="73" cy="1733.8" rx="8.8" ry="5.9" fill="#f6e028" opacity="1" transform="rotate(-42.2 73 1733.8)"/></g></g>
<line x1="68.5" y1="1737.9" x2="346.1" y2="1486" stroke="#e8141c" stroke-opacity="0.84" stroke-width="2"/>
<text class="tk" x="68" y="1763.8" text-anchor="middle">0</text><text class="tk" x="59.3" y="1745.1" text-anchor="end">0</text>
<text class="tk" x="123.5" y="1763.8" text-anchor="middle">100</text><text class="tk" x="59.3" y="1694.7" text-anchor="end">100</text>
<text class="tk" x="179" y="1763.8" text-anchor="middle">200</text><text class="tk" x="59.3" y="1644.3" text-anchor="end">200</text>
<text class="tk" x="234.5" y="1763.8" text-anchor="middle">300</text><text class="tk" x="59.3" y="1593.9" text-anchor="end">300</text>
<text class="tk" x="290" y="1763.8" text-anchor="middle">400</text><text class="tk" x="59.3" y="1543.5" text-anchor="end">400</text>
<text class="tk" x="345.6" y="1763.8" text-anchor="middle">500</text><text class="tk" x="59.3" y="1493.2" text-anchor="end">500</text>
<text class="tk" x="401.1" y="1763.8" text-anchor="middle">600</text><text class="tk" x="59.3" y="1442.8" text-anchor="end">600</text>
<text class="tk" x="456.6" y="1763.8" text-anchor="middle">700</text><text class="tk" x="59.3" y="1392.4" text-anchor="end">700</text>
<text class="tk" x="512.1" y="1763.8" text-anchor="middle">800</text><text class="tk" x="59.3" y="1342" text-anchor="end">800</text>
<text class="tk" x="567.6" y="1763.8" text-anchor="middle">900</text><text class="tk" x="59.3" y="1291.6" text-anchor="end">900</text>
<text class="lb" x="318.3" y="1790.1" text-anchor="middle">PM2.5 observations</text>
<text class="lb" transform="translate(20.8 1511.2) rotate(-90)" text-anchor="middle">PM2.5 estimations</text>
<text class="an" x="98.7" y="1329.4">N = 67205</text>
<text class="an" x="98.7" y="1366.7">R<tspan dy="-9" font-size="16">2</tspan><tspan dy="9"> = 0.83</tspan></text>
<text class="an" x="98.7" y="1404">RMSE = 13.49 µg/m<tspan dy="-9" font-size="16">3</tspan></text>
<rect x="598.5" y="1284.4" width="27" height="453.5" fill="url(#par)" stroke="#222" stroke-opacity="0.6" stroke-width="1.3"/>
<path d="M625.5 1692.6h-3.3M625.5 1647.2h-3.3M625.5 1601.9h-3.3M625.5 1556.5h-3.3M625.5 1511.2h-3.3M625.5 1465.8h-3.3M625.5 1420.5h-3.3M625.5 1375.1h-3.3M625.5 1329.8h-3.3" stroke="#333" stroke-opacity="0.7" stroke-width="1.4" fill="none"/>
<text class="cb" x="632.5" y="1744.2">0</text><text class="cb" x="632.5" y="1698.9">0.1</text><text class="cb" x="632.5" y="1653.5">0.2</text><text class="cb" x="632.5" y="1608.2">0.3</text><text class="cb" x="632.5" y="1562.8">0.4</text><text class="cb" x="632.5" y="1517.5">0.5</text><text class="cb" x="632.5" y="1472.1">0.6</text><text class="cb" x="632.5" y="1426.8">0.7</text><text class="cb" x="632.5" y="1381.4">0.8</text><text class="cb" x="632.5" y="1336">0.9</text><text class="cb" x="632.5" y="1290.7">1</text>
</g>
<g id="panel-f">
<text class="t" x="1118.6" y="1249.9" text-anchor="middle">(f) Estimation results after repair, 2019</text>
<path class="ax" d="M834.7 1284.4V1737.9H1334.3M890.2 1737.9v-3.3M834.7 1687.5h3.3M945.7 1737.9v-3.3M834.7 1637.1h3.3M1001.2 1737.9v-3.3M834.7 1586.7h3.3M1056.7 1737.9v-3.3M834.7 1536.3h3.3M1112.3 1737.9v-3.3M834.7 1486h3.3M1167.8 1737.9v-3.3M834.7 1435.6h3.3M1223.3 1737.9v-3.3M834.7 1385.2h3.3M1278.8 1737.9v-3.3M834.7 1334.8h3.3M1334.3 1737.9v-3.3M834.7 1284.4h3.3"/>
<polygon points="841.7,1730.9 841.7,1695.3 853.5,1689.2 854.1,1688.8 854.7,1688.4 855.2,1687.9 864,1679 880.3,1673.5 880.9,1673.2 881.5,1672.9 882.1,1672.6 882.6,1672.1 895.4,1660.9 916.3,1653.8 917.2,1653.5 933.3,1645.4 933.9,1645.1 934.5,1644.7 949.1,1633.3 952.9,1632 954.6,1638.9 949.5,1655.1 940.9,1663.7 929.5,1673.6 929,1674.2 928.5,1674.7 928.1,1675.3 927.7,1675.9 927.5,1676.6 927.3,1677.3 924,1690.8 911.7,1699.4 911.1,1699.9 910.6,1700.4 910.1,1701 900.8,1713.7 887.8,1723.2 887.2,1723.6 879.2,1730.9" fill="#3e26a8" stroke="#3e26a8" stroke-width="3" stroke-linejoin="round"/>
<path class="d" d="M836.5 1736.5h0m0.5 0h0m-0.5-0.5h0m-1.5-2h0m0-1h0m0-2h0m0.5-1h0m1.5-4h0m-0.5 0h0m-1.5-1h0m1.5-3h0m-1.5 0h0m0.5-0.5h0m-0.5-0.5h0m0.5-1h0m0-2.5h0m2 0h0m-0.5-0.5h0m-1-0.5h0m1-2h0m-2 0h0m2-1h0m-0.5-1.5h0m1-2h0m-1-1h0m-1.5-1h0m2.5-0.5h0m-2-1.5h0m-0.5-1h0m0.5-1h0m2-2.5h0m-2.5-3h0m2-3.5h0m-0.5-1h0m0-1h0m0.5-7h0m-1-46h0m3.5 97h0m-0.5-1h0m4.5 0h0m-3-2.5h0m1-2.5h0m1.5-1.5h0m-1-2.5h0m-4-0.5h0m4-2.5h0m-1.5 0h0m-2.5-2.5h0m2.5-2h0m1-0.5h0m-3-0.5h0m1.5-0.5h0m-1.5-3.5h0m4.5-0.5h0m0 0h0m-5 0h0m3.5-0.5h0m-2.5-0.5h0m-0.5-0.5h0m3.5 0h0m-4.5 0h0m2-1h0m-0.5-0.5h0m3.5-1h0m-3-0.5h0m3-0.5h0m-1-1h0m-1.5-1.5h0m0-1h0m0 0h0m0.5-0.5h0m-1-0.5h0m3.5 0h0m-5-1.5h0m3.5-1h0m-2-0.5h0m2-0.5h0m-2 0h0m3.5-0.5h0m-4.5-1.5h0m0.5 0h0m4-1h0m-4.5 0h0m1.5 0h0m-1.5-0.5h0m0 0h0m5-1.5h0m0-1h0m-0.5-0.5h0m-1-1.5h0m-2-0.5h0m1.5 0h0m0-0.5h0m0-1.5h0m2-10h0m-0.5-5.5h0m-1.5-6.5h0m-2.5-9.5h0m8 77.5h0m-2-0.5h0m4.5 0h0m-2-0.5h0m-2-0.5h0m2.5-0.5h0m-3.5-1h0m0-1.5h0m4.5-0.5h0m0.5-0.5h0m-5 0h0m3-0.5h0m-3.5-11h0m0 0h0m0-4h0m0-4.5h0m0-2h0m0-4h0m0-2.5h0m0-3h0m0-5h0m2-2h0m0.5-2h0m0-1h0m1-1.5h0m1-0.5h0m-2-1h0m-3 0h0m0.5-1h0m2.5-0.5h0m1.5-0.5h0m-3.5-1.5h0m2.5 0h0m-3-2.5h0m3.5-1.5h0m1-5.5h0m5 64h0m-3-0.5h0m4.5-0.5h0m-3.5-2.5h0m2-1h0m-2.5-0.5h0m0 0h0m-1-1h0m5.5 0h0m-5.5-0.5h0m5-0.5h0m0-0.5h0m-2-0.5h0m-3-0.5h0m1.5-36.5h0m0-1h0m0.5-2.5h0m1.5-0.5h0m-0.5 0h0m-3-0.5h0m0.5-1h0m2 0h0m-2.5-2h0m2.5-1h0m-1 0h0m3.5 0h0m-2.5-2.5h0m2 0h0m-3.5-1.5h0m1-3h0m3-7.5h0m-4.5-2.5h0m2.5-6h0m8 75.5h0m-1-0.5h0m-1 0h0m-3 0h0m1 0h0m-0.5-0.5h0m0.5-2h0m4.5-2.5h0m-0.5 0h0m0.5-1h0m-1-0.5h0m0.5 0h0m-4-40.5h0m1-3h0m-1 0h0m-0.5-1h0m1 0h0m1.5-1.5h0m-1.5-0.5h0m2.5 0h0m-4-0.5h0m4-0.5h0m-3-1h0m2.5 0h0m1-0.5h0m-1-1h0m-3-0.5h0m1 0h0m-1.5-1h0m2 0h0m2-0.5h0m-2-0.5h0m-2-0.5h0m3-0.5h0m0.5-1.5h0m-2-5h0m3.5-9h0m3 76.5h0m0.5 0h0m1.5-0.5h0m1.5 0h0m-5-1h0m4-0.5h0m-0.5-0.5h0m-2-1h0m0.5-0.5h0m2.5-1.5h0m-3 0h0m2-1h0m1.5-52h0m-0.5-1.5h0m-1-1h0m0-0.5h0m-3.5-1.5h0m3 0h0m2 0h0m-4.5-0.5h0m2.5-0.5h0m-0.5-0.5h0m-3-2h0m1.5-1h0m-0.5-0.5h0m-0.5-4h0m2-6h0m1.5-5.5h0m0.5-3.5h0m-4.5-4.5h0m0-7h0m3-14.5h0m0-0.5h0m3.5 114.5h0m-0.5-0.5h0m1.5 0h0m3-2h0m-4.5-0.5h0m2-1h0m0-1h0m-1.5-0.5h0m0-1h0m4 0h0m-2-0.5h0m-2.5-1h0m0-0.5h0m1.5-50.5h0m2.5-1.5h0m-2.5-1h0m4 0h0m-5-0.5h0m4.5-0.5h0m0.5-0.5h0m-4-0.5h0m-0.5-0.5h0m1.5-3h0m-0.5-0.5h0m0.5 0h0m2 0h0m1-0.5h0m0-0.5h0m-4.5-3h0m1-1h0m3.5-2h0m-3-1h0m2-5h0m-0.5-8.5h0m-3.5-1h0m5-9.5h0m2.5 99h0m-2-1h0m4-0.5h0m-1-0.5h0m-3 0h0m5.5-0.5h0m-2-1.5h0m1-0.5h0m0.5 0h0m-3-0.5h0m3 0h0m-4-1h0m2.5-55.5h0m-2.5-0.5h0m0-1h0m-0.5-0.5h0m2 0h0m-0.5-0.5h0m3 0h0m0 0h0m-3-1.5h0m0.5-1h0m2.5-0.5h0m-2.5-1.5h0m-2 0h0m2-1h0m-1.5-1.5h0m3-1h0m-4 0h0m0-6.5h0m4.5-13h0m-1.5-23h0m1.5-6h0m0-11.5h0m3 130h0m3.5-0.5h0m-5-2h0m0 0h0m2.5-1.5h0m0 0h0m-2-4.5h0m0.5-0.5h0m4.5 0h0m-3.5 0h0m0-1h0m3.5-1h0m-3-50h0m1-1h0m0.5-1h0m-1-1h0m-3 0h0m3-1h0m2.5-0.5h0m-0.5-1h0m-4 0h0m3-0.5h0m-2.5-0.5h0m1-0.5h0m-1.5-0.5h0m-0.5-1h0m-1-1h0m4-0.5h0m0 0h0m1.5-0.5h0m-2 0h0m-0.5-1h0m1 0h0m0 0h0m0.5-1.5h0m-3.5 0h0m2-0.5h0m2-1h0m0.5-2h0m-5-1h0m2.5-1.5h0m3-0.5h0m0-3h0m-1-1.5h0m1-2.5h0m-3.5-1.5h0m3-5.5h0m-0.5-2h0m0.5-4h0m-3-1.5h0m4.5 101.5h0m0-4h0m0-0.5h0m-0.5-1h0m4.5-2h0m0.5-0.5h0m-4-1h0m2.5 0h0m2-1h0m0-1h0m-2.5-1h0m-3 0h0m3-0.5h0m-1.5 0h0m-0.5-0.5h0m3.5 0h0m-2 0h0m-1.5-1h0m3.5-2.5h0m-4.5-49.5h0m1.5-0.5h0m4-1.5h0m-2-0.5h0m-0.5-1.5h0m1-0.5h0m0-1h0m0.5 0h0m1-0.5h0m-1.5 0h0m-1 0h0m2.5-0.5h0m-1 0h0m-2 0h0m3-1h0m-3.5-1h0m-2-0.5h0m3.5-0.5h0m-2-3h0m1-1.5h0m-2-2h0m4-0.5h0m-2-3h0m0-0.5h0m6.5 85.5h0m2-4.5h0m-4.5-3h0m0 0h0m3.5-0.5h0m-1-1h0m-1.5 0h0m2 0h0m0-2h0m-2 0h0m0-0.5h0m-1.5 0h0m0-1h0m1-1h0m4 0h0m-5 0h0m5-0.5h0m-3.5-1h0m0-0.5h0m0.5 0h0m-0.5-0.5h0m0-0.5h0m-0.5-1h0m0.5-0.5h0m1 0h0m2-2h0m-4.5-48h0m2.5-3h0m0.5 0h0m2.5-1h0m-2-2.5h0m0.5 0h0m-4 0h0m0.5-1.5h0m0 0h0m2 0h0m3-0.5h0m-4.5 0h0m-0.5-1h0m-0.5 0h0m4-1.5h0m-3.5-1h0m1.5-0.5h0m3.5-0.5h0m0-1.5h0m-4.5-3h0m3-10.5h0m-3.5-17h0m3.5-7h0m3 110.5h0m1.5-1.5h0m-3-2.5h0m2-0.5h0m3.5-1h0m-4-1.5h0m0.5-0.5h0m0 0h0m-1.5-0.5h0m2 0h0m-2-1h0m4 0h0m0-0.5h0m0-0.5h0m-1.5-0.5h0m-2.5 0h0m2-0.5h0m3-2.5h0m0 0h0m-2-0.5h0m-1-0.5h0m3.5-1.5h0m0-0.5h0m-0.5-1h0m0.5-0.5h0m-5-45h0m3.5-2.5h0m-2.5 0h0m3-0.5h0m-3-0.5h0m-1-0.5h0m3 0h0m1-0.5h0m-4-2h0m2 0h0m0-0.5h0m2 0h0m-4.5 0h0m4.5-1.5h0m-4.5-0.5h0m3-0.5h0m0-0.5h0m-2.5 0h0m5-2.5h0m-3.5-0.5h0m3-22.5h0m3.5 103h0m1-8.5h0m-1.5-3.5h0m0-0.5h0m3-3h0m-5.5-2h0m4.5 0h0m-4 0h0m1.5-0.5h0m1-0.5h0m0-0.5h0m0-1h0m2-0.5h0m-2.5 0h0m-1.5-0.5h0m3-1h0m-1-1.5h0m-1 0h0m-1.5-1h0m0.5 0h0m5-1h0m0-2h0m-3 0h0m1-1h0m-1-42h0m3-1h0m-4.5-1.5h0m0 0h0m-1-0.5h0m4.5 0h0m0-0.5h0m-4 0h0m3 0h0m-3.5-1h0m4.5-0.5h0m0.5 0h0m0-0.5h0m-2-0.5h0m-2-0.5h0m0-0.5h0m1-1h0m-2 0h0m1.5-0.5h0m0.5 0h0m1-1h0m-0.5-6.5h0m-2 0h0m4-13h0m-4.5-7h0m4.5-0.5h0m-1.5-1h0m-3-8.5h0m2-10h0m-2-11.5h0m0-4.5h0m3-13.5h0m5 142.5h0m1.5-3h0m-0.5-1h0m-1.5-1h0m0.5-1.5h0m-1 0h0m0.5 0h0m-1.5 0h0m-0.5-0.5h0m5.5-1.5h0m-3 0h0m3.5-2h0m-2 0h0m1.5-2h0m-1.5 0h0m-3.5-0.5h0m0.5-0.5h0m0.5 0h0m0.5 0h0m1.5-2h0m0.5 0h0m-2.5 0h0m2.5-0.5h0m-2.5-0.5h0m0.5-0.5h0m-1 0h0m2.5-3.5h0m1 0h0m1-1h0m-3.5-38.5h0m0 0h0m-1.5-1h0m2-0.5h0m2.5 0h0m1-1.5h0m-5-0.5h0m3.5-1h0m-3.5-0.5h0m0 0h0m1.5-0.5h0m0.5-0.5h0m0.5 0h0m1.5-1h0m-4-1.5h0m4.5-1h0m0 0h0m0.5-0.5h0m-1 0h0m-4.5-2h0m5.5-6.5h0m-4.5-3.5h0m3.5-3.5h0m-0.5-5.5h0m4 108h0m1.5-23.5h0m0-2h0m-1.5-2h0m2.5-0.5h0m-3.5-1h0m1.5-1.5h0m1.5-0.5h0m-4-0.5h0m5-0.5h0m-0.5-0.5h0m-3-1h0m4-1h0m-1.5-0.5h0m-3-1h0m3 0h0m0.5-0.5h0m-0.5-1h0m0 0h0m0 0h0m-1-0.5h0m0.5-0.5h0m1.5 0h0m-3.5-1h0m3 0h0m-4.5-37.5h0m1 0h0m2.5-2.5h0m-1 0h0m1-3.5h0m-1-1.5h0m-2.5-1h0m4.5 0h0m-3-0.5h0m1.5-1.5h0m1-2h0m-1-1.5h0m1-7h0m0.5-0.5h0m0.5-3h0m-1.5-3h0m1.5-5h0m-4.5-2.5h0m5-16h0m0-4h0m-4.5-9h0m6.5 136h0m0.5-21.5h0m1.5-7.5h0m-3-0.5h0m5 0h0m-4-0.5h0m2 0h0m-2.5-1.5h0m1.5-1.5h0m2.5 0h0m-2.5-2.5h0m1-1.5h0m-3-0.5h0m5-1.5h0m0-1h0m-2 0h0m0.5-3h0m1-0.5h0m-1 0h0m-3-0.5h0m2-0.5h0m-1.5-1h0m4 0h0m-1 0h0m1-2h0m-3 0h0m3-0.5h0m-2.5-1.5h0m2 0h0m-0.5-2.5h0m0.5-2h0m0-23h0m-4 0h0m0.5-0.5h0m0-2h0m2.5-1.5h0m-3.5 0h0m0.5-0.5h0m3.5-0.5h0m0-2.5h0m-1-0.5h0m-0.5 0h0m1 0h0m-0.5-0.5h0m-2.5-0.5h0m4.5-0.5h0m-1-1h0m-2-1.5h0m0-1h0m-1-6h0m1.5-2h0m1.5-16.5h0m2.5 112h0m3-9h0m1.5-1h0m-3.5-2.5h0m-1.5-3h0m5-8h0m-4.5-1h0m4.5-1.5h0m0-1h0m-4.5-1h0m0 0h0m-1-1h0m0-0.5h0m0-0.5h0m3.5-1.5h0m-2.5-0.5h0m-1-1h0m1.5-0.5h0m0.5 0h0m-1-2h0m3.5-1.5h0m-4.5-2h0m1 0h0m-0.5-0.5h0m-0.5 0h0m4-0.5h0m1-0.5h0m-2 0h0m-1.5-0.5h0m3-0.5h0m-1 0h0m-0.5-1h0m1.5 0h0m-1.5-1h0m2.5-1h0m-3.5-0.5h0m-1 0h0m2.5 0h0m-0.5 0h0m2-1.5h0m-2.5-1.5h0m0-0.5h0m1-0.5h0m0 0h0m0-2h0m-2.5 0h0m-1 0h0m1.5 0h0m0-0.5h0m3 0h0m-0.5-0.5h0m-2.5-0.5h0m1-0.5h0m0 0h0m-1 0h0m3.5-0.5h0m-0.5 0h0m-3-1h0m-1.5-20.5h0m0.5-2.5h0m1.5-1h0m3-0.5h0m0.5-0.5h0m-4.5-0.5h0m3-2h0m0 0h0m-4-0.5h0m3.5-1h0m1 0h0m1 0h0m-0.5 0h0m-1-0.5h0m-3-0.5h0m4.5-2h0m-3.5-2h0m3.5 0h0m-4-0.5h0m3.5-0.5h0m0.5-0.5h0m-5.5-1h0m4-0.5h0m-0.5-4.5h0m1-18.5h0m-4-9.5h0m8 128.5h0m0-7.5h0m-0.5-13.5h0m-2-1h0m3.5-2.5h0m-2-8.5h0m2-3h0m1.5-5h0m-3.5-0.5h0m3-1.5h0m-3 0h0m3.5-4h0m-2.5-0.5h0m2-1.5h0m0 0h0m-4.5-1h0m0.5-1h0m2-1h0m0-1.5h0m-1 0h0m1.5-1.5h0m-1-0.5h0m0.5-1.5h0m-2.5-0.5h0m1 0h0m3.5-0.5h0m-4 0h0m4-1h0m1 0h0m-1-1h0m-2-0.5h0m2-1.5h0m-1 0h0m-2.5 0h0m2-1.5h0m-1-1h0m3.5 0h0m-1-1.5h0m-3-18h0m0-1.5h0m-1 0h0m0.5 0h0m-1-0.5h0m5-0.5h0m0.5-1.5h0m-5-1h0m1.5-0.5h0m2-0.5h0m-3.5-0.5h0m3.5-0.5h0m-4-1h0m2-0.5h0m-1.5 0h0m2.5-0.5h0m2 0h0m-3 0h0m-2-2h0m0 0h0m4.5 0h0m-1.5-1h0m2-1h0m-1.5 0h0m-0.5-0.5h0m0.5 0h0m-3.5-1h0m0.5-3.5h0m2.5-11.5h0m-0.5-7.5h0m-2.5-3h0m7.5 119.5h0m4-19h0m-3-5.5h0m1.5-1h0m-1.5-3h0m1.5-4h0m0-3.5h0m0-4h0m-3-4.5h0m0.5-3.5h0m0-0.5h0m0-1h0m-1-1.5h0m1 0h0m0.5-1h0m-2-0.5h0m0.5-0.5h0m3 0h0m-4 0h0m5.5-2h0m-5 0h0m0.5-0.5h0m1 0h0m-1-1h0m5-1.5h0m-3.5 0h0m0-0.5h0m1.5 0h0m0.5-0.5h0m-3.5-2h0m2.5-2h0m-3-1h0m3.5-1h0m-1.5-0.5h0m0.5-0.5h0m2 0h0m0.5-1h0m0-1h0m0.5-1.5h0m-5-13h0m1-1.5h0m-1-2h0m2.5 0h0m2.5-0.5h0m-0.5 0h0m-0.5-1h0m-2.5-0.5h0m-0.5 0h0m3-0.5h0m-1.5-0.5h0m-3-1h0m5-1h0m-2-1h0m-0.5 0h0m1 0h0m0-0.5h0m-2.5-1h0m-0.5 0h0m4.5-1h0m-3-0.5h0m-2-2h0m3-1.5h0m1.5 0h0m-0.5 0h0m0.5-1h0m0.5-0.5h0m0 0h0m-1-6.5h0m-1.5-2h0m1.5 0h0m-1.5-24h0m6.5 126h0m-3-33.5h0m5-2.5h0m0-3.5h0m-4-2h0m4.5 0h0m-0.5-0.5h0m0.5-4.5h0m-4.5-1.5h0m3.5-1h0m-4.5-0.5h0m2.5-1.5h0m2-0.5h0m-3-1.5h0m-0.5-1.5h0m0-2h0m3-2h0m-3.5-0.5h0m2 0h0m2.5-0.5h0m-1-1h0m1-0.5h0m0-0.5h0m-0.5 0h0m0.5-0.5h0m-4 0h0m0.5-1.5h0m-0.5 0h0m3.5 0h0m0 0h0m-3-0.5h0m1-0.5h0m0.5-2h0m0.5-1h0m0 0h0m-1-1h0m0.5 0h0m-3-12h0m1.5-2h0m4-2.5h0m-0.5 0h0m-5-0.5h0m3 0h0m-1.5-1h0m1.5-0.5h0m-1.5 0h0m3.5-0.5h0m-3.5-0.5h0m3-0.5h0m1 0h0m-4.5 0h0m0.5 0h0m-1.5-0.5h0m5.5-2h0m-0.5 0h0m-0.5-0.5h0m1 0h0m-0.5-1h0m-3-1h0m2 0h0m1 0h0m-1-0.5h0m1.5-0.5h0m-1.5-0.5h0m1.5-2.5h0m-2.5-0.5h0m-1.5-1.5h0m4-1h0m-2.5-1h0m2-0.5h0m-0.5-1.5h0m0.5-0.5h0m-1.5-0.5h0m-2-9h0m6.5 105h0m-1.5-18.5h0m4.5-15.5h0m-4-6h0m-0.5-8.5h0m2.5-3.5h0m-3-1h0m0.5 0h0m3-0.5h0m-1-2h0m2-1h0m1-2h0m-4.5-1h0m2-0.5h0m-1.5-1.5h0m2.5-1h0m1.5 0h0m-5.5 0h0m0-1h0m2.5 0h0m-2.5-0.5h0m3-0.5h0m-2.5 0h0m0.5 0h0m2-0.5h0m2-0.5h0m0-0.5h0m-2.5-0.5h0m1-0.5h0m-1-1.5h0m0 0h0m-2.5-1h0m5-1h0m-4-0.5h0m1.5 0h0m-2 0h0m0-0.5h0m2-0.5h0m2.5-0.5h0m0-0.5h0m-1.5 0h0m2-0.5h0m-4.5 0h0m4.5-1h0m-4-0.5h0m4 0h0m-3.5-1h0m1.5 0h0m1-0.5h0m-0.5 0h0m0.5-0.5h0m-4.5-1.5h0m2.5-1.5h0m1-0.5h0m-2.5-0.5h0m-0.5-1h0m2.5-2.5h0m0-0.5h0m1 0h0m-4-0.5h0m4-1h0m0.5 0h0m-2-1h0m-1-0.5h0m1-0.5h0m2-0.5h0m-4-0.5h0m1-0.5h0m-1.5 0h0m1-1h0m-0.5 0h0m3.5-0.5h0m-2.5 0h0m4-10.5h0m-1.5-5h0m-2-34h0m6 155.5h0m-1.5-59h0m2.5 0h0m-1.5-0.5h0m0 0h0m0.5-3.5h0m1-3.5h0m2.5-0.5h0m-1.5-0.5h0m-1.5-0.5h0m0.5-1.5h0m-3-0.5h0m1.5-1.5h0m0 0h0m3.5-1h0m-3.5-2h0m-1-2.5h0m1-3.5h0m2.5-2h0m-0.5 0h0m-2.5 0h0m0-1h0m1.5-1.5h0m3-0.5h0m-5 0h0m0-0.5h0m1-2h0m2.5 0h0m-2.5 0h0m0-0.5h0m4 0h0m-2-0.5h0m-3 0h0m1-2h0m0-0.5h0m4-1.5h0m-3 0h0m0-0.5h0m-1.5-1.5h0m4-0.5h0m-0.5-0.5h0m-4-0.5h0m2 0h0m-1.5-0.5h0m3.5 0h0m-2.5-5h0m-2-1h0m5-0.5h0m0-4.5h0m-2.5-1.5h0m3 0h0m-1-0.5h0m0-0.5h0m1-3.5h0m-4.5-3.5h0m0.5-20h0m4-13h0m0-39.5h0m3.5 164.5h0m1.5-20h0m-2.5-0.5h0m3.5-10.5h0m-4-16.5h0m1-0.5h0m1-2h0m-3-1h0m2-7h0m1.5 0h0m-4-1.5h0m1-0.5h0m-1-2h0m4 0h0m-0.5-0.5h0m-3.5-0.5h0m1-3.5h0m-1-1.5h0m0 0h0m4 0h0m0-1h0m-3-0.5h0m0-2h0m0.5-3.5h0m-1 0h0m-0.5-1.5h0m5.5-0.5h0m-2-1.5h0m-3-0.5h0m4.5-1.5h0m-2-0.5h0m-0.5-2h0m-2-0.5h0m3-2h0m-2.5-1h0m3.5-3h0m0.5-9.5h0m-2-0.5h0m1.5-6.5h0m7 120.5h0m-2-38.5h0m-3.5-7.5h0m3-3.5h0m1-5.5h0m-1-3.5h0m0.5-11h0m-0.5-1.5h0m1.5-6.5h0m0.5-5h0m-2.5-1.5h0m-2.5-1h0m4-2h0m-2.5-0.5h0m0.5-3h0m0.5-2.5h0m2.5-2.5h0m-1.5-0.5h0m1-38h0m-4-7h0m6 78.5h0m5-1.5h0m-3.5-3.5h0m2-3h0m-1.5-4h0m1-7.5h0m-3-6h0m1.5-1h0m0-3h0m-2-1h0m1 0h0m-1-3h0m2-6.5h0m1.5-0.5h0m-0.5-2.5h0m0.5-0.5h0m-3.5-1.5h0m1-22.5h0m4-2h0m-2-3h0m0-6h0m7 127h0m-3.5-1.5h0m2.5-20.5h0m-3-1h0m4-26h0m-2-7.5h0m-1-0.5h0m3.5-0.5h0m-4.5 0h0m1.5-19.5h0m2.5-12.5h0m-3-1h0m-0.5-2.5h0m-0.5 0h0m4.5-3.5h0m-1.5-2h0m-0.5-2h0m2.5-3.5h0m-5-5h0m0.5-10.5h0m5 98.5h0m4-26.5h0m-3-9h0m2-0.5h0m3-13.5h0m-3-0.5h0m2-1h0m1-6h0m-2.5-3h0m0.5-12h0m-2-3.5h0m-1.5-2h0m0 0h0m5-2.5h0m-3.5-4.5h0m1.5-5.5h0m-3-6h0m2-6h0m-1.5 0h0m1-2h0m4.5 91h0m4-20.5h0m1-14.5h0m-4.5-9h0m4.5-17h0m-4-6h0m3.5-4.5h0m-2.5-0.5h0m0-1.5h0m-1 0h0m1.5-7h0m-1-17h0m5.5 129h0m4-27h0m-3.5-15.5h0m0.5-40h0m3-4.5h0m-3.5-20.5h0m1.5-2.5h0m1.5-2h0m-1.5-5h0m0-1h0m2-3.5h0m-3.5-3.5h0m4-7.5h0m0-4h0m-3-1.5h0m3-14.5h0m0-6h0m3.5 77h0m-3-0.5h0m1.5-16h0m-1-8h0m1-0.5h0m-1-10h0m4.5-0.5h0m-4-2h0m0-0.5h0m-0.5-24h0m9.5 52h0m0.5-16h0m-4.5-8h0m2-4h0m5 75h0m1.5-25.5h0m0-7h0m-1.5-15h0m0-10.5h0m-1-2.5h0m1-4h0m4-9.5h0m-4.5-1.5h0m2.5-2h0m7 102.5h0m-2-66h0m1.5-1h0m0.5-28h0m-2-2h0m-2-9.5h0m4.5-7.5h0m2 14h0m4-8.5h0m5.5 43h0m-1-21h0m0-5h0m1-4h0m-1-8h0m-3-4.5h0m4-13h0m5 86h0m2-33h0m-0.5-18.5h0m0-22h0m-3.5-5.5h0m1.5-21.5h0m10.5 136.5h0m0-84h0m0-16h0m18.5-52h0m5 57h0m0-15h0m0-10h0m15 27.5h0m-2-47.5h0m9.5 85.5h0m0-29.5h0m0-26.5h0m0-35h0m4.5 29h0m-2.5-65.5h0m7 50.5h0"/>
<clipPath id="clip-f"><rect x="831.9" y="1537.9" width="200" height="202.8"/></clipPath>
<g clip-path="url(#clip-f)"><g filter="url(#bl2)"><ellipse cx="859.7" cy="1715.2" rx="33.8" ry="5" fill="#473fe3" opacity="1" transform="rotate(-42.2 859.7 1715.2)"/><ellipse cx="849.7" cy="1724.3" rx="21.6" ry="5.5" fill="#4755f6" opacity="0.95" transform="rotate(-42.2 849.7 1724.3)"/><circle cx="834.7" cy="1737.9" r="22" fill="#484aee" opacity="0.85"/><circle cx="834.7" cy="1737.9" r="17.8" fill="#475cfa" opacity="0.9"/></g><g filter="url(#bl)"><circle cx="834.7" cy="1737.9" r="17" fill="#3876fe" opacity="1"/><circle cx="834.7" cy="1737.9" r="14.8" fill="#15afd9" opacity="1"/><circle cx="834.7" cy="1737.9" r="13.2" fill="#48cb86" opacity="1"/><circle cx="834.7" cy="1737.9" r="11.8" fill="#c1c32d" opacity="1"/><circle cx="834.7" cy="1737.9" r="10.4" fill="#fec437" opacity="1"/><ellipse cx="839.2" cy="1733.8" rx="8.8" ry="5.9" fill="#f6e028" opacity="1" transform="rotate(-42.2 839.2 1733.8)"/></g></g>
<line x1="834.7" y1="1737.9" x2="1112.3" y2="1486" stroke="#e8141c" stroke-opacity="0.84" stroke-width="2"/>
<text class="tk" x="834.2" y="1763.8" text-anchor="middle">0</text><text class="tk" x="825.5" y="1745.1" text-anchor="end">0</text>
<text class="tk" x="889.7" y="1763.8" text-anchor="middle">100</text><text class="tk" x="825.5" y="1694.7" text-anchor="end">100</text>
<text class="tk" x="945.2" y="1763.8" text-anchor="middle">200</text><text class="tk" x="825.5" y="1644.3" text-anchor="end">200</text>
<text class="tk" x="1000.7" y="1763.8" text-anchor="middle">300</text><text class="tk" x="825.5" y="1593.9" text-anchor="end">300</text>
<text class="tk" x="1056.2" y="1763.8" text-anchor="middle">400</text><text class="tk" x="825.5" y="1543.5" text-anchor="end">400</text>
<text class="tk" x="1111.8" y="1763.8" text-anchor="middle">500</text><text class="tk" x="825.5" y="1493.2" text-anchor="end">500</text>
<text class="tk" x="1167.3" y="1763.8" text-anchor="middle">600</text><text class="tk" x="825.5" y="1442.8" text-anchor="end">600</text>
<text class="tk" x="1222.8" y="1763.8" text-anchor="middle">700</text><text class="tk" x="825.5" y="1392.4" text-anchor="end">700</text>
<text class="tk" x="1278.3" y="1763.8" text-anchor="middle">800</text><text class="tk" x="825.5" y="1342" text-anchor="end">800</text>
<text class="tk" x="1333.8" y="1763.8" text-anchor="middle">900</text><text class="tk" x="825.5" y="1291.6" text-anchor="end">900</text>
<text class="lb" x="1084.5" y="1790.1" text-anchor="middle">PM2.5 observations</text>
<text class="lb" transform="translate(787 1511.2) rotate(-90)" text-anchor="middle">PM2.5 estimations</text>
<text class="an" x="864.9" y="1329.4">N = 67205</text>
<text class="an" x="864.9" y="1366.7">R<tspan dy="-9" font-size="16">2</tspan><tspan dy="9"> = 0.84</tspan></text>
<text class="an" x="864.9" y="1404">RMSE = 13.30 µg/m<tspan dy="-9" font-size="16">3</tspan></text>
<rect x="1364.7" y="1284.4" width="27" height="453.5" fill="url(#par)" stroke="#222" stroke-opacity="0.6" stroke-width="1.3"/>
<path d="M1391.7 1692.6h-3.3M1391.7 1647.2h-3.3M1391.7 1601.9h-3.3M1391.7 1556.5h-3.3M1391.7 1511.2h-3.3M1391.7 1465.8h-3.3M1391.7 1420.5h-3.3M1391.7 1375.1h-3.3M1391.7 1329.8h-3.3" stroke="#333" stroke-opacity="0.7" stroke-width="1.4" fill="none"/>
<text class="cb" x="1398.7" y="1744.2">0</text><text class="cb" x="1398.7" y="1698.9">0.1</text><text class="cb" x="1398.7" y="1653.5">0.2</text><text class="cb" x="1398.7" y="1608.2">0.3</text><text class="cb" x="1398.7" y="1562.8">0.4</text><text class="cb" x="1398.7" y="1517.5">0.5</text><text class="cb" x="1398.7" y="1472.1">0.6</text><text class="cb" x="1398.7" y="1426.8">0.7</text><text class="cb" x="1398.7" y="1381.4">0.8</text><text class="cb" x="1398.7" y="1336">0.9</text><text class="cb" x="1398.7" y="1290.7">1</text>
</g>
</svg>
</body></html>
